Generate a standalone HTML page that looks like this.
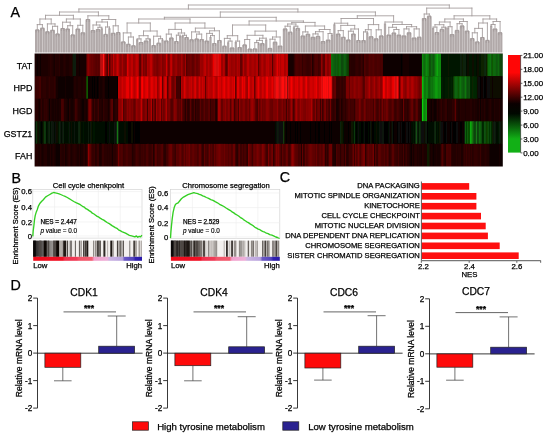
<!DOCTYPE html>
<html><head><meta charset="utf-8"><title>Figure</title>
<style>html,body{margin:0;padding:0;background:#fff;}body{width:550px;height:437px;overflow:hidden;font-family:"Liberation Sans",Arial,sans-serif;}svg text{font-family:"Liberation Sans",Arial,sans-serif;}</style>
</head><body><svg width="550" height="437" viewBox="0 0 550 437" font-family="Liberation Sans, Arial, sans-serif" style="display:block"><defs><filter id="hb" x="-2%" y="-5%" width="104%" height="110%"><feGaussianBlur stdDeviation="0.55 0.35"/></filter><clipPath id="hc"><rect x="34.6" y="53.5" width="468.2" height="113.1"/></clipPath></defs>
<g clip-path="url(#hc)"><g filter="url(#hb)">
<rect x="30.8" y="49.7" width="475.8" height="120.7" fill="#140000"/>
<rect x="34.80" y="53.70" width="1.41" height="22.64" fill="#1d0000"/>
<rect x="36.06" y="53.70" width="1.41" height="22.64" fill="#120000"/>
<rect x="37.32" y="53.70" width="1.41" height="22.64" fill="#110000"/>
<rect x="38.58" y="53.70" width="1.41" height="22.64" fill="#1b0000"/>
<rect x="39.84" y="53.70" width="1.41" height="22.64" fill="#0f0000"/>
<rect x="41.10" y="53.70" width="1.41" height="22.64" fill="#200000"/>
<rect x="42.37" y="53.70" width="1.41" height="22.64" fill="#1c0000"/>
<rect x="43.63" y="53.70" width="1.41" height="22.64" fill="#200000"/>
<rect x="44.89" y="53.70" width="1.41" height="22.64" fill="#1d0000"/>
<rect x="46.15" y="53.70" width="1.41" height="22.64" fill="#1b0000"/>
<rect x="47.41" y="53.70" width="1.41" height="22.64" fill="#250000"/>
<rect x="48.67" y="53.70" width="1.41" height="22.64" fill="#240000"/>
<rect x="49.93" y="53.70" width="1.41" height="22.64" fill="#290000"/>
<rect x="51.19" y="53.70" width="1.41" height="22.64" fill="#280000"/>
<rect x="52.45" y="53.70" width="1.41" height="22.64" fill="#260000"/>
<rect x="53.71" y="53.70" width="1.41" height="22.64" fill="#120000"/>
<rect x="54.97" y="53.70" width="1.41" height="22.64" fill="#280000"/>
<rect x="56.24" y="53.70" width="1.41" height="22.64" fill="#260000"/>
<rect x="57.50" y="53.70" width="1.41" height="22.64" fill="#270000"/>
<rect x="58.76" y="53.70" width="1.41" height="22.64" fill="#290000"/>
<rect x="60.02" y="53.70" width="1.41" height="22.64" fill="#200000"/>
<rect x="61.28" y="53.70" width="1.41" height="22.64" fill="#220000"/>
<rect x="62.54" y="53.70" width="1.41" height="22.64" fill="#240000"/>
<rect x="63.80" y="53.70" width="1.41" height="22.64" fill="#260000"/>
<rect x="65.06" y="53.70" width="1.41" height="22.64" fill="#220000"/>
<rect x="66.32" y="53.70" width="1.41" height="22.64" fill="#200000"/>
<rect x="67.58" y="53.70" width="1.41" height="22.64" fill="#1f0000"/>
<rect x="68.84" y="53.70" width="1.41" height="22.64" fill="#240000"/>
<rect x="70.11" y="53.70" width="1.41" height="22.64" fill="#250000"/>
<rect x="71.37" y="53.70" width="1.41" height="22.64" fill="#240000"/>
<rect x="72.63" y="53.70" width="1.41" height="22.64" fill="#0c1b08"/>
<rect x="73.89" y="53.70" width="2.67" height="22.64" fill="#0c1a08"/>
<rect x="76.41" y="53.70" width="1.41" height="22.64" fill="#1a0000"/>
<rect x="77.67" y="53.70" width="1.41" height="22.64" fill="#170000"/>
<rect x="78.93" y="53.70" width="1.41" height="22.64" fill="#0e0000"/>
<rect x="80.19" y="53.70" width="3.93" height="22.64" fill="#160000"/>
<rect x="83.98" y="53.70" width="1.41" height="22.64" fill="#170000"/>
<rect x="85.24" y="53.70" width="1.41" height="22.64" fill="#160000"/>
<rect x="86.50" y="53.70" width="1.41" height="22.64" fill="#830000"/>
<rect x="87.76" y="53.70" width="1.41" height="22.64" fill="#8a0000"/>
<rect x="89.02" y="53.70" width="1.41" height="22.64" fill="#7b0000"/>
<rect x="90.28" y="53.70" width="1.41" height="22.64" fill="#7e0000"/>
<rect x="91.54" y="53.70" width="1.41" height="22.64" fill="#720000"/>
<rect x="92.80" y="53.70" width="1.41" height="22.64" fill="#620000"/>
<rect x="94.06" y="53.70" width="1.41" height="22.64" fill="#630000"/>
<rect x="95.32" y="53.70" width="1.41" height="22.64" fill="#6b0000"/>
<rect x="96.58" y="53.70" width="1.41" height="22.64" fill="#5e0000"/>
<rect x="97.85" y="53.70" width="1.41" height="22.64" fill="#570000"/>
<rect x="99.11" y="53.70" width="1.41" height="22.64" fill="#620000"/>
<rect x="100.37" y="53.70" width="1.41" height="22.64" fill="#f01313"/>
<rect x="101.63" y="53.70" width="1.41" height="22.64" fill="#b20e0e"/>
<rect x="102.89" y="53.70" width="1.41" height="22.64" fill="#fd1414"/>
<rect x="104.15" y="53.70" width="1.41" height="22.64" fill="#cf0000"/>
<rect x="105.41" y="53.70" width="1.41" height="22.64" fill="#990000"/>
<rect x="106.67" y="53.70" width="1.41" height="22.64" fill="#4b0000"/>
<rect x="107.93" y="53.70" width="1.41" height="22.64" fill="#b80000"/>
<rect x="109.19" y="53.70" width="1.41" height="22.64" fill="#550000"/>
<rect x="110.45" y="53.70" width="1.41" height="22.64" fill="#ae0000"/>
<rect x="111.72" y="53.70" width="1.41" height="22.64" fill="#820000"/>
<rect x="112.98" y="53.70" width="1.41" height="22.64" fill="#c00000"/>
<rect x="114.24" y="53.70" width="1.41" height="22.64" fill="#b20000"/>
<rect x="115.50" y="53.70" width="1.41" height="22.64" fill="#b60000"/>
<rect x="116.76" y="53.70" width="1.41" height="22.64" fill="#c90000"/>
<rect x="118.02" y="53.70" width="1.41" height="22.64" fill="#ba0000"/>
<rect x="119.28" y="53.70" width="1.41" height="22.64" fill="#ac0000"/>
<rect x="120.54" y="53.70" width="1.41" height="22.64" fill="#8e0000"/>
<rect x="121.80" y="53.70" width="1.41" height="22.64" fill="#a80000"/>
<rect x="123.06" y="53.70" width="1.41" height="22.64" fill="#8f0000"/>
<rect x="124.33" y="53.70" width="1.41" height="22.64" fill="#9f0000"/>
<rect x="125.59" y="53.70" width="1.41" height="22.64" fill="#7c0000"/>
<rect x="126.85" y="53.70" width="1.41" height="22.64" fill="#de0000"/>
<rect x="128.11" y="53.70" width="1.41" height="22.64" fill="#d30000"/>
<rect x="129.37" y="53.70" width="1.41" height="22.64" fill="#c50000"/>
<rect x="130.63" y="53.70" width="2.67" height="22.64" fill="#be0000"/>
<rect x="133.15" y="53.70" width="1.41" height="22.64" fill="#aa0000"/>
<rect x="134.41" y="53.70" width="1.41" height="22.64" fill="#c50000"/>
<rect x="135.67" y="53.70" width="1.41" height="22.64" fill="#bf0000"/>
<rect x="136.93" y="53.70" width="1.41" height="22.64" fill="#bd0000"/>
<rect x="138.20" y="53.70" width="1.41" height="22.64" fill="#bc0000"/>
<rect x="139.46" y="53.70" width="1.41" height="22.64" fill="#4a0000"/>
<rect x="140.72" y="53.70" width="1.41" height="22.64" fill="#920000"/>
<rect x="141.98" y="53.70" width="1.41" height="22.64" fill="#a80000"/>
<rect x="143.24" y="53.70" width="2.67" height="22.64" fill="#860000"/>
<rect x="145.76" y="53.70" width="1.41" height="22.64" fill="#740000"/>
<rect x="147.02" y="53.70" width="1.41" height="22.64" fill="#b00000"/>
<rect x="148.28" y="53.70" width="1.41" height="22.64" fill="#c00000"/>
<rect x="149.54" y="53.70" width="1.41" height="22.64" fill="#c80000"/>
<rect x="150.80" y="53.70" width="1.41" height="22.64" fill="#c10000"/>
<rect x="152.07" y="53.70" width="1.41" height="22.64" fill="#ac0000"/>
<rect x="153.33" y="53.70" width="1.41" height="22.64" fill="#a20000"/>
<rect x="154.59" y="53.70" width="1.41" height="22.64" fill="#8a0000"/>
<rect x="155.85" y="53.70" width="1.41" height="22.64" fill="#7b0000"/>
<rect x="157.11" y="53.70" width="1.41" height="22.64" fill="#7f0000"/>
<rect x="158.37" y="53.70" width="1.41" height="22.64" fill="#a40000"/>
<rect x="159.63" y="53.70" width="1.41" height="22.64" fill="#930000"/>
<rect x="160.89" y="53.70" width="1.41" height="22.64" fill="#9d0000"/>
<rect x="162.15" y="53.70" width="1.41" height="22.64" fill="#8b0000"/>
<rect x="163.41" y="53.70" width="1.41" height="22.64" fill="#a20000"/>
<rect x="164.67" y="53.70" width="1.41" height="22.64" fill="#8b0000"/>
<rect x="165.94" y="53.70" width="1.41" height="22.64" fill="#ce0000"/>
<rect x="167.20" y="53.70" width="1.41" height="22.64" fill="#af0000"/>
<rect x="168.46" y="53.70" width="1.41" height="22.64" fill="#7b0000"/>
<rect x="169.72" y="53.70" width="1.41" height="22.64" fill="#b90000"/>
<rect x="170.98" y="53.70" width="1.41" height="22.64" fill="#c40000"/>
<rect x="172.24" y="53.70" width="1.41" height="22.64" fill="#aa0000"/>
<rect x="173.50" y="53.70" width="1.41" height="22.64" fill="#950000"/>
<rect x="174.76" y="53.70" width="1.41" height="22.64" fill="#980000"/>
<rect x="176.02" y="53.70" width="1.41" height="22.64" fill="#a10000"/>
<rect x="177.28" y="53.70" width="1.41" height="22.64" fill="#9c0000"/>
<rect x="178.54" y="53.70" width="1.41" height="22.64" fill="#8f0000"/>
<rect x="179.81" y="53.70" width="1.41" height="22.64" fill="#830000"/>
<rect x="181.07" y="53.70" width="1.41" height="22.64" fill="#ab0000"/>
<rect x="182.33" y="53.70" width="1.41" height="22.64" fill="#ac0000"/>
<rect x="183.59" y="53.70" width="1.41" height="22.64" fill="#6f0000"/>
<rect x="184.85" y="53.70" width="1.41" height="22.64" fill="#a30000"/>
<rect x="186.11" y="53.70" width="1.41" height="22.64" fill="#570000"/>
<rect x="187.37" y="53.70" width="1.41" height="22.64" fill="#7e0000"/>
<rect x="188.63" y="53.70" width="1.41" height="22.64" fill="#680000"/>
<rect x="189.89" y="53.70" width="1.41" height="22.64" fill="#700000"/>
<rect x="191.15" y="53.70" width="1.41" height="22.64" fill="#760000"/>
<rect x="192.41" y="53.70" width="1.41" height="22.64" fill="#6b0000"/>
<rect x="193.68" y="53.70" width="1.41" height="22.64" fill="#6e0000"/>
<rect x="194.94" y="53.70" width="1.41" height="22.64" fill="#7b0000"/>
<rect x="196.20" y="53.70" width="1.41" height="22.64" fill="#760000"/>
<rect x="197.46" y="53.70" width="1.41" height="22.64" fill="#7e0000"/>
<rect x="198.72" y="53.70" width="1.41" height="22.64" fill="#770000"/>
<rect x="199.98" y="53.70" width="1.41" height="22.64" fill="#9e0000"/>
<rect x="201.24" y="53.70" width="1.41" height="22.64" fill="#b20000"/>
<rect x="202.50" y="53.70" width="1.41" height="22.64" fill="#b30000"/>
<rect x="203.76" y="53.70" width="1.41" height="22.64" fill="#bb0000"/>
<rect x="205.02" y="53.70" width="1.41" height="22.64" fill="#c40000"/>
<rect x="206.28" y="53.70" width="1.41" height="22.64" fill="#b60000"/>
<rect x="207.55" y="53.70" width="1.41" height="22.64" fill="#c00000"/>
<rect x="208.81" y="53.70" width="1.41" height="22.64" fill="#a60000"/>
<rect x="210.07" y="53.70" width="1.41" height="22.64" fill="#a50000"/>
<rect x="211.33" y="53.70" width="1.41" height="22.64" fill="#ce0000"/>
<rect x="212.59" y="53.70" width="1.41" height="22.64" fill="#ee0000"/>
<rect x="213.85" y="53.70" width="1.41" height="22.64" fill="#df0e0e"/>
<rect x="215.11" y="53.70" width="1.41" height="22.64" fill="#f70f0f"/>
<rect x="216.37" y="53.70" width="1.41" height="22.64" fill="#ff1010"/>
<rect x="217.63" y="53.70" width="1.41" height="22.64" fill="#e20e0e"/>
<rect x="218.89" y="53.70" width="1.41" height="22.64" fill="#dd0000"/>
<rect x="220.15" y="53.70" width="1.41" height="22.64" fill="#f70000"/>
<rect x="221.42" y="53.70" width="1.41" height="22.64" fill="#a80000"/>
<rect x="222.68" y="53.70" width="1.41" height="22.64" fill="#b50000"/>
<rect x="223.94" y="53.70" width="1.41" height="22.64" fill="#a90000"/>
<rect x="225.20" y="53.70" width="1.41" height="22.64" fill="#740000"/>
<rect x="226.46" y="53.70" width="1.41" height="22.64" fill="#610000"/>
<rect x="227.72" y="53.70" width="1.41" height="22.64" fill="#b80000"/>
<rect x="228.98" y="53.70" width="1.41" height="22.64" fill="#a40000"/>
<rect x="230.24" y="53.70" width="1.41" height="22.64" fill="#be0000"/>
<rect x="231.50" y="53.70" width="1.41" height="22.64" fill="#a60000"/>
<rect x="232.76" y="53.70" width="1.41" height="22.64" fill="#9d0000"/>
<rect x="234.02" y="53.70" width="1.41" height="22.64" fill="#a50000"/>
<rect x="235.29" y="53.70" width="1.41" height="22.64" fill="#aa0000"/>
<rect x="236.55" y="53.70" width="1.41" height="22.64" fill="#b70000"/>
<rect x="237.81" y="53.70" width="1.41" height="22.64" fill="#a00000"/>
<rect x="239.07" y="53.70" width="1.41" height="22.64" fill="#af0000"/>
<rect x="240.33" y="53.70" width="1.41" height="22.64" fill="#680000"/>
<rect x="241.59" y="53.70" width="1.41" height="22.64" fill="#7c0000"/>
<rect x="242.85" y="53.70" width="1.41" height="22.64" fill="#b10000"/>
<rect x="244.11" y="53.70" width="1.41" height="22.64" fill="#9e0000"/>
<rect x="245.37" y="53.70" width="1.41" height="22.64" fill="#ab0000"/>
<rect x="246.63" y="53.70" width="1.41" height="22.64" fill="#ba0000"/>
<rect x="247.89" y="53.70" width="1.41" height="22.64" fill="#bd0000"/>
<rect x="249.16" y="53.70" width="1.41" height="22.64" fill="#b30000"/>
<rect x="250.42" y="53.70" width="1.41" height="22.64" fill="#bd0000"/>
<rect x="251.68" y="53.70" width="1.41" height="22.64" fill="#ad0000"/>
<rect x="252.94" y="53.70" width="1.41" height="22.64" fill="#ab0000"/>
<rect x="254.20" y="53.70" width="1.41" height="22.64" fill="#b40000"/>
<rect x="255.46" y="53.70" width="1.41" height="22.64" fill="#c50000"/>
<rect x="256.72" y="53.70" width="1.41" height="22.64" fill="#b40000"/>
<rect x="257.98" y="53.70" width="1.41" height="22.64" fill="#5b0000"/>
<rect x="259.24" y="53.70" width="1.41" height="22.64" fill="#a20000"/>
<rect x="260.50" y="53.70" width="1.41" height="22.64" fill="#b60000"/>
<rect x="261.76" y="53.70" width="1.41" height="22.64" fill="#b30000"/>
<rect x="263.03" y="53.70" width="1.41" height="22.64" fill="#a60000"/>
<rect x="264.29" y="53.70" width="1.41" height="22.64" fill="#b20000"/>
<rect x="265.55" y="53.70" width="1.41" height="22.64" fill="#c00000"/>
<rect x="266.81" y="53.70" width="1.41" height="22.64" fill="#b40000"/>
<rect x="268.07" y="53.70" width="1.41" height="22.64" fill="#c50000"/>
<rect x="269.33" y="53.70" width="1.41" height="22.64" fill="#c00000"/>
<rect x="270.59" y="53.70" width="1.41" height="22.64" fill="#b90000"/>
<rect x="271.85" y="53.70" width="1.41" height="22.64" fill="#550000"/>
<rect x="273.11" y="53.70" width="1.41" height="22.64" fill="#a40000"/>
<rect x="274.37" y="53.70" width="1.41" height="22.64" fill="#c80000"/>
<rect x="275.64" y="53.70" width="1.41" height="22.64" fill="#c10000"/>
<rect x="276.90" y="53.70" width="1.41" height="22.64" fill="#e20000"/>
<rect x="278.16" y="53.70" width="2.67" height="22.64" fill="#c90000"/>
<rect x="280.68" y="53.70" width="1.41" height="22.64" fill="#c40000"/>
<rect x="281.94" y="53.70" width="1.41" height="22.64" fill="#c80000"/>
<rect x="283.20" y="53.70" width="1.41" height="22.64" fill="#e60000"/>
<rect x="284.46" y="53.70" width="1.41" height="22.64" fill="#b90000"/>
<rect x="285.72" y="53.70" width="1.41" height="22.64" fill="#bc0000"/>
<rect x="286.98" y="53.70" width="1.41" height="22.64" fill="#b00000"/>
<rect x="288.24" y="53.70" width="1.41" height="22.64" fill="#160000"/>
<rect x="289.51" y="53.70" width="1.41" height="22.64" fill="#150000"/>
<rect x="290.77" y="53.70" width="2.67" height="22.64" fill="#140000"/>
<rect x="293.29" y="53.70" width="1.41" height="22.64" fill="#240000"/>
<rect x="294.55" y="53.70" width="1.41" height="22.64" fill="#470000"/>
<rect x="295.81" y="53.70" width="1.41" height="22.64" fill="#4b0000"/>
<rect x="297.07" y="53.70" width="1.41" height="22.64" fill="#4d0000"/>
<rect x="298.33" y="53.70" width="1.41" height="22.64" fill="#500000"/>
<rect x="299.59" y="53.70" width="1.41" height="22.64" fill="#480000"/>
<rect x="300.85" y="53.70" width="1.41" height="22.64" fill="#450000"/>
<rect x="302.11" y="53.70" width="1.41" height="22.64" fill="#360000"/>
<rect x="303.38" y="53.70" width="1.41" height="22.64" fill="#510000"/>
<rect x="304.64" y="53.70" width="1.41" height="22.64" fill="#3e0000"/>
<rect x="305.90" y="53.70" width="1.41" height="22.64" fill="#370000"/>
<rect x="307.16" y="53.70" width="1.41" height="22.64" fill="#3c0000"/>
<rect x="308.42" y="53.70" width="1.41" height="22.64" fill="#3f0000"/>
<rect x="309.68" y="53.70" width="1.41" height="22.64" fill="#3d0000"/>
<rect x="310.94" y="53.70" width="1.41" height="22.64" fill="#4d0000"/>
<rect x="312.20" y="53.70" width="1.41" height="22.64" fill="#220000"/>
<rect x="313.46" y="53.70" width="1.41" height="22.64" fill="#490000"/>
<rect x="314.72" y="53.70" width="1.41" height="22.64" fill="#500000"/>
<rect x="315.98" y="53.70" width="2.67" height="22.64" fill="#4d0000"/>
<rect x="318.51" y="53.70" width="1.41" height="22.64" fill="#430000"/>
<rect x="319.77" y="53.70" width="1.41" height="22.64" fill="#4e0000"/>
<rect x="321.03" y="53.70" width="1.41" height="22.64" fill="#970000"/>
<rect x="322.29" y="53.70" width="1.41" height="22.64" fill="#890000"/>
<rect x="323.55" y="53.70" width="1.41" height="22.64" fill="#4b0000"/>
<rect x="324.81" y="53.70" width="2.67" height="22.64" fill="#9d0000"/>
<rect x="327.33" y="53.70" width="1.41" height="22.64" fill="#960000"/>
<rect x="328.59" y="53.70" width="1.41" height="22.64" fill="#950000"/>
<rect x="329.85" y="53.70" width="1.41" height="22.64" fill="#9e0000"/>
<rect x="331.12" y="53.70" width="1.41" height="22.64" fill="#0f790f"/>
<rect x="332.38" y="53.70" width="1.41" height="22.64" fill="#108110"/>
<rect x="333.64" y="53.70" width="1.41" height="22.64" fill="#0a5d0a"/>
<rect x="334.90" y="53.70" width="1.41" height="22.64" fill="#095609"/>
<rect x="336.16" y="53.70" width="1.41" height="22.64" fill="#096f09"/>
<rect x="337.42" y="53.70" width="1.41" height="22.64" fill="#096909"/>
<rect x="338.68" y="53.70" width="1.41" height="22.64" fill="#096509"/>
<rect x="339.94" y="53.70" width="1.41" height="22.64" fill="#0a620a"/>
<rect x="341.20" y="53.70" width="1.41" height="22.64" fill="#095409"/>
<rect x="342.46" y="53.70" width="1.41" height="22.64" fill="#0a5b0a"/>
<rect x="343.72" y="53.70" width="1.41" height="22.64" fill="#0a620a"/>
<rect x="344.99" y="53.70" width="1.41" height="22.64" fill="#0a5a0a"/>
<rect x="346.25" y="53.70" width="1.41" height="22.64" fill="#095509"/>
<rect x="347.51" y="53.70" width="1.41" height="22.64" fill="#095109"/>
<rect x="348.77" y="53.70" width="1.41" height="22.64" fill="#280000"/>
<rect x="350.03" y="53.70" width="1.41" height="22.64" fill="#2c0000"/>
<rect x="351.29" y="53.70" width="1.41" height="22.64" fill="#290000"/>
<rect x="352.55" y="53.70" width="1.41" height="22.64" fill="#2b0000"/>
<rect x="353.81" y="53.70" width="1.41" height="22.64" fill="#280000"/>
<rect x="355.07" y="53.70" width="3.93" height="22.64" fill="#300000"/>
<rect x="358.86" y="53.70" width="1.41" height="22.64" fill="#2b0000"/>
<rect x="360.12" y="53.70" width="1.41" height="22.64" fill="#310000"/>
<rect x="361.38" y="53.70" width="1.41" height="22.64" fill="#490000"/>
<rect x="362.64" y="53.70" width="1.41" height="22.64" fill="#220000"/>
<rect x="363.90" y="53.70" width="1.41" height="22.64" fill="#500000"/>
<rect x="365.16" y="53.70" width="1.41" height="22.64" fill="#510000"/>
<rect x="366.42" y="53.70" width="1.41" height="22.64" fill="#470000"/>
<rect x="367.68" y="53.70" width="1.41" height="22.64" fill="#460000"/>
<rect x="368.94" y="53.70" width="1.41" height="22.64" fill="#520000"/>
<rect x="370.20" y="53.70" width="1.41" height="22.64" fill="#570000"/>
<rect x="371.46" y="53.70" width="1.41" height="22.64" fill="#590000"/>
<rect x="372.73" y="53.70" width="1.41" height="22.64" fill="#530000"/>
<rect x="373.99" y="53.70" width="1.41" height="22.64" fill="#4b0000"/>
<rect x="375.25" y="53.70" width="1.41" height="22.64" fill="#510000"/>
<rect x="376.51" y="53.70" width="1.41" height="22.64" fill="#550000"/>
<rect x="377.77" y="53.70" width="1.41" height="22.64" fill="#4b0000"/>
<rect x="379.03" y="53.70" width="1.41" height="22.64" fill="#4c0000"/>
<rect x="380.29" y="53.70" width="1.41" height="22.64" fill="#500000"/>
<rect x="381.55" y="53.70" width="1.41" height="22.64" fill="#560000"/>
<rect x="382.81" y="53.70" width="5.19" height="22.64" fill="#0e0000"/>
<rect x="387.86" y="53.70" width="1.41" height="22.64" fill="#100000"/>
<rect x="389.12" y="53.70" width="1.41" height="22.64" fill="#0e0000"/>
<rect x="390.38" y="53.70" width="1.41" height="22.64" fill="#100000"/>
<rect x="391.64" y="53.70" width="2.67" height="22.64" fill="#0d0000"/>
<rect x="394.16" y="53.70" width="2.67" height="22.64" fill="#080000"/>
<rect x="396.68" y="53.70" width="1.41" height="22.64" fill="#0a0000"/>
<rect x="397.94" y="53.70" width="2.67" height="22.64" fill="#090000"/>
<rect x="400.47" y="53.70" width="1.41" height="22.64" fill="#040000"/>
<rect x="401.73" y="53.70" width="1.41" height="22.64" fill="#0a0000"/>
<rect x="402.99" y="53.70" width="1.41" height="22.64" fill="#160000"/>
<rect x="404.25" y="53.70" width="1.41" height="22.64" fill="#180000"/>
<rect x="405.51" y="53.70" width="1.41" height="22.64" fill="#150000"/>
<rect x="406.77" y="53.70" width="1.41" height="22.64" fill="#160000"/>
<rect x="408.03" y="53.70" width="1.41" height="22.64" fill="#180000"/>
<rect x="409.29" y="53.70" width="1.41" height="22.64" fill="#040000"/>
<rect x="410.55" y="53.70" width="2.67" height="22.64" fill="#090000"/>
<rect x="413.07" y="53.70" width="1.41" height="22.64" fill="#080000"/>
<rect x="414.34" y="53.70" width="2.67" height="22.64" fill="#0a0000"/>
<rect x="416.86" y="53.70" width="2.67" height="22.64" fill="#080000"/>
<rect x="419.38" y="53.70" width="2.67" height="22.64" fill="#090000"/>
<rect x="421.90" y="53.70" width="1.41" height="22.64" fill="#0a8b0a"/>
<rect x="423.16" y="53.70" width="1.41" height="22.64" fill="#098209"/>
<rect x="424.42" y="53.70" width="1.41" height="22.64" fill="#098409"/>
<rect x="425.68" y="53.70" width="1.41" height="22.64" fill="#0a8d0a"/>
<rect x="426.95" y="53.70" width="1.41" height="22.64" fill="#097e09"/>
<rect x="428.21" y="53.70" width="1.41" height="22.64" fill="#098609"/>
<rect x="429.47" y="53.70" width="1.41" height="22.64" fill="#095609"/>
<rect x="430.73" y="53.70" width="1.41" height="22.64" fill="#0a680a"/>
<rect x="431.99" y="53.70" width="1.41" height="22.64" fill="#095f09"/>
<rect x="433.25" y="53.70" width="1.41" height="22.64" fill="#0a680a"/>
<rect x="434.51" y="53.70" width="1.41" height="22.64" fill="#098b09"/>
<rect x="435.77" y="53.70" width="1.41" height="22.64" fill="#099709"/>
<rect x="437.03" y="53.70" width="1.41" height="22.64" fill="#11ad11"/>
<rect x="438.29" y="53.70" width="1.41" height="22.64" fill="#0f9d0f"/>
<rect x="439.55" y="53.70" width="1.41" height="22.64" fill="#10a910"/>
<rect x="440.82" y="53.70" width="1.41" height="22.64" fill="#041604"/>
<rect x="442.08" y="53.70" width="2.67" height="22.64" fill="#051905"/>
<rect x="444.60" y="53.70" width="2.67" height="22.64" fill="#041704"/>
<rect x="447.12" y="53.70" width="1.41" height="22.64" fill="#041604"/>
<rect x="448.38" y="53.70" width="1.41" height="22.64" fill="#051a05"/>
<rect x="449.64" y="53.70" width="1.41" height="22.64" fill="#041704"/>
<rect x="450.90" y="53.70" width="1.41" height="22.64" fill="#051905"/>
<rect x="452.16" y="53.70" width="1.41" height="22.64" fill="#041704"/>
<rect x="453.42" y="53.70" width="1.41" height="22.64" fill="#051905"/>
<rect x="454.69" y="53.70" width="1.41" height="22.64" fill="#041704"/>
<rect x="455.95" y="53.70" width="1.41" height="22.64" fill="#041604"/>
<rect x="457.21" y="53.70" width="1.41" height="22.64" fill="#041704"/>
<rect x="458.47" y="53.70" width="1.41" height="22.64" fill="#051a05"/>
<rect x="459.73" y="53.70" width="1.41" height="22.64" fill="#082408"/>
<rect x="460.99" y="53.70" width="1.41" height="22.64" fill="#071e07"/>
<rect x="462.25" y="53.70" width="3.93" height="22.64" fill="#082408"/>
<rect x="466.03" y="53.70" width="1.41" height="22.64" fill="#051205"/>
<rect x="467.29" y="53.70" width="1.41" height="22.64" fill="#061406"/>
<rect x="468.56" y="53.70" width="3.93" height="22.64" fill="#051305"/>
<rect x="472.34" y="53.70" width="1.41" height="22.64" fill="#061506"/>
<rect x="473.60" y="53.70" width="1.41" height="22.64" fill="#051205"/>
<rect x="474.86" y="53.70" width="1.41" height="22.64" fill="#061506"/>
<rect x="476.12" y="53.70" width="1.41" height="22.64" fill="#051305"/>
<rect x="477.38" y="53.70" width="1.41" height="22.64" fill="#061506"/>
<rect x="478.64" y="53.70" width="2.67" height="22.64" fill="#061406"/>
<rect x="481.16" y="53.70" width="1.41" height="22.64" fill="#072607"/>
<rect x="482.43" y="53.70" width="1.41" height="22.64" fill="#082a08"/>
<rect x="483.69" y="53.70" width="1.41" height="22.64" fill="#082808"/>
<rect x="484.95" y="53.70" width="1.41" height="22.64" fill="#082b08"/>
<rect x="486.21" y="53.70" width="1.41" height="22.64" fill="#072407"/>
<rect x="487.47" y="53.70" width="1.41" height="22.64" fill="#0a740a"/>
<rect x="488.73" y="53.70" width="1.41" height="22.64" fill="#096e09"/>
<rect x="489.99" y="53.70" width="1.41" height="22.64" fill="#0a750a"/>
<rect x="491.25" y="53.70" width="1.41" height="22.64" fill="#096709"/>
<rect x="492.51" y="53.70" width="1.41" height="22.64" fill="#0a710a"/>
<rect x="493.77" y="53.70" width="1.41" height="22.64" fill="#096909"/>
<rect x="495.03" y="53.70" width="1.41" height="22.64" fill="#096809"/>
<rect x="496.30" y="53.70" width="1.41" height="22.64" fill="#096c09"/>
<rect x="497.56" y="53.70" width="1.41" height="22.64" fill="#0a700a"/>
<rect x="498.82" y="53.70" width="1.41" height="22.64" fill="#0a520a"/>
<rect x="500.08" y="53.70" width="1.41" height="22.64" fill="#094f09"/>
<rect x="501.34" y="53.70" width="1.41" height="22.64" fill="#0a560a"/>
<rect x="34.80" y="76.24" width="1.41" height="22.64" fill="#3a0000"/>
<rect x="36.06" y="76.24" width="1.41" height="22.64" fill="#3b0000"/>
<rect x="37.32" y="76.24" width="1.41" height="22.64" fill="#450000"/>
<rect x="38.58" y="76.24" width="2.67" height="22.64" fill="#440000"/>
<rect x="41.10" y="76.24" width="1.41" height="22.64" fill="#2d0000"/>
<rect x="42.37" y="76.24" width="1.41" height="22.64" fill="#330000"/>
<rect x="43.63" y="76.24" width="1.41" height="22.64" fill="#300000"/>
<rect x="44.89" y="76.24" width="1.41" height="22.64" fill="#2d0000"/>
<rect x="46.15" y="76.24" width="1.41" height="22.64" fill="#2c0000"/>
<rect x="47.41" y="76.24" width="1.41" height="22.64" fill="#2d0000"/>
<rect x="48.67" y="76.24" width="1.41" height="22.64" fill="#310000"/>
<rect x="49.93" y="76.24" width="1.41" height="22.64" fill="#2b0000"/>
<rect x="51.19" y="76.24" width="1.41" height="22.64" fill="#310000"/>
<rect x="52.45" y="76.24" width="1.41" height="22.64" fill="#2e0000"/>
<rect x="53.71" y="76.24" width="1.41" height="22.64" fill="#320000"/>
<rect x="54.97" y="76.24" width="1.41" height="22.64" fill="#2c0000"/>
<rect x="56.24" y="76.24" width="1.41" height="22.64" fill="#110000"/>
<rect x="57.50" y="76.24" width="1.41" height="22.64" fill="#120000"/>
<rect x="58.76" y="76.24" width="1.41" height="22.64" fill="#100000"/>
<rect x="60.02" y="76.24" width="5.19" height="22.64" fill="#110000"/>
<rect x="65.06" y="76.24" width="1.41" height="22.64" fill="#130000"/>
<rect x="66.32" y="76.24" width="1.41" height="22.64" fill="#110000"/>
<rect x="67.58" y="76.24" width="1.41" height="22.64" fill="#120000"/>
<rect x="68.84" y="76.24" width="1.41" height="22.64" fill="#100000"/>
<rect x="70.11" y="76.24" width="3.93" height="22.64" fill="#110000"/>
<rect x="73.89" y="76.24" width="1.41" height="22.64" fill="#200000"/>
<rect x="75.15" y="76.24" width="1.41" height="22.64" fill="#240000"/>
<rect x="76.41" y="76.24" width="1.41" height="22.64" fill="#210000"/>
<rect x="77.67" y="76.24" width="1.41" height="22.64" fill="#230000"/>
<rect x="78.93" y="76.24" width="1.41" height="22.64" fill="#210000"/>
<rect x="80.19" y="76.24" width="1.41" height="22.64" fill="#240000"/>
<rect x="81.45" y="76.24" width="1.41" height="22.64" fill="#210000"/>
<rect x="82.71" y="76.24" width="1.41" height="22.64" fill="#250000"/>
<rect x="83.98" y="76.24" width="1.41" height="22.64" fill="#220000"/>
<rect x="85.24" y="76.24" width="1.41" height="22.64" fill="#260000"/>
<rect x="86.50" y="76.24" width="1.41" height="22.64" fill="#097d09"/>
<rect x="87.76" y="76.24" width="3.93" height="22.64" fill="#080000"/>
<rect x="91.54" y="76.24" width="1.41" height="22.64" fill="#070000"/>
<rect x="92.80" y="76.24" width="1.41" height="22.64" fill="#080000"/>
<rect x="94.06" y="76.24" width="1.41" height="22.64" fill="#070000"/>
<rect x="95.32" y="76.24" width="1.41" height="22.64" fill="#080000"/>
<rect x="96.58" y="76.24" width="1.41" height="22.64" fill="#070000"/>
<rect x="97.85" y="76.24" width="1.41" height="22.64" fill="#080000"/>
<rect x="99.11" y="76.24" width="1.41" height="22.64" fill="#1d0000"/>
<rect x="100.37" y="76.24" width="1.41" height="22.64" fill="#170000"/>
<rect x="101.63" y="76.24" width="1.41" height="22.64" fill="#1d0000"/>
<rect x="102.89" y="76.24" width="1.41" height="22.64" fill="#200000"/>
<rect x="104.15" y="76.24" width="1.41" height="22.64" fill="#1e0000"/>
<rect x="105.41" y="76.24" width="2.67" height="22.64" fill="#0a0500"/>
<rect x="107.93" y="76.24" width="1.41" height="22.64" fill="#060300"/>
<rect x="109.19" y="76.24" width="1.41" height="22.64" fill="#090400"/>
<rect x="110.45" y="76.24" width="1.41" height="22.64" fill="#0a0500"/>
<rect x="111.72" y="76.24" width="5.19" height="22.64" fill="#090400"/>
<rect x="116.76" y="76.24" width="1.41" height="22.64" fill="#060300"/>
<rect x="118.02" y="76.24" width="1.41" height="22.64" fill="#c70000"/>
<rect x="119.28" y="76.24" width="1.41" height="22.64" fill="#e20000"/>
<rect x="120.54" y="76.24" width="1.41" height="22.64" fill="#c60000"/>
<rect x="121.80" y="76.24" width="1.41" height="22.64" fill="#d30000"/>
<rect x="123.06" y="76.24" width="1.41" height="22.64" fill="#c90000"/>
<rect x="124.33" y="76.24" width="1.41" height="22.64" fill="#eb0000"/>
<rect x="125.59" y="76.24" width="1.41" height="22.64" fill="#e40000"/>
<rect x="126.85" y="76.24" width="1.41" height="22.64" fill="#ea0000"/>
<rect x="128.11" y="76.24" width="1.41" height="22.64" fill="#fb0000"/>
<rect x="129.37" y="76.24" width="1.41" height="22.64" fill="#da0000"/>
<rect x="130.63" y="76.24" width="1.41" height="22.64" fill="#f90000"/>
<rect x="131.89" y="76.24" width="1.41" height="22.64" fill="#e10000"/>
<rect x="133.15" y="76.24" width="1.41" height="22.64" fill="#d90000"/>
<rect x="134.41" y="76.24" width="1.41" height="22.64" fill="#de0000"/>
<rect x="135.67" y="76.24" width="1.41" height="22.64" fill="#d90000"/>
<rect x="136.93" y="76.24" width="1.41" height="22.64" fill="#ff0000"/>
<rect x="138.20" y="76.24" width="1.41" height="22.64" fill="#f40000"/>
<rect x="139.46" y="76.24" width="1.41" height="22.64" fill="#7c0000"/>
<rect x="140.72" y="76.24" width="1.41" height="22.64" fill="#ef0000"/>
<rect x="141.98" y="76.24" width="1.41" height="22.64" fill="#ff0000"/>
<rect x="143.24" y="76.24" width="1.41" height="22.64" fill="#ef0000"/>
<rect x="144.50" y="76.24" width="1.41" height="22.64" fill="#ed0000"/>
<rect x="145.76" y="76.24" width="1.41" height="22.64" fill="#e50000"/>
<rect x="147.02" y="76.24" width="1.41" height="22.64" fill="#ef0000"/>
<rect x="148.28" y="76.24" width="1.41" height="22.64" fill="#e30000"/>
<rect x="149.54" y="76.24" width="1.41" height="22.64" fill="#d00000"/>
<rect x="150.80" y="76.24" width="1.41" height="22.64" fill="#e50000"/>
<rect x="152.07" y="76.24" width="1.41" height="22.64" fill="#ec0000"/>
<rect x="153.33" y="76.24" width="1.41" height="22.64" fill="#f30000"/>
<rect x="154.59" y="76.24" width="1.41" height="22.64" fill="#d60000"/>
<rect x="155.85" y="76.24" width="1.41" height="22.64" fill="#d90000"/>
<rect x="157.11" y="76.24" width="1.41" height="22.64" fill="#9f0000"/>
<rect x="158.37" y="76.24" width="1.41" height="22.64" fill="#d20000"/>
<rect x="159.63" y="76.24" width="1.41" height="22.64" fill="#ef0000"/>
<rect x="160.89" y="76.24" width="1.41" height="22.64" fill="#e20000"/>
<rect x="162.15" y="76.24" width="1.41" height="22.64" fill="#630000"/>
<rect x="163.41" y="76.24" width="1.41" height="22.64" fill="#e00000"/>
<rect x="164.67" y="76.24" width="1.41" height="22.64" fill="#dc0000"/>
<rect x="165.94" y="76.24" width="1.41" height="22.64" fill="#cd0000"/>
<rect x="167.20" y="76.24" width="1.41" height="22.64" fill="#580000"/>
<rect x="168.46" y="76.24" width="1.41" height="22.64" fill="#ba0000"/>
<rect x="169.72" y="76.24" width="1.41" height="22.64" fill="#bb0000"/>
<rect x="170.98" y="76.24" width="1.41" height="22.64" fill="#810000"/>
<rect x="172.24" y="76.24" width="1.41" height="22.64" fill="#790000"/>
<rect x="173.50" y="76.24" width="1.41" height="22.64" fill="#7f0000"/>
<rect x="174.76" y="76.24" width="1.41" height="22.64" fill="#8a0000"/>
<rect x="176.02" y="76.24" width="1.41" height="22.64" fill="#430000"/>
<rect x="177.28" y="76.24" width="1.41" height="22.64" fill="#490000"/>
<rect x="178.54" y="76.24" width="1.41" height="22.64" fill="#4b0000"/>
<rect x="179.81" y="76.24" width="1.41" height="22.64" fill="#2c0000"/>
<rect x="181.07" y="76.24" width="1.41" height="22.64" fill="#c20000"/>
<rect x="182.33" y="76.24" width="1.41" height="22.64" fill="#c50000"/>
<rect x="183.59" y="76.24" width="1.41" height="22.64" fill="#e00000"/>
<rect x="184.85" y="76.24" width="1.41" height="22.64" fill="#c60000"/>
<rect x="186.11" y="76.24" width="1.41" height="22.64" fill="#be0000"/>
<rect x="187.37" y="76.24" width="1.41" height="22.64" fill="#cc0000"/>
<rect x="188.63" y="76.24" width="1.41" height="22.64" fill="#bf0000"/>
<rect x="189.89" y="76.24" width="1.41" height="22.64" fill="#bd0000"/>
<rect x="191.15" y="76.24" width="1.41" height="22.64" fill="#e00000"/>
<rect x="192.41" y="76.24" width="1.41" height="22.64" fill="#c40000"/>
<rect x="193.68" y="76.24" width="1.41" height="22.64" fill="#d00000"/>
<rect x="194.94" y="76.24" width="1.41" height="22.64" fill="#db0000"/>
<rect x="196.20" y="76.24" width="1.41" height="22.64" fill="#c80000"/>
<rect x="197.46" y="76.24" width="1.41" height="22.64" fill="#bf0000"/>
<rect x="198.72" y="76.24" width="1.41" height="22.64" fill="#da0000"/>
<rect x="199.98" y="76.24" width="1.41" height="22.64" fill="#bd0000"/>
<rect x="201.24" y="76.24" width="2.67" height="22.64" fill="#cc0000"/>
<rect x="203.76" y="76.24" width="1.41" height="22.64" fill="#ba0000"/>
<rect x="205.02" y="76.24" width="1.41" height="22.64" fill="#660000"/>
<rect x="206.28" y="76.24" width="1.41" height="22.64" fill="#cc0000"/>
<rect x="207.55" y="76.24" width="1.41" height="22.64" fill="#d00000"/>
<rect x="208.81" y="76.24" width="1.41" height="22.64" fill="#bb0000"/>
<rect x="210.07" y="76.24" width="1.41" height="22.64" fill="#c10000"/>
<rect x="211.33" y="76.24" width="1.41" height="22.64" fill="#d80000"/>
<rect x="212.59" y="76.24" width="1.41" height="22.64" fill="#dd0000"/>
<rect x="213.85" y="76.24" width="1.41" height="22.64" fill="#cc0000"/>
<rect x="215.11" y="76.24" width="1.41" height="22.64" fill="#c50000"/>
<rect x="216.37" y="76.24" width="1.41" height="22.64" fill="#cd0000"/>
<rect x="217.63" y="76.24" width="1.41" height="22.64" fill="#e90000"/>
<rect x="218.89" y="76.24" width="2.67" height="22.64" fill="#d50000"/>
<rect x="221.42" y="76.24" width="1.41" height="22.64" fill="#ec0000"/>
<rect x="222.68" y="76.24" width="1.41" height="22.64" fill="#e30000"/>
<rect x="223.94" y="76.24" width="1.41" height="22.64" fill="#ee0000"/>
<rect x="225.20" y="76.24" width="1.41" height="22.64" fill="#e90000"/>
<rect x="226.46" y="76.24" width="1.41" height="22.64" fill="#ea0000"/>
<rect x="227.72" y="76.24" width="1.41" height="22.64" fill="#e40000"/>
<rect x="228.98" y="76.24" width="1.41" height="22.64" fill="#d40000"/>
<rect x="230.24" y="76.24" width="1.41" height="22.64" fill="#e00000"/>
<rect x="231.50" y="76.24" width="1.41" height="22.64" fill="#ec0000"/>
<rect x="232.76" y="76.24" width="1.41" height="22.64" fill="#c90000"/>
<rect x="234.02" y="76.24" width="1.41" height="22.64" fill="#ec0000"/>
<rect x="235.29" y="76.24" width="1.41" height="22.64" fill="#5f0000"/>
<rect x="236.55" y="76.24" width="2.67" height="22.64" fill="#e30000"/>
<rect x="239.07" y="76.24" width="1.41" height="22.64" fill="#ca0000"/>
<rect x="240.33" y="76.24" width="1.41" height="22.64" fill="#d60000"/>
<rect x="241.59" y="76.24" width="1.41" height="22.64" fill="#f30000"/>
<rect x="242.85" y="76.24" width="1.41" height="22.64" fill="#d40000"/>
<rect x="244.11" y="76.24" width="1.41" height="22.64" fill="#f70000"/>
<rect x="245.37" y="76.24" width="1.41" height="22.64" fill="#d50000"/>
<rect x="246.63" y="76.24" width="1.41" height="22.64" fill="#960000"/>
<rect x="247.89" y="76.24" width="1.41" height="22.64" fill="#f20000"/>
<rect x="249.16" y="76.24" width="1.41" height="22.64" fill="#f30000"/>
<rect x="250.42" y="76.24" width="1.41" height="22.64" fill="#cf0000"/>
<rect x="251.68" y="76.24" width="1.41" height="22.64" fill="#c80000"/>
<rect x="252.94" y="76.24" width="1.41" height="22.64" fill="#cc0000"/>
<rect x="254.20" y="76.24" width="1.41" height="22.64" fill="#700000"/>
<rect x="255.46" y="76.24" width="1.41" height="22.64" fill="#cf0000"/>
<rect x="256.72" y="76.24" width="1.41" height="22.64" fill="#d20000"/>
<rect x="257.98" y="76.24" width="1.41" height="22.64" fill="#ea0000"/>
<rect x="259.24" y="76.24" width="1.41" height="22.64" fill="#e50000"/>
<rect x="260.50" y="76.24" width="1.41" height="22.64" fill="#c50000"/>
<rect x="261.76" y="76.24" width="1.41" height="22.64" fill="#d50000"/>
<rect x="263.03" y="76.24" width="1.41" height="22.64" fill="#d20000"/>
<rect x="264.29" y="76.24" width="1.41" height="22.64" fill="#d90000"/>
<rect x="265.55" y="76.24" width="1.41" height="22.64" fill="#f70000"/>
<rect x="266.81" y="76.24" width="1.41" height="22.64" fill="#f50000"/>
<rect x="268.07" y="76.24" width="1.41" height="22.64" fill="#d30000"/>
<rect x="269.33" y="76.24" width="1.41" height="22.64" fill="#f20000"/>
<rect x="270.59" y="76.24" width="1.41" height="22.64" fill="#d30000"/>
<rect x="271.85" y="76.24" width="1.41" height="22.64" fill="#e70000"/>
<rect x="273.11" y="76.24" width="1.41" height="22.64" fill="#da0000"/>
<rect x="274.37" y="76.24" width="1.41" height="22.64" fill="#f70f0f"/>
<rect x="275.64" y="76.24" width="1.41" height="22.64" fill="#f40f0f"/>
<rect x="276.90" y="76.24" width="1.41" height="22.64" fill="#f50f0f"/>
<rect x="278.16" y="76.24" width="1.41" height="22.64" fill="#ff1010"/>
<rect x="279.42" y="76.24" width="1.41" height="22.64" fill="#ed0e0e"/>
<rect x="280.68" y="76.24" width="1.41" height="22.64" fill="#eb0e0e"/>
<rect x="281.94" y="76.24" width="2.67" height="22.64" fill="#ff1010"/>
<rect x="284.46" y="76.24" width="1.41" height="22.64" fill="#fa0f0f"/>
<rect x="285.72" y="76.24" width="1.41" height="22.64" fill="#ff1111"/>
<rect x="286.98" y="76.24" width="1.41" height="22.64" fill="#8b0808"/>
<rect x="288.24" y="76.24" width="1.41" height="22.64" fill="#f40f0f"/>
<rect x="289.51" y="76.24" width="1.41" height="22.64" fill="#e80000"/>
<rect x="290.77" y="76.24" width="1.41" height="22.64" fill="#f80000"/>
<rect x="292.03" y="76.24" width="1.41" height="22.64" fill="#e60000"/>
<rect x="293.29" y="76.24" width="1.41" height="22.64" fill="#ea0000"/>
<rect x="294.55" y="76.24" width="1.41" height="22.64" fill="#e50000"/>
<rect x="295.81" y="76.24" width="1.41" height="22.64" fill="#d90000"/>
<rect x="297.07" y="76.24" width="1.41" height="22.64" fill="#ed0000"/>
<rect x="298.33" y="76.24" width="1.41" height="22.64" fill="#e90000"/>
<rect x="299.59" y="76.24" width="1.41" height="22.64" fill="#dd0000"/>
<rect x="300.85" y="76.24" width="1.41" height="22.64" fill="#e30000"/>
<rect x="302.11" y="76.24" width="1.41" height="22.64" fill="#de0000"/>
<rect x="303.38" y="76.24" width="1.41" height="22.64" fill="#d50000"/>
<rect x="304.64" y="76.24" width="1.41" height="22.64" fill="#d70000"/>
<rect x="305.90" y="76.24" width="1.41" height="22.64" fill="#ed0000"/>
<rect x="307.16" y="76.24" width="1.41" height="22.64" fill="#d20000"/>
<rect x="308.42" y="76.24" width="1.41" height="22.64" fill="#d90000"/>
<rect x="309.68" y="76.24" width="1.41" height="22.64" fill="#d20000"/>
<rect x="310.94" y="76.24" width="1.41" height="22.64" fill="#d30000"/>
<rect x="312.20" y="76.24" width="1.41" height="22.64" fill="#e90000"/>
<rect x="313.46" y="76.24" width="1.41" height="22.64" fill="#f20000"/>
<rect x="314.72" y="76.24" width="1.41" height="22.64" fill="#db0000"/>
<rect x="315.98" y="76.24" width="1.41" height="22.64" fill="#eb0000"/>
<rect x="317.25" y="76.24" width="1.41" height="22.64" fill="#dd0000"/>
<rect x="318.51" y="76.24" width="1.41" height="22.64" fill="#e50000"/>
<rect x="319.77" y="76.24" width="1.41" height="22.64" fill="#d40000"/>
<rect x="321.03" y="76.24" width="1.41" height="22.64" fill="#e90e0e"/>
<rect x="322.29" y="76.24" width="2.67" height="22.64" fill="#ff1010"/>
<rect x="324.81" y="76.24" width="1.41" height="22.64" fill="#fd0f0f"/>
<rect x="326.07" y="76.24" width="2.67" height="22.64" fill="#ff1010"/>
<rect x="328.59" y="76.24" width="1.41" height="22.64" fill="#fb0f0f"/>
<rect x="329.85" y="76.24" width="1.41" height="22.64" fill="#ff1010"/>
<rect x="331.12" y="76.24" width="1.41" height="22.64" fill="#f20f0f"/>
<rect x="332.38" y="76.24" width="1.41" height="22.64" fill="#660000"/>
<rect x="333.64" y="76.24" width="2.67" height="22.64" fill="#630000"/>
<rect x="336.16" y="76.24" width="1.41" height="22.64" fill="#370000"/>
<rect x="337.42" y="76.24" width="1.41" height="22.64" fill="#390000"/>
<rect x="338.68" y="76.24" width="1.41" height="22.64" fill="#370000"/>
<rect x="339.94" y="76.24" width="1.41" height="22.64" fill="#3a0000"/>
<rect x="341.20" y="76.24" width="1.41" height="22.64" fill="#350000"/>
<rect x="342.46" y="76.24" width="2.67" height="22.64" fill="#370000"/>
<rect x="344.99" y="76.24" width="1.41" height="22.64" fill="#3c0000"/>
<rect x="346.25" y="76.24" width="1.41" height="22.64" fill="#940000"/>
<rect x="347.51" y="76.24" width="1.41" height="22.64" fill="#8d0000"/>
<rect x="348.77" y="76.24" width="1.41" height="22.64" fill="#5f0000"/>
<rect x="350.03" y="76.24" width="1.41" height="22.64" fill="#870000"/>
<rect x="351.29" y="76.24" width="1.41" height="22.64" fill="#9b0000"/>
<rect x="352.55" y="76.24" width="1.41" height="22.64" fill="#850000"/>
<rect x="353.81" y="76.24" width="1.41" height="22.64" fill="#910000"/>
<rect x="355.07" y="76.24" width="1.41" height="22.64" fill="#900000"/>
<rect x="356.33" y="76.24" width="1.41" height="22.64" fill="#980000"/>
<rect x="357.59" y="76.24" width="1.41" height="22.64" fill="#8d0000"/>
<rect x="358.86" y="76.24" width="1.41" height="22.64" fill="#880000"/>
<rect x="360.12" y="76.24" width="1.41" height="22.64" fill="#8d0000"/>
<rect x="361.38" y="76.24" width="1.41" height="22.64" fill="#950000"/>
<rect x="362.64" y="76.24" width="1.41" height="22.64" fill="#520000"/>
<rect x="363.90" y="76.24" width="1.41" height="22.64" fill="#5a0000"/>
<rect x="365.16" y="76.24" width="1.41" height="22.64" fill="#9d0000"/>
<rect x="366.42" y="76.24" width="1.41" height="22.64" fill="#9b0000"/>
<rect x="367.68" y="76.24" width="1.41" height="22.64" fill="#980000"/>
<rect x="368.94" y="76.24" width="1.41" height="22.64" fill="#ac0000"/>
<rect x="370.20" y="76.24" width="1.41" height="22.64" fill="#970000"/>
<rect x="371.46" y="76.24" width="1.41" height="22.64" fill="#9c0000"/>
<rect x="372.73" y="76.24" width="1.41" height="22.64" fill="#950000"/>
<rect x="373.99" y="76.24" width="1.41" height="22.64" fill="#a80000"/>
<rect x="375.25" y="76.24" width="1.41" height="22.64" fill="#9f0000"/>
<rect x="376.51" y="76.24" width="1.41" height="22.64" fill="#980000"/>
<rect x="377.77" y="76.24" width="1.41" height="22.64" fill="#9b0000"/>
<rect x="379.03" y="76.24" width="1.41" height="22.64" fill="#a90000"/>
<rect x="380.29" y="76.24" width="1.41" height="22.64" fill="#9f0000"/>
<rect x="381.55" y="76.24" width="1.41" height="22.64" fill="#a10000"/>
<rect x="382.81" y="76.24" width="1.41" height="22.64" fill="#f50000"/>
<rect x="384.07" y="76.24" width="1.41" height="22.64" fill="#f60000"/>
<rect x="385.33" y="76.24" width="1.41" height="22.64" fill="#e20000"/>
<rect x="386.60" y="76.24" width="1.41" height="22.64" fill="#e40000"/>
<rect x="387.86" y="76.24" width="1.41" height="22.64" fill="#d30000"/>
<rect x="389.12" y="76.24" width="1.41" height="22.64" fill="#de0000"/>
<rect x="390.38" y="76.24" width="1.41" height="22.64" fill="#df0000"/>
<rect x="391.64" y="76.24" width="1.41" height="22.64" fill="#e50000"/>
<rect x="392.90" y="76.24" width="1.41" height="22.64" fill="#ee0000"/>
<rect x="394.16" y="76.24" width="1.41" height="22.64" fill="#ff1111"/>
<rect x="395.42" y="76.24" width="1.41" height="22.64" fill="#ea0e0e"/>
<rect x="396.68" y="76.24" width="1.41" height="22.64" fill="#ff1111"/>
<rect x="397.94" y="76.24" width="1.41" height="22.64" fill="#bb0000"/>
<rect x="399.20" y="76.24" width="1.41" height="22.64" fill="#5c0000"/>
<rect x="400.47" y="76.24" width="1.41" height="22.64" fill="#d80000"/>
<rect x="401.73" y="76.24" width="1.41" height="22.64" fill="#bf0000"/>
<rect x="402.99" y="76.24" width="1.41" height="22.64" fill="#950000"/>
<rect x="404.25" y="76.24" width="1.41" height="22.64" fill="#a70000"/>
<rect x="405.51" y="76.24" width="1.41" height="22.64" fill="#950000"/>
<rect x="406.77" y="76.24" width="1.41" height="22.64" fill="#b00000"/>
<rect x="408.03" y="76.24" width="1.41" height="22.64" fill="#b30000"/>
<rect x="409.29" y="76.24" width="1.41" height="22.64" fill="#b00000"/>
<rect x="410.55" y="76.24" width="1.41" height="22.64" fill="#b30000"/>
<rect x="411.81" y="76.24" width="1.41" height="22.64" fill="#b20000"/>
<rect x="413.07" y="76.24" width="1.41" height="22.64" fill="#ad0000"/>
<rect x="414.34" y="76.24" width="1.41" height="22.64" fill="#af0000"/>
<rect x="415.60" y="76.24" width="1.41" height="22.64" fill="#990000"/>
<rect x="416.86" y="76.24" width="1.41" height="22.64" fill="#890000"/>
<rect x="418.12" y="76.24" width="1.41" height="22.64" fill="#860000"/>
<rect x="419.38" y="76.24" width="1.41" height="22.64" fill="#840000"/>
<rect x="420.64" y="76.24" width="1.41" height="22.64" fill="#860000"/>
<rect x="421.90" y="76.24" width="1.41" height="22.64" fill="#11bb11"/>
<rect x="423.16" y="76.24" width="1.41" height="22.64" fill="#0fae0f"/>
<rect x="424.42" y="76.24" width="1.41" height="22.64" fill="#0a870a"/>
<rect x="425.68" y="76.24" width="1.41" height="22.64" fill="#0a8a0a"/>
<rect x="426.95" y="76.24" width="1.41" height="22.64" fill="#0a830a"/>
<rect x="428.21" y="76.24" width="1.41" height="22.64" fill="#0a730a"/>
<rect x="429.47" y="76.24" width="1.41" height="22.64" fill="#0a790a"/>
<rect x="430.73" y="76.24" width="1.41" height="22.64" fill="#0a780a"/>
<rect x="431.99" y="76.24" width="1.41" height="22.64" fill="#0a720a"/>
<rect x="433.25" y="76.24" width="1.41" height="22.64" fill="#0f9c0f"/>
<rect x="434.51" y="76.24" width="1.41" height="22.64" fill="#10a710"/>
<rect x="435.77" y="76.24" width="1.41" height="22.64" fill="#0f9d0f"/>
<rect x="437.03" y="76.24" width="1.41" height="22.64" fill="#0f9a0f"/>
<rect x="438.29" y="76.24" width="1.41" height="22.64" fill="#10a010"/>
<rect x="439.55" y="76.24" width="1.41" height="22.64" fill="#11ad11"/>
<rect x="440.82" y="76.24" width="1.41" height="22.64" fill="#041f04"/>
<rect x="442.08" y="76.24" width="1.41" height="22.64" fill="#052005"/>
<rect x="443.34" y="76.24" width="1.41" height="22.64" fill="#041d04"/>
<rect x="444.60" y="76.24" width="1.41" height="22.64" fill="#052005"/>
<rect x="445.86" y="76.24" width="1.41" height="22.64" fill="#041d04"/>
<rect x="447.12" y="76.24" width="1.41" height="22.64" fill="#052005"/>
<rect x="448.38" y="76.24" width="1.41" height="22.64" fill="#052205"/>
<rect x="449.64" y="76.24" width="1.41" height="22.64" fill="#052005"/>
<rect x="450.90" y="76.24" width="1.41" height="22.64" fill="#052105"/>
<rect x="452.16" y="76.24" width="1.41" height="22.64" fill="#041f04"/>
<rect x="453.42" y="76.24" width="1.41" height="22.64" fill="#095a09"/>
<rect x="454.69" y="76.24" width="1.41" height="22.64" fill="#0a670a"/>
<rect x="455.95" y="76.24" width="1.41" height="22.64" fill="#0a650a"/>
<rect x="457.21" y="76.24" width="1.41" height="22.64" fill="#096b09"/>
<rect x="458.47" y="76.24" width="1.41" height="22.64" fill="#096c09"/>
<rect x="459.73" y="76.24" width="1.41" height="22.64" fill="#0a780a"/>
<rect x="460.99" y="76.24" width="1.41" height="22.64" fill="#096609"/>
<rect x="462.25" y="76.24" width="1.41" height="22.64" fill="#0a710a"/>
<rect x="463.51" y="76.24" width="1.41" height="22.64" fill="#096609"/>
<rect x="464.77" y="76.24" width="1.41" height="22.64" fill="#0a780a"/>
<rect x="466.03" y="76.24" width="1.41" height="22.64" fill="#095e09"/>
<rect x="467.29" y="76.24" width="1.41" height="22.64" fill="#095b09"/>
<rect x="468.56" y="76.24" width="1.41" height="22.64" fill="#0a630a"/>
<rect x="469.82" y="76.24" width="1.41" height="22.64" fill="#052505"/>
<rect x="471.08" y="76.24" width="1.41" height="22.64" fill="#052405"/>
<rect x="472.34" y="76.24" width="2.67" height="22.64" fill="#062906"/>
<rect x="474.86" y="76.24" width="1.41" height="22.64" fill="#052505"/>
<rect x="476.12" y="76.24" width="1.41" height="22.64" fill="#052705"/>
<rect x="477.38" y="76.24" width="2.67" height="22.64" fill="#080808"/>
<rect x="479.90" y="76.24" width="1.41" height="22.64" fill="#040404"/>
<rect x="481.16" y="76.24" width="1.41" height="22.64" fill="#080808"/>
<rect x="482.43" y="76.24" width="2.67" height="22.64" fill="#070707"/>
<rect x="484.95" y="76.24" width="1.41" height="22.64" fill="#040404"/>
<rect x="486.21" y="76.24" width="3.93" height="22.64" fill="#080808"/>
<rect x="489.99" y="76.24" width="1.41" height="22.64" fill="#0a0a05"/>
<rect x="491.25" y="76.24" width="1.41" height="22.64" fill="#090904"/>
<rect x="492.51" y="76.24" width="2.67" height="22.64" fill="#0a0a05"/>
<rect x="495.03" y="76.24" width="1.41" height="22.64" fill="#090904"/>
<rect x="496.30" y="76.24" width="5.19" height="22.64" fill="#0a0a05"/>
<rect x="501.34" y="76.24" width="1.41" height="22.64" fill="#090904"/>
<rect x="34.80" y="98.78" width="1.41" height="22.64" fill="#2c0000"/>
<rect x="36.06" y="98.78" width="1.41" height="22.64" fill="#290000"/>
<rect x="37.32" y="98.78" width="1.41" height="22.64" fill="#2c0000"/>
<rect x="38.58" y="98.78" width="1.41" height="22.64" fill="#120000"/>
<rect x="39.84" y="98.78" width="1.41" height="22.64" fill="#250000"/>
<rect x="41.10" y="98.78" width="1.41" height="22.64" fill="#340000"/>
<rect x="42.37" y="98.78" width="1.41" height="22.64" fill="#250000"/>
<rect x="43.63" y="98.78" width="1.41" height="22.64" fill="#340000"/>
<rect x="44.89" y="98.78" width="1.41" height="22.64" fill="#2f0000"/>
<rect x="46.15" y="98.78" width="1.41" height="22.64" fill="#340000"/>
<rect x="47.41" y="98.78" width="1.41" height="22.64" fill="#310000"/>
<rect x="48.67" y="98.78" width="1.41" height="22.64" fill="#100000"/>
<rect x="49.93" y="98.78" width="1.41" height="22.64" fill="#200000"/>
<rect x="51.19" y="98.78" width="1.41" height="22.64" fill="#1f0000"/>
<rect x="52.45" y="98.78" width="1.41" height="22.64" fill="#190000"/>
<rect x="53.71" y="98.78" width="1.41" height="22.64" fill="#1e0000"/>
<rect x="54.97" y="98.78" width="1.41" height="22.64" fill="#190000"/>
<rect x="56.24" y="98.78" width="1.41" height="22.64" fill="#1f0000"/>
<rect x="57.50" y="98.78" width="1.41" height="22.64" fill="#130000"/>
<rect x="58.76" y="98.78" width="1.41" height="22.64" fill="#1f0000"/>
<rect x="60.02" y="98.78" width="1.41" height="22.64" fill="#1d0000"/>
<rect x="61.28" y="98.78" width="1.41" height="22.64" fill="#580000"/>
<rect x="62.54" y="98.78" width="1.41" height="22.64" fill="#4c0000"/>
<rect x="63.80" y="98.78" width="1.41" height="22.64" fill="#210000"/>
<rect x="65.06" y="98.78" width="1.41" height="22.64" fill="#240000"/>
<rect x="66.32" y="98.78" width="1.41" height="22.64" fill="#220000"/>
<rect x="67.58" y="98.78" width="1.41" height="22.64" fill="#0f0000"/>
<rect x="68.84" y="98.78" width="1.41" height="22.64" fill="#280000"/>
<rect x="70.11" y="98.78" width="1.41" height="22.64" fill="#1c0000"/>
<rect x="71.37" y="98.78" width="1.41" height="22.64" fill="#170000"/>
<rect x="72.63" y="98.78" width="1.41" height="22.64" fill="#1f0000"/>
<rect x="73.89" y="98.78" width="1.41" height="22.64" fill="#260000"/>
<rect x="75.15" y="98.78" width="1.41" height="22.64" fill="#490000"/>
<rect x="76.41" y="98.78" width="1.41" height="22.64" fill="#410000"/>
<rect x="77.67" y="98.78" width="1.41" height="22.64" fill="#210000"/>
<rect x="78.93" y="98.78" width="1.41" height="22.64" fill="#230000"/>
<rect x="80.19" y="98.78" width="1.41" height="22.64" fill="#220000"/>
<rect x="81.45" y="98.78" width="1.41" height="22.64" fill="#0d0000"/>
<rect x="82.71" y="98.78" width="1.41" height="22.64" fill="#0c0000"/>
<rect x="83.98" y="98.78" width="1.41" height="22.64" fill="#1f0000"/>
<rect x="85.24" y="98.78" width="1.41" height="22.64" fill="#1d0000"/>
<rect x="86.50" y="98.78" width="1.41" height="22.64" fill="#160000"/>
<rect x="87.76" y="98.78" width="1.41" height="22.64" fill="#630000"/>
<rect x="89.02" y="98.78" width="1.41" height="22.64" fill="#7f0000"/>
<rect x="90.28" y="98.78" width="1.41" height="22.64" fill="#940000"/>
<rect x="91.54" y="98.78" width="1.41" height="22.64" fill="#3a0000"/>
<rect x="92.80" y="98.78" width="1.41" height="22.64" fill="#270000"/>
<rect x="94.06" y="98.78" width="1.41" height="22.64" fill="#410000"/>
<rect x="95.32" y="98.78" width="1.41" height="22.64" fill="#2c0000"/>
<rect x="96.58" y="98.78" width="1.41" height="22.64" fill="#330000"/>
<rect x="97.85" y="98.78" width="1.41" height="22.64" fill="#3f0000"/>
<rect x="99.11" y="98.78" width="1.41" height="22.64" fill="#240000"/>
<rect x="100.37" y="98.78" width="1.41" height="22.64" fill="#300000"/>
<rect x="101.63" y="98.78" width="1.41" height="22.64" fill="#1a0000"/>
<rect x="102.89" y="98.78" width="1.41" height="22.64" fill="#310000"/>
<rect x="104.15" y="98.78" width="1.41" height="22.64" fill="#2f0000"/>
<rect x="105.41" y="98.78" width="1.41" height="22.64" fill="#2e0000"/>
<rect x="106.67" y="98.78" width="1.41" height="22.64" fill="#250000"/>
<rect x="107.93" y="98.78" width="1.41" height="22.64" fill="#180000"/>
<rect x="109.19" y="98.78" width="1.41" height="22.64" fill="#260000"/>
<rect x="110.45" y="98.78" width="1.41" height="22.64" fill="#620000"/>
<rect x="111.72" y="98.78" width="1.41" height="22.64" fill="#5c0000"/>
<rect x="112.98" y="98.78" width="1.41" height="22.64" fill="#1d0000"/>
<rect x="114.24" y="98.78" width="1.41" height="22.64" fill="#290000"/>
<rect x="115.50" y="98.78" width="1.41" height="22.64" fill="#350000"/>
<rect x="116.76" y="98.78" width="1.41" height="22.64" fill="#270000"/>
<rect x="118.02" y="98.78" width="1.41" height="22.64" fill="#800000"/>
<rect x="119.28" y="98.78" width="1.41" height="22.64" fill="#ae0000"/>
<rect x="120.54" y="98.78" width="1.41" height="22.64" fill="#960000"/>
<rect x="121.80" y="98.78" width="1.41" height="22.64" fill="#ad0000"/>
<rect x="123.06" y="98.78" width="1.41" height="22.64" fill="#530000"/>
<rect x="124.33" y="98.78" width="1.41" height="22.64" fill="#7e0000"/>
<rect x="125.59" y="98.78" width="1.41" height="22.64" fill="#6f0000"/>
<rect x="126.85" y="98.78" width="1.41" height="22.64" fill="#8b0000"/>
<rect x="128.11" y="98.78" width="1.41" height="22.64" fill="#840000"/>
<rect x="129.37" y="98.78" width="1.41" height="22.64" fill="#ae0000"/>
<rect x="130.63" y="98.78" width="1.41" height="22.64" fill="#7a0000"/>
<rect x="131.89" y="98.78" width="1.41" height="22.64" fill="#820000"/>
<rect x="133.15" y="98.78" width="1.41" height="22.64" fill="#770000"/>
<rect x="134.41" y="98.78" width="1.41" height="22.64" fill="#730000"/>
<rect x="135.67" y="98.78" width="1.41" height="22.64" fill="#960000"/>
<rect x="136.93" y="98.78" width="1.41" height="22.64" fill="#8b0000"/>
<rect x="138.20" y="98.78" width="1.41" height="22.64" fill="#960000"/>
<rect x="139.46" y="98.78" width="1.41" height="22.64" fill="#9d0000"/>
<rect x="140.72" y="98.78" width="1.41" height="22.64" fill="#c70000"/>
<rect x="141.98" y="98.78" width="1.41" height="22.64" fill="#8b0000"/>
<rect x="143.24" y="98.78" width="1.41" height="22.64" fill="#800000"/>
<rect x="144.50" y="98.78" width="1.41" height="22.64" fill="#980000"/>
<rect x="145.76" y="98.78" width="1.41" height="22.64" fill="#860000"/>
<rect x="147.02" y="98.78" width="1.41" height="22.64" fill="#400000"/>
<rect x="148.28" y="98.78" width="1.41" height="22.64" fill="#ae0000"/>
<rect x="149.54" y="98.78" width="1.41" height="22.64" fill="#860000"/>
<rect x="150.80" y="98.78" width="1.41" height="22.64" fill="#b20000"/>
<rect x="152.07" y="98.78" width="1.41" height="22.64" fill="#4f0000"/>
<rect x="153.33" y="98.78" width="1.41" height="22.64" fill="#aa0000"/>
<rect x="154.59" y="98.78" width="1.41" height="22.64" fill="#400000"/>
<rect x="155.85" y="98.78" width="1.41" height="22.64" fill="#a00000"/>
<rect x="157.11" y="98.78" width="1.41" height="22.64" fill="#8b0000"/>
<rect x="158.37" y="98.78" width="1.41" height="22.64" fill="#a00000"/>
<rect x="159.63" y="98.78" width="1.41" height="22.64" fill="#ac0000"/>
<rect x="160.89" y="98.78" width="1.41" height="22.64" fill="#5a0000"/>
<rect x="162.15" y="98.78" width="1.41" height="22.64" fill="#930000"/>
<rect x="163.41" y="98.78" width="1.41" height="22.64" fill="#7e0000"/>
<rect x="164.67" y="98.78" width="1.41" height="22.64" fill="#8f0000"/>
<rect x="165.94" y="98.78" width="1.41" height="22.64" fill="#af0000"/>
<rect x="167.20" y="98.78" width="1.41" height="22.64" fill="#7b0000"/>
<rect x="168.46" y="98.78" width="1.41" height="22.64" fill="#980000"/>
<rect x="169.72" y="98.78" width="1.41" height="22.64" fill="#610000"/>
<rect x="170.98" y="98.78" width="1.41" height="22.64" fill="#510000"/>
<rect x="172.24" y="98.78" width="1.41" height="22.64" fill="#600000"/>
<rect x="173.50" y="98.78" width="1.41" height="22.64" fill="#960000"/>
<rect x="174.76" y="98.78" width="1.41" height="22.64" fill="#820000"/>
<rect x="176.02" y="98.78" width="1.41" height="22.64" fill="#7a0000"/>
<rect x="177.28" y="98.78" width="1.41" height="22.64" fill="#650000"/>
<rect x="178.54" y="98.78" width="1.41" height="22.64" fill="#670000"/>
<rect x="179.81" y="98.78" width="1.41" height="22.64" fill="#590000"/>
<rect x="181.07" y="98.78" width="1.41" height="22.64" fill="#800000"/>
<rect x="182.33" y="98.78" width="1.41" height="22.64" fill="#5a0000"/>
<rect x="183.59" y="98.78" width="1.41" height="22.64" fill="#430000"/>
<rect x="184.85" y="98.78" width="1.41" height="22.64" fill="#260000"/>
<rect x="186.11" y="98.78" width="1.41" height="22.64" fill="#500000"/>
<rect x="187.37" y="98.78" width="1.41" height="22.64" fill="#2f0000"/>
<rect x="188.63" y="98.78" width="1.41" height="22.64" fill="#310000"/>
<rect x="189.89" y="98.78" width="1.41" height="22.64" fill="#5c0000"/>
<rect x="191.15" y="98.78" width="1.41" height="22.64" fill="#440000"/>
<rect x="192.41" y="98.78" width="1.41" height="22.64" fill="#2f0000"/>
<rect x="193.68" y="98.78" width="1.41" height="22.64" fill="#4c0000"/>
<rect x="194.94" y="98.78" width="1.41" height="22.64" fill="#280000"/>
<rect x="196.20" y="98.78" width="1.41" height="22.64" fill="#410000"/>
<rect x="197.46" y="98.78" width="1.41" height="22.64" fill="#360000"/>
<rect x="198.72" y="98.78" width="1.41" height="22.64" fill="#3a0000"/>
<rect x="199.98" y="98.78" width="1.41" height="22.64" fill="#5a0000"/>
<rect x="201.24" y="98.78" width="1.41" height="22.64" fill="#4a0000"/>
<rect x="202.50" y="98.78" width="1.41" height="22.64" fill="#4d0000"/>
<rect x="203.76" y="98.78" width="1.41" height="22.64" fill="#5a0000"/>
<rect x="205.02" y="98.78" width="2.67" height="22.64" fill="#470000"/>
<rect x="207.55" y="98.78" width="1.41" height="22.64" fill="#5b0000"/>
<rect x="208.81" y="98.78" width="1.41" height="22.64" fill="#590000"/>
<rect x="210.07" y="98.78" width="1.41" height="22.64" fill="#340000"/>
<rect x="211.33" y="98.78" width="1.41" height="22.64" fill="#5a0000"/>
<rect x="212.59" y="98.78" width="1.41" height="22.64" fill="#450000"/>
<rect x="213.85" y="98.78" width="1.41" height="22.64" fill="#500000"/>
<rect x="215.11" y="98.78" width="1.41" height="22.64" fill="#2d0000"/>
<rect x="216.37" y="98.78" width="1.41" height="22.64" fill="#250000"/>
<rect x="217.63" y="98.78" width="1.41" height="22.64" fill="#a70000"/>
<rect x="218.89" y="98.78" width="1.41" height="22.64" fill="#a50000"/>
<rect x="220.15" y="98.78" width="1.41" height="22.64" fill="#9e0000"/>
<rect x="221.42" y="98.78" width="1.41" height="22.64" fill="#680000"/>
<rect x="222.68" y="98.78" width="1.41" height="22.64" fill="#7f0000"/>
<rect x="223.94" y="98.78" width="1.41" height="22.64" fill="#800000"/>
<rect x="225.20" y="98.78" width="1.41" height="22.64" fill="#a40000"/>
<rect x="226.46" y="98.78" width="1.41" height="22.64" fill="#7e0000"/>
<rect x="227.72" y="98.78" width="1.41" height="22.64" fill="#890000"/>
<rect x="228.98" y="98.78" width="1.41" height="22.64" fill="#800000"/>
<rect x="230.24" y="98.78" width="1.41" height="22.64" fill="#5d0000"/>
<rect x="231.50" y="98.78" width="1.41" height="22.64" fill="#a60000"/>
<rect x="232.76" y="98.78" width="1.41" height="22.64" fill="#7f0000"/>
<rect x="234.02" y="98.78" width="1.41" height="22.64" fill="#450000"/>
<rect x="235.29" y="98.78" width="1.41" height="22.64" fill="#720000"/>
<rect x="236.55" y="98.78" width="1.41" height="22.64" fill="#810000"/>
<rect x="237.81" y="98.78" width="1.41" height="22.64" fill="#4a0000"/>
<rect x="239.07" y="98.78" width="1.41" height="22.64" fill="#980000"/>
<rect x="240.33" y="98.78" width="1.41" height="22.64" fill="#8a0000"/>
<rect x="241.59" y="98.78" width="1.41" height="22.64" fill="#760000"/>
<rect x="242.85" y="98.78" width="1.41" height="22.64" fill="#840000"/>
<rect x="244.11" y="98.78" width="1.41" height="22.64" fill="#8c0000"/>
<rect x="245.37" y="98.78" width="1.41" height="22.64" fill="#7c0000"/>
<rect x="246.63" y="98.78" width="1.41" height="22.64" fill="#770000"/>
<rect x="247.89" y="98.78" width="1.41" height="22.64" fill="#800000"/>
<rect x="249.16" y="98.78" width="1.41" height="22.64" fill="#6c0000"/>
<rect x="250.42" y="98.78" width="1.41" height="22.64" fill="#af0000"/>
<rect x="251.68" y="98.78" width="1.41" height="22.64" fill="#9d0000"/>
<rect x="252.94" y="98.78" width="1.41" height="22.64" fill="#8c0000"/>
<rect x="254.20" y="98.78" width="1.41" height="22.64" fill="#8d0000"/>
<rect x="255.46" y="98.78" width="1.41" height="22.64" fill="#5e0000"/>
<rect x="256.72" y="98.78" width="1.41" height="22.64" fill="#460000"/>
<rect x="257.98" y="98.78" width="1.41" height="22.64" fill="#7c0000"/>
<rect x="259.24" y="98.78" width="1.41" height="22.64" fill="#6b0000"/>
<rect x="260.50" y="98.78" width="1.41" height="22.64" fill="#970000"/>
<rect x="261.76" y="98.78" width="1.41" height="22.64" fill="#6e0000"/>
<rect x="263.03" y="98.78" width="1.41" height="22.64" fill="#780000"/>
<rect x="264.29" y="98.78" width="1.41" height="22.64" fill="#850000"/>
<rect x="265.55" y="98.78" width="1.41" height="22.64" fill="#900000"/>
<rect x="266.81" y="98.78" width="1.41" height="22.64" fill="#8c0000"/>
<rect x="268.07" y="98.78" width="1.41" height="22.64" fill="#8d0000"/>
<rect x="269.33" y="98.78" width="1.41" height="22.64" fill="#8e0000"/>
<rect x="270.59" y="98.78" width="1.41" height="22.64" fill="#6a0000"/>
<rect x="271.85" y="98.78" width="1.41" height="22.64" fill="#660000"/>
<rect x="273.11" y="98.78" width="1.41" height="22.64" fill="#840000"/>
<rect x="274.37" y="98.78" width="1.41" height="22.64" fill="#970000"/>
<rect x="275.64" y="98.78" width="1.41" height="22.64" fill="#7b0000"/>
<rect x="276.90" y="98.78" width="1.41" height="22.64" fill="#930000"/>
<rect x="278.16" y="98.78" width="1.41" height="22.64" fill="#790000"/>
<rect x="279.42" y="98.78" width="1.41" height="22.64" fill="#7d0000"/>
<rect x="280.68" y="98.78" width="1.41" height="22.64" fill="#750000"/>
<rect x="281.94" y="98.78" width="1.41" height="22.64" fill="#820000"/>
<rect x="283.20" y="98.78" width="1.41" height="22.64" fill="#760000"/>
<rect x="284.46" y="98.78" width="1.41" height="22.64" fill="#910000"/>
<rect x="285.72" y="98.78" width="1.41" height="22.64" fill="#430000"/>
<rect x="286.98" y="98.78" width="1.41" height="22.64" fill="#780000"/>
<rect x="288.24" y="98.78" width="1.41" height="22.64" fill="#690000"/>
<rect x="289.51" y="98.78" width="1.41" height="22.64" fill="#820000"/>
<rect x="290.77" y="98.78" width="1.41" height="22.64" fill="#9f0000"/>
<rect x="292.03" y="98.78" width="1.41" height="22.64" fill="#7c0000"/>
<rect x="293.29" y="98.78" width="1.41" height="22.64" fill="#4c0000"/>
<rect x="294.55" y="98.78" width="1.41" height="22.64" fill="#900000"/>
<rect x="295.81" y="98.78" width="1.41" height="22.64" fill="#a40000"/>
<rect x="297.07" y="98.78" width="1.41" height="22.64" fill="#8e0000"/>
<rect x="298.33" y="98.78" width="1.41" height="22.64" fill="#8d0000"/>
<rect x="299.59" y="98.78" width="1.41" height="22.64" fill="#9e0000"/>
<rect x="300.85" y="98.78" width="2.67" height="22.64" fill="#8a0000"/>
<rect x="303.38" y="98.78" width="1.41" height="22.64" fill="#9d0000"/>
<rect x="304.64" y="98.78" width="1.41" height="22.64" fill="#7b0000"/>
<rect x="305.90" y="98.78" width="1.41" height="22.64" fill="#8d0000"/>
<rect x="307.16" y="98.78" width="1.41" height="22.64" fill="#970000"/>
<rect x="308.42" y="98.78" width="1.41" height="22.64" fill="#ae0000"/>
<rect x="309.68" y="98.78" width="1.41" height="22.64" fill="#8f0000"/>
<rect x="310.94" y="98.78" width="1.41" height="22.64" fill="#b00000"/>
<rect x="312.20" y="98.78" width="1.41" height="22.64" fill="#940000"/>
<rect x="313.46" y="98.78" width="1.41" height="22.64" fill="#640000"/>
<rect x="314.72" y="98.78" width="1.41" height="22.64" fill="#890000"/>
<rect x="315.98" y="98.78" width="1.41" height="22.64" fill="#530000"/>
<rect x="317.25" y="98.78" width="1.41" height="22.64" fill="#7b0000"/>
<rect x="318.51" y="98.78" width="1.41" height="22.64" fill="#890000"/>
<rect x="319.77" y="98.78" width="1.41" height="22.64" fill="#3b0000"/>
<rect x="321.03" y="98.78" width="1.41" height="22.64" fill="#730000"/>
<rect x="322.29" y="98.78" width="1.41" height="22.64" fill="#400000"/>
<rect x="323.55" y="98.78" width="1.41" height="22.64" fill="#770000"/>
<rect x="324.81" y="98.78" width="1.41" height="22.64" fill="#7a0000"/>
<rect x="326.07" y="98.78" width="1.41" height="22.64" fill="#530000"/>
<rect x="327.33" y="98.78" width="1.41" height="22.64" fill="#720000"/>
<rect x="328.59" y="98.78" width="1.41" height="22.64" fill="#3b0000"/>
<rect x="329.85" y="98.78" width="1.41" height="22.64" fill="#740000"/>
<rect x="331.12" y="98.78" width="1.41" height="22.64" fill="#410000"/>
<rect x="332.38" y="98.78" width="1.41" height="22.64" fill="#340000"/>
<rect x="333.64" y="98.78" width="1.41" height="22.64" fill="#360000"/>
<rect x="334.90" y="98.78" width="1.41" height="22.64" fill="#3d0000"/>
<rect x="336.16" y="98.78" width="1.41" height="22.64" fill="#180000"/>
<rect x="337.42" y="98.78" width="1.41" height="22.64" fill="#1b0000"/>
<rect x="338.68" y="98.78" width="1.41" height="22.64" fill="#2c0000"/>
<rect x="339.94" y="98.78" width="1.41" height="22.64" fill="#390000"/>
<rect x="341.20" y="98.78" width="1.41" height="22.64" fill="#1a0000"/>
<rect x="342.46" y="98.78" width="1.41" height="22.64" fill="#380000"/>
<rect x="343.72" y="98.78" width="1.41" height="22.64" fill="#370000"/>
<rect x="344.99" y="98.78" width="1.41" height="22.64" fill="#2c0000"/>
<rect x="346.25" y="98.78" width="1.41" height="22.64" fill="#400000"/>
<rect x="347.51" y="98.78" width="1.41" height="22.64" fill="#4f0000"/>
<rect x="348.77" y="98.78" width="1.41" height="22.64" fill="#4b0000"/>
<rect x="350.03" y="98.78" width="1.41" height="22.64" fill="#3f0000"/>
<rect x="351.29" y="98.78" width="1.41" height="22.64" fill="#4f0000"/>
<rect x="352.55" y="98.78" width="1.41" height="22.64" fill="#4a0000"/>
<rect x="353.81" y="98.78" width="1.41" height="22.64" fill="#320000"/>
<rect x="355.07" y="98.78" width="1.41" height="22.64" fill="#570000"/>
<rect x="356.33" y="98.78" width="1.41" height="22.64" fill="#760000"/>
<rect x="357.59" y="98.78" width="1.41" height="22.64" fill="#5e0000"/>
<rect x="358.86" y="98.78" width="1.41" height="22.64" fill="#790000"/>
<rect x="360.12" y="98.78" width="1.41" height="22.64" fill="#780000"/>
<rect x="361.38" y="98.78" width="1.41" height="22.64" fill="#610000"/>
<rect x="362.64" y="98.78" width="1.41" height="22.64" fill="#5a0000"/>
<rect x="363.90" y="98.78" width="1.41" height="22.64" fill="#750000"/>
<rect x="365.16" y="98.78" width="1.41" height="22.64" fill="#720000"/>
<rect x="366.42" y="98.78" width="2.67" height="22.64" fill="#590000"/>
<rect x="368.94" y="98.78" width="1.41" height="22.64" fill="#5d0000"/>
<rect x="370.20" y="98.78" width="1.41" height="22.64" fill="#610000"/>
<rect x="371.46" y="98.78" width="1.41" height="22.64" fill="#6d0000"/>
<rect x="372.73" y="98.78" width="1.41" height="22.64" fill="#420000"/>
<rect x="373.99" y="98.78" width="1.41" height="22.64" fill="#6c0000"/>
<rect x="375.25" y="98.78" width="1.41" height="22.64" fill="#640000"/>
<rect x="376.51" y="98.78" width="1.41" height="22.64" fill="#420000"/>
<rect x="377.77" y="98.78" width="1.41" height="22.64" fill="#470000"/>
<rect x="379.03" y="98.78" width="1.41" height="22.64" fill="#600000"/>
<rect x="380.29" y="98.78" width="1.41" height="22.64" fill="#4c0000"/>
<rect x="381.55" y="98.78" width="1.41" height="22.64" fill="#820000"/>
<rect x="382.81" y="98.78" width="1.41" height="22.64" fill="#520000"/>
<rect x="384.07" y="98.78" width="1.41" height="22.64" fill="#680000"/>
<rect x="385.33" y="98.78" width="2.67" height="22.64" fill="#710000"/>
<rect x="387.86" y="98.78" width="1.41" height="22.64" fill="#550000"/>
<rect x="389.12" y="98.78" width="1.41" height="22.64" fill="#510000"/>
<rect x="390.38" y="98.78" width="1.41" height="22.64" fill="#560000"/>
<rect x="391.64" y="98.78" width="1.41" height="22.64" fill="#630000"/>
<rect x="392.90" y="98.78" width="1.41" height="22.64" fill="#560000"/>
<rect x="394.16" y="98.78" width="1.41" height="22.64" fill="#430000"/>
<rect x="395.42" y="98.78" width="1.41" height="22.64" fill="#410000"/>
<rect x="396.68" y="98.78" width="1.41" height="22.64" fill="#4e0000"/>
<rect x="397.94" y="98.78" width="1.41" height="22.64" fill="#460000"/>
<rect x="399.20" y="98.78" width="1.41" height="22.64" fill="#440000"/>
<rect x="400.47" y="98.78" width="1.41" height="22.64" fill="#3b0000"/>
<rect x="401.73" y="98.78" width="1.41" height="22.64" fill="#250000"/>
<rect x="402.99" y="98.78" width="1.41" height="22.64" fill="#6a0000"/>
<rect x="404.25" y="98.78" width="1.41" height="22.64" fill="#350000"/>
<rect x="405.51" y="98.78" width="1.41" height="22.64" fill="#3c0000"/>
<rect x="406.77" y="98.78" width="1.41" height="22.64" fill="#2c0000"/>
<rect x="408.03" y="98.78" width="1.41" height="22.64" fill="#350000"/>
<rect x="409.29" y="98.78" width="1.41" height="22.64" fill="#510000"/>
<rect x="410.55" y="98.78" width="1.41" height="22.64" fill="#680000"/>
<rect x="411.81" y="98.78" width="1.41" height="22.64" fill="#670000"/>
<rect x="413.07" y="98.78" width="1.41" height="22.64" fill="#4c0000"/>
<rect x="414.34" y="98.78" width="1.41" height="22.64" fill="#480000"/>
<rect x="415.60" y="98.78" width="1.41" height="22.64" fill="#5f0000"/>
<rect x="416.86" y="98.78" width="1.41" height="22.64" fill="#560000"/>
<rect x="418.12" y="98.78" width="1.41" height="22.64" fill="#370000"/>
<rect x="419.38" y="98.78" width="1.41" height="22.64" fill="#3a0000"/>
<rect x="420.64" y="98.78" width="1.41" height="22.64" fill="#1a0000"/>
<rect x="421.90" y="98.78" width="1.41" height="22.64" fill="#11d011"/>
<rect x="423.16" y="98.78" width="1.41" height="22.64" fill="#0ea80e"/>
<rect x="424.42" y="98.78" width="1.41" height="22.64" fill="#0d9c0d"/>
<rect x="425.68" y="98.78" width="1.41" height="22.64" fill="#0da70d"/>
<rect x="426.95" y="98.78" width="1.41" height="22.64" fill="#1d0000"/>
<rect x="428.21" y="98.78" width="1.41" height="22.64" fill="#1b0000"/>
<rect x="429.47" y="98.78" width="1.41" height="22.64" fill="#180000"/>
<rect x="430.73" y="98.78" width="1.41" height="22.64" fill="#100000"/>
<rect x="431.99" y="98.78" width="1.41" height="22.64" fill="#1c0000"/>
<rect x="433.25" y="98.78" width="1.41" height="22.64" fill="#140000"/>
<rect x="434.51" y="98.78" width="1.41" height="22.64" fill="#0d0000"/>
<rect x="435.77" y="98.78" width="1.41" height="22.64" fill="#150000"/>
<rect x="437.03" y="98.78" width="1.41" height="22.64" fill="#270000"/>
<rect x="438.29" y="98.78" width="1.41" height="22.64" fill="#200000"/>
<rect x="439.55" y="98.78" width="1.41" height="22.64" fill="#2a0000"/>
<rect x="440.82" y="98.78" width="1.41" height="22.64" fill="#320000"/>
<rect x="442.08" y="98.78" width="1.41" height="22.64" fill="#250000"/>
<rect x="443.34" y="98.78" width="1.41" height="22.64" fill="#2b0000"/>
<rect x="444.60" y="98.78" width="1.41" height="22.64" fill="#300000"/>
<rect x="445.86" y="98.78" width="1.41" height="22.64" fill="#320000"/>
<rect x="447.12" y="98.78" width="1.41" height="22.64" fill="#1c0000"/>
<rect x="448.38" y="98.78" width="1.41" height="22.64" fill="#2b0000"/>
<rect x="449.64" y="98.78" width="1.41" height="22.64" fill="#230000"/>
<rect x="450.90" y="98.78" width="1.41" height="22.64" fill="#240000"/>
<rect x="452.16" y="98.78" width="1.41" height="22.64" fill="#320000"/>
<rect x="453.42" y="98.78" width="1.41" height="22.64" fill="#2d0000"/>
<rect x="454.69" y="98.78" width="1.41" height="22.64" fill="#5e0000"/>
<rect x="455.95" y="98.78" width="1.41" height="22.64" fill="#2c0000"/>
<rect x="457.21" y="98.78" width="1.41" height="22.64" fill="#250000"/>
<rect x="458.47" y="98.78" width="1.41" height="22.64" fill="#170000"/>
<rect x="459.73" y="98.78" width="1.41" height="22.64" fill="#290000"/>
<rect x="460.99" y="98.78" width="1.41" height="22.64" fill="#220000"/>
<rect x="462.25" y="98.78" width="1.41" height="22.64" fill="#250000"/>
<rect x="463.51" y="98.78" width="1.41" height="22.64" fill="#240000"/>
<rect x="464.77" y="98.78" width="1.41" height="22.64" fill="#1b0000"/>
<rect x="466.03" y="98.78" width="1.41" height="22.64" fill="#230000"/>
<rect x="467.29" y="98.78" width="1.41" height="22.64" fill="#270000"/>
<rect x="468.56" y="98.78" width="1.41" height="22.64" fill="#210000"/>
<rect x="469.82" y="98.78" width="1.41" height="22.64" fill="#270000"/>
<rect x="471.08" y="98.78" width="1.41" height="22.64" fill="#2a0000"/>
<rect x="472.34" y="98.78" width="1.41" height="22.64" fill="#200000"/>
<rect x="473.60" y="98.78" width="1.41" height="22.64" fill="#240000"/>
<rect x="474.86" y="98.78" width="1.41" height="22.64" fill="#1f0000"/>
<rect x="476.12" y="98.78" width="1.41" height="22.64" fill="#210000"/>
<rect x="477.38" y="98.78" width="1.41" height="22.64" fill="#140000"/>
<rect x="478.64" y="98.78" width="1.41" height="22.64" fill="#250000"/>
<rect x="479.90" y="98.78" width="1.41" height="22.64" fill="#0f0000"/>
<rect x="481.16" y="98.78" width="1.41" height="22.64" fill="#260000"/>
<rect x="482.43" y="98.78" width="1.41" height="22.64" fill="#1a0000"/>
<rect x="483.69" y="98.78" width="1.41" height="22.64" fill="#260000"/>
<rect x="484.95" y="98.78" width="1.41" height="22.64" fill="#1a0000"/>
<rect x="486.21" y="98.78" width="1.41" height="22.64" fill="#130000"/>
<rect x="487.47" y="98.78" width="1.41" height="22.64" fill="#190000"/>
<rect x="488.73" y="98.78" width="1.41" height="22.64" fill="#210000"/>
<rect x="489.99" y="98.78" width="1.41" height="22.64" fill="#250000"/>
<rect x="491.25" y="98.78" width="1.41" height="22.64" fill="#1c0000"/>
<rect x="492.51" y="98.78" width="1.41" height="22.64" fill="#120000"/>
<rect x="493.77" y="98.78" width="1.41" height="22.64" fill="#240000"/>
<rect x="495.03" y="98.78" width="1.41" height="22.64" fill="#1b0000"/>
<rect x="496.30" y="98.78" width="1.41" height="22.64" fill="#240000"/>
<rect x="497.56" y="98.78" width="1.41" height="22.64" fill="#1b0000"/>
<rect x="498.82" y="98.78" width="1.41" height="22.64" fill="#240000"/>
<rect x="500.08" y="98.78" width="1.41" height="22.64" fill="#140000"/>
<rect x="501.34" y="98.78" width="1.41" height="22.64" fill="#1d0000"/>
<rect x="34.80" y="121.32" width="1.41" height="22.64" fill="#051005"/>
<rect x="36.06" y="121.32" width="1.41" height="22.64" fill="#123412"/>
<rect x="37.32" y="121.32" width="1.41" height="22.64" fill="#061106"/>
<rect x="38.58" y="121.32" width="1.41" height="22.64" fill="#081908"/>
<rect x="39.84" y="121.32" width="1.41" height="22.64" fill="#040c04"/>
<rect x="41.10" y="121.32" width="1.41" height="22.64" fill="#020702"/>
<rect x="42.37" y="121.32" width="1.41" height="22.64" fill="#061106"/>
<rect x="43.63" y="121.32" width="1.41" height="22.64" fill="#0d3b0d"/>
<rect x="44.89" y="121.32" width="1.41" height="22.64" fill="#0c360c"/>
<rect x="46.15" y="121.32" width="1.41" height="22.64" fill="#030e03"/>
<rect x="47.41" y="121.32" width="1.41" height="22.64" fill="#061e06"/>
<rect x="48.67" y="121.32" width="1.41" height="22.64" fill="#122a12"/>
<rect x="49.93" y="121.32" width="1.41" height="22.64" fill="#050c05"/>
<rect x="51.19" y="121.32" width="1.41" height="22.64" fill="#102510"/>
<rect x="52.45" y="121.32" width="1.41" height="22.64" fill="#0c1b0c"/>
<rect x="53.71" y="121.32" width="1.41" height="22.64" fill="#071107"/>
<rect x="54.97" y="121.32" width="1.41" height="22.64" fill="#071007"/>
<rect x="56.24" y="121.32" width="1.41" height="22.64" fill="#060e06"/>
<rect x="57.50" y="121.32" width="1.41" height="22.64" fill="#051205"/>
<rect x="58.76" y="121.32" width="1.41" height="22.64" fill="#0c280c"/>
<rect x="60.02" y="121.32" width="1.41" height="22.64" fill="#081a08"/>
<rect x="61.28" y="121.32" width="1.41" height="22.64" fill="#030a03"/>
<rect x="62.54" y="121.32" width="1.41" height="22.64" fill="#0d2b0d"/>
<rect x="63.80" y="121.32" width="1.41" height="22.64" fill="#030903"/>
<rect x="65.06" y="121.32" width="1.41" height="22.64" fill="#051105"/>
<rect x="66.32" y="121.32" width="1.41" height="22.64" fill="#030b03"/>
<rect x="67.58" y="121.32" width="1.41" height="22.64" fill="#071607"/>
<rect x="68.84" y="121.32" width="1.41" height="22.64" fill="#081908"/>
<rect x="70.11" y="121.32" width="1.41" height="22.64" fill="#030c03"/>
<rect x="71.37" y="121.32" width="1.41" height="22.64" fill="#071607"/>
<rect x="72.63" y="121.32" width="1.41" height="22.64" fill="#040c04"/>
<rect x="73.89" y="121.32" width="1.41" height="22.64" fill="#081908"/>
<rect x="75.15" y="121.32" width="2.67" height="22.64" fill="#030a03"/>
<rect x="77.67" y="121.32" width="1.41" height="22.64" fill="#0b240b"/>
<rect x="78.93" y="121.32" width="1.41" height="22.64" fill="#0c280c"/>
<rect x="80.19" y="121.32" width="1.41" height="22.64" fill="#071807"/>
<rect x="81.45" y="121.32" width="1.41" height="22.64" fill="#051005"/>
<rect x="82.71" y="121.32" width="1.41" height="22.64" fill="#071807"/>
<rect x="83.98" y="121.32" width="2.67" height="22.64" fill="#030b03"/>
<rect x="86.50" y="121.32" width="1.41" height="22.64" fill="#040d04"/>
<rect x="87.76" y="121.32" width="1.41" height="22.64" fill="#081b08"/>
<rect x="89.02" y="121.32" width="1.41" height="22.64" fill="#040c04"/>
<rect x="90.28" y="121.32" width="1.41" height="22.64" fill="#0c200c"/>
<rect x="91.54" y="121.32" width="1.41" height="22.64" fill="#061006"/>
<rect x="92.80" y="121.32" width="2.67" height="22.64" fill="#061206"/>
<rect x="95.32" y="121.32" width="1.41" height="22.64" fill="#030903"/>
<rect x="96.58" y="121.32" width="2.67" height="22.64" fill="#061106"/>
<rect x="99.11" y="121.32" width="1.41" height="22.64" fill="#030803"/>
<rect x="100.37" y="121.32" width="1.41" height="22.64" fill="#030a03"/>
<rect x="101.63" y="121.32" width="1.41" height="22.64" fill="#050d05"/>
<rect x="102.89" y="121.32" width="1.41" height="22.64" fill="#050f05"/>
<rect x="104.15" y="121.32" width="1.41" height="22.64" fill="#040b04"/>
<rect x="105.41" y="121.32" width="1.41" height="22.64" fill="#030703"/>
<rect x="106.67" y="121.32" width="1.41" height="22.64" fill="#040904"/>
<rect x="107.93" y="121.32" width="1.41" height="22.64" fill="#060e06"/>
<rect x="109.19" y="121.32" width="1.41" height="22.64" fill="#091609"/>
<rect x="110.45" y="121.32" width="1.41" height="22.64" fill="#030903"/>
<rect x="111.72" y="121.32" width="1.41" height="22.64" fill="#050c05"/>
<rect x="112.98" y="121.32" width="1.41" height="22.64" fill="#030703"/>
<rect x="114.24" y="121.32" width="1.41" height="22.64" fill="#0d1f0d"/>
<rect x="115.50" y="121.32" width="1.41" height="22.64" fill="#060e06"/>
<rect x="116.76" y="121.32" width="1.41" height="22.64" fill="#197419"/>
<rect x="118.02" y="121.32" width="1.41" height="22.64" fill="#092d09"/>
<rect x="119.28" y="121.32" width="1.41" height="22.64" fill="#040804"/>
<rect x="120.54" y="121.32" width="1.41" height="22.64" fill="#050b05"/>
<rect x="121.80" y="121.32" width="1.41" height="22.64" fill="#030703"/>
<rect x="123.06" y="121.32" width="1.41" height="22.64" fill="#050b05"/>
<rect x="124.33" y="121.32" width="1.41" height="22.64" fill="#060c06"/>
<rect x="125.59" y="121.32" width="1.41" height="22.64" fill="#081008"/>
<rect x="126.85" y="121.32" width="1.41" height="22.64" fill="#060c06"/>
<rect x="128.11" y="121.32" width="1.41" height="22.64" fill="#020502"/>
<rect x="129.37" y="121.32" width="1.41" height="22.64" fill="#040804"/>
<rect x="130.63" y="121.32" width="2.67" height="22.64" fill="#070704"/>
<rect x="133.15" y="121.32" width="1.41" height="22.64" fill="#050503"/>
<rect x="134.41" y="121.32" width="2.67" height="22.64" fill="#060603"/>
<rect x="136.93" y="121.32" width="3.93" height="22.64" fill="#050503"/>
<rect x="140.72" y="121.32" width="2.67" height="22.64" fill="#0b0301"/>
<rect x="143.24" y="121.32" width="1.41" height="22.64" fill="#080200"/>
<rect x="144.50" y="121.32" width="2.67" height="22.64" fill="#070200"/>
<rect x="147.02" y="121.32" width="1.41" height="22.64" fill="#0b0301"/>
<rect x="148.28" y="121.32" width="1.41" height="22.64" fill="#090200"/>
<rect x="149.54" y="121.32" width="2.67" height="22.64" fill="#0b0301"/>
<rect x="152.07" y="121.32" width="1.41" height="22.64" fill="#070200"/>
<rect x="153.33" y="121.32" width="1.41" height="22.64" fill="#0b0301"/>
<rect x="154.59" y="121.32" width="1.41" height="22.64" fill="#0b0000"/>
<rect x="155.85" y="121.32" width="1.41" height="22.64" fill="#0e0000"/>
<rect x="157.11" y="121.32" width="2.67" height="22.64" fill="#0a0000"/>
<rect x="159.63" y="121.32" width="1.41" height="22.64" fill="#0d0000"/>
<rect x="160.89" y="121.32" width="1.41" height="22.64" fill="#090000"/>
<rect x="162.15" y="121.32" width="1.41" height="22.64" fill="#0a0000"/>
<rect x="163.41" y="121.32" width="1.41" height="22.64" fill="#0e0000"/>
<rect x="164.67" y="121.32" width="1.41" height="22.64" fill="#0b0000"/>
<rect x="165.94" y="121.32" width="1.41" height="22.64" fill="#0d0000"/>
<rect x="167.20" y="121.32" width="1.41" height="22.64" fill="#090000"/>
<rect x="168.46" y="121.32" width="2.67" height="22.64" fill="#0c0000"/>
<rect x="170.98" y="121.32" width="1.41" height="22.64" fill="#0b0000"/>
<rect x="172.24" y="121.32" width="5.19" height="22.64" fill="#0c0000"/>
<rect x="177.28" y="121.32" width="1.41" height="22.64" fill="#0a0000"/>
<rect x="178.54" y="121.32" width="1.41" height="22.64" fill="#090000"/>
<rect x="179.81" y="121.32" width="1.41" height="22.64" fill="#0e0000"/>
<rect x="181.07" y="121.32" width="1.41" height="22.64" fill="#0c0000"/>
<rect x="182.33" y="121.32" width="1.41" height="22.64" fill="#0e0000"/>
<rect x="183.59" y="121.32" width="2.67" height="22.64" fill="#0c0000"/>
<rect x="186.11" y="121.32" width="1.41" height="22.64" fill="#0d0000"/>
<rect x="187.37" y="121.32" width="1.41" height="22.64" fill="#0c0000"/>
<rect x="188.63" y="121.32" width="2.67" height="22.64" fill="#0e0000"/>
<rect x="191.15" y="121.32" width="1.41" height="22.64" fill="#0c0000"/>
<rect x="192.41" y="121.32" width="1.41" height="22.64" fill="#0d0000"/>
<rect x="193.68" y="121.32" width="2.67" height="22.64" fill="#0e0000"/>
<rect x="196.20" y="121.32" width="1.41" height="22.64" fill="#0b0000"/>
<rect x="197.46" y="121.32" width="1.41" height="22.64" fill="#0d0000"/>
<rect x="198.72" y="121.32" width="1.41" height="22.64" fill="#0c0000"/>
<rect x="199.98" y="121.32" width="2.67" height="22.64" fill="#0d0000"/>
<rect x="202.50" y="121.32" width="1.41" height="22.64" fill="#0a0000"/>
<rect x="203.76" y="121.32" width="1.41" height="22.64" fill="#0e0000"/>
<rect x="205.02" y="121.32" width="1.41" height="22.64" fill="#0c0000"/>
<rect x="206.28" y="121.32" width="1.41" height="22.64" fill="#090000"/>
<rect x="207.55" y="121.32" width="1.41" height="22.64" fill="#0d0000"/>
<rect x="208.81" y="121.32" width="2.67" height="22.64" fill="#0b0000"/>
<rect x="211.33" y="121.32" width="2.67" height="22.64" fill="#0e0000"/>
<rect x="213.85" y="121.32" width="1.41" height="22.64" fill="#0b0000"/>
<rect x="215.11" y="121.32" width="1.41" height="22.64" fill="#0d0000"/>
<rect x="216.37" y="121.32" width="2.67" height="22.64" fill="#090000"/>
<rect x="218.89" y="121.32" width="1.41" height="22.64" fill="#0e0000"/>
<rect x="220.15" y="121.32" width="1.41" height="22.64" fill="#0a0000"/>
<rect x="221.42" y="121.32" width="1.41" height="22.64" fill="#0e0000"/>
<rect x="222.68" y="121.32" width="1.41" height="22.64" fill="#090000"/>
<rect x="223.94" y="121.32" width="1.41" height="22.64" fill="#0e0000"/>
<rect x="225.20" y="121.32" width="1.41" height="22.64" fill="#090000"/>
<rect x="226.46" y="121.32" width="1.41" height="22.64" fill="#0b0000"/>
<rect x="227.72" y="121.32" width="1.41" height="22.64" fill="#090000"/>
<rect x="228.98" y="121.32" width="1.41" height="22.64" fill="#0d0000"/>
<rect x="230.24" y="121.32" width="2.67" height="22.64" fill="#090000"/>
<rect x="232.76" y="121.32" width="1.41" height="22.64" fill="#0c0000"/>
<rect x="234.02" y="121.32" width="1.41" height="22.64" fill="#0d0000"/>
<rect x="235.29" y="121.32" width="1.41" height="22.64" fill="#0b0000"/>
<rect x="236.55" y="121.32" width="1.41" height="22.64" fill="#0c0000"/>
<rect x="237.81" y="121.32" width="1.41" height="22.64" fill="#0b0000"/>
<rect x="239.07" y="121.32" width="1.41" height="22.64" fill="#0e0000"/>
<rect x="240.33" y="121.32" width="1.41" height="22.64" fill="#0a0000"/>
<rect x="241.59" y="121.32" width="1.41" height="22.64" fill="#090000"/>
<rect x="242.85" y="121.32" width="1.41" height="22.64" fill="#0c0000"/>
<rect x="244.11" y="121.32" width="1.41" height="22.64" fill="#0d0000"/>
<rect x="245.37" y="121.32" width="2.67" height="22.64" fill="#090000"/>
<rect x="247.89" y="121.32" width="1.41" height="22.64" fill="#0e0000"/>
<rect x="249.16" y="121.32" width="1.41" height="22.64" fill="#0c0000"/>
<rect x="250.42" y="121.32" width="1.41" height="22.64" fill="#0a0000"/>
<rect x="251.68" y="121.32" width="1.41" height="22.64" fill="#0c0000"/>
<rect x="252.94" y="121.32" width="2.67" height="22.64" fill="#0e0000"/>
<rect x="255.46" y="121.32" width="1.41" height="22.64" fill="#090000"/>
<rect x="256.72" y="121.32" width="1.41" height="22.64" fill="#0e0000"/>
<rect x="257.98" y="121.32" width="1.41" height="22.64" fill="#0a0000"/>
<rect x="259.24" y="121.32" width="1.41" height="22.64" fill="#0d0000"/>
<rect x="260.50" y="121.32" width="2.67" height="22.64" fill="#0a0000"/>
<rect x="263.03" y="121.32" width="1.41" height="22.64" fill="#0d0000"/>
<rect x="264.29" y="121.32" width="1.41" height="22.64" fill="#0a0000"/>
<rect x="265.55" y="121.32" width="1.41" height="22.64" fill="#090000"/>
<rect x="266.81" y="121.32" width="1.41" height="22.64" fill="#0a0000"/>
<rect x="268.07" y="121.32" width="1.41" height="22.64" fill="#0b0000"/>
<rect x="269.33" y="121.32" width="1.41" height="22.64" fill="#0d0000"/>
<rect x="270.59" y="121.32" width="2.67" height="22.64" fill="#0b0000"/>
<rect x="273.11" y="121.32" width="1.41" height="22.64" fill="#0d0000"/>
<rect x="274.37" y="121.32" width="1.41" height="22.64" fill="#040704"/>
<rect x="275.64" y="121.32" width="1.41" height="22.64" fill="#070c07"/>
<rect x="276.90" y="121.32" width="1.41" height="22.64" fill="#101a10"/>
<rect x="278.16" y="121.32" width="1.41" height="22.64" fill="#0f1a0f"/>
<rect x="279.42" y="121.32" width="1.41" height="22.64" fill="#0c140c"/>
<rect x="280.68" y="121.32" width="1.41" height="22.64" fill="#080d08"/>
<rect x="281.94" y="121.32" width="1.41" height="22.64" fill="#091009"/>
<rect x="283.20" y="121.32" width="1.41" height="22.64" fill="#154511"/>
<rect x="284.46" y="121.32" width="1.41" height="22.64" fill="#090400"/>
<rect x="285.72" y="121.32" width="1.41" height="22.64" fill="#070300"/>
<rect x="286.98" y="121.32" width="1.41" height="22.64" fill="#090400"/>
<rect x="288.24" y="121.32" width="1.41" height="22.64" fill="#080400"/>
<rect x="289.51" y="121.32" width="1.41" height="22.64" fill="#060300"/>
<rect x="290.77" y="121.32" width="1.41" height="22.64" fill="#080400"/>
<rect x="292.03" y="121.32" width="2.67" height="22.64" fill="#090400"/>
<rect x="294.55" y="121.32" width="1.41" height="22.64" fill="#070300"/>
<rect x="295.81" y="121.32" width="1.41" height="22.64" fill="#080400"/>
<rect x="297.07" y="121.32" width="1.41" height="22.64" fill="#060300"/>
<rect x="298.33" y="121.32" width="1.41" height="22.64" fill="#070300"/>
<rect x="299.59" y="121.32" width="1.41" height="22.64" fill="#060300"/>
<rect x="300.85" y="121.32" width="2.67" height="22.64" fill="#080400"/>
<rect x="303.38" y="121.32" width="1.41" height="22.64" fill="#090400"/>
<rect x="304.64" y="121.32" width="1.41" height="22.64" fill="#080400"/>
<rect x="305.90" y="121.32" width="1.41" height="22.64" fill="#070300"/>
<rect x="307.16" y="121.32" width="1.41" height="22.64" fill="#090400"/>
<rect x="308.42" y="121.32" width="2.67" height="22.64" fill="#070300"/>
<rect x="310.94" y="121.32" width="1.41" height="22.64" fill="#080400"/>
<rect x="312.20" y="121.32" width="3.93" height="22.64" fill="#070300"/>
<rect x="315.98" y="121.32" width="1.41" height="22.64" fill="#080400"/>
<rect x="317.25" y="121.32" width="2.67" height="22.64" fill="#060300"/>
<rect x="319.77" y="121.32" width="1.41" height="22.64" fill="#070300"/>
<rect x="321.03" y="121.32" width="1.41" height="22.64" fill="#080400"/>
<rect x="322.29" y="121.32" width="1.41" height="22.64" fill="#090400"/>
<rect x="323.55" y="121.32" width="1.41" height="22.64" fill="#080400"/>
<rect x="324.81" y="121.32" width="2.67" height="22.64" fill="#070300"/>
<rect x="327.33" y="121.32" width="1.41" height="22.64" fill="#090400"/>
<rect x="328.59" y="121.32" width="1.41" height="22.64" fill="#070300"/>
<rect x="329.85" y="121.32" width="1.41" height="22.64" fill="#080400"/>
<rect x="331.12" y="121.32" width="1.41" height="22.64" fill="#060300"/>
<rect x="332.38" y="121.32" width="2.67" height="22.64" fill="#090400"/>
<rect x="334.90" y="121.32" width="1.41" height="22.64" fill="#080400"/>
<rect x="336.16" y="121.32" width="1.41" height="22.64" fill="#060300"/>
<rect x="337.42" y="121.32" width="1.41" height="22.64" fill="#090400"/>
<rect x="338.68" y="121.32" width="1.41" height="22.64" fill="#080400"/>
<rect x="339.94" y="121.32" width="1.41" height="22.64" fill="#0b2409"/>
<rect x="341.20" y="121.32" width="1.41" height="22.64" fill="#0b2308"/>
<rect x="342.46" y="121.32" width="1.41" height="22.64" fill="#051204"/>
<rect x="343.72" y="121.32" width="1.41" height="22.64" fill="#090400"/>
<rect x="344.99" y="121.32" width="1.41" height="22.64" fill="#080400"/>
<rect x="346.25" y="121.32" width="1.41" height="22.64" fill="#090400"/>
<rect x="347.51" y="121.32" width="1.41" height="22.64" fill="#060300"/>
<rect x="348.77" y="121.32" width="1.41" height="22.64" fill="#070300"/>
<rect x="350.03" y="121.32" width="1.41" height="22.64" fill="#090400"/>
<rect x="351.29" y="121.32" width="1.41" height="22.64" fill="#091f07"/>
<rect x="352.55" y="121.32" width="1.41" height="22.64" fill="#051004"/>
<rect x="353.81" y="121.32" width="1.41" height="22.64" fill="#11380e"/>
<rect x="355.07" y="121.32" width="1.41" height="22.64" fill="#050905"/>
<rect x="356.33" y="121.32" width="1.41" height="22.64" fill="#020302"/>
<rect x="357.59" y="121.32" width="1.41" height="22.64" fill="#090f09"/>
<rect x="358.86" y="121.32" width="1.41" height="22.64" fill="#050805"/>
<rect x="360.12" y="121.32" width="1.41" height="22.64" fill="#060a06"/>
<rect x="361.38" y="121.32" width="1.41" height="22.64" fill="#020402"/>
<rect x="362.64" y="121.32" width="1.41" height="22.64" fill="#070c07"/>
<rect x="363.90" y="121.32" width="1.41" height="22.64" fill="#080e08"/>
<rect x="365.16" y="121.32" width="1.41" height="22.64" fill="#050805"/>
<rect x="366.42" y="121.32" width="1.41" height="22.64" fill="#020402"/>
<rect x="367.68" y="121.32" width="1.41" height="22.64" fill="#050905"/>
<rect x="368.94" y="121.32" width="1.41" height="22.64" fill="#020402"/>
<rect x="370.20" y="121.32" width="1.41" height="22.64" fill="#101b10"/>
<rect x="371.46" y="121.32" width="1.41" height="22.64" fill="#050905"/>
<rect x="372.73" y="121.32" width="1.41" height="22.64" fill="#030503"/>
<rect x="373.99" y="121.32" width="1.41" height="22.64" fill="#060a06"/>
<rect x="375.25" y="121.32" width="1.41" height="22.64" fill="#050805"/>
<rect x="376.51" y="121.32" width="1.41" height="22.64" fill="#091009"/>
<rect x="377.77" y="121.32" width="1.41" height="22.64" fill="#040704"/>
<rect x="379.03" y="121.32" width="1.41" height="22.64" fill="#0d160d"/>
<rect x="380.29" y="121.32" width="1.41" height="22.64" fill="#091009"/>
<rect x="381.55" y="121.32" width="1.41" height="22.64" fill="#0f190f"/>
<rect x="382.81" y="121.32" width="1.41" height="22.64" fill="#0e180e"/>
<rect x="384.07" y="121.32" width="1.41" height="22.64" fill="#040704"/>
<rect x="385.33" y="121.32" width="1.41" height="22.64" fill="#020402"/>
<rect x="386.60" y="121.32" width="1.41" height="22.64" fill="#020302"/>
<rect x="387.86" y="121.32" width="1.41" height="22.64" fill="#050805"/>
<rect x="389.12" y="121.32" width="1.41" height="22.64" fill="#0a110a"/>
<rect x="390.38" y="121.32" width="1.41" height="22.64" fill="#040604"/>
<rect x="391.64" y="121.32" width="1.41" height="22.64" fill="#0f190f"/>
<rect x="392.90" y="121.32" width="1.41" height="22.64" fill="#030603"/>
<rect x="394.16" y="121.32" width="1.41" height="22.64" fill="#060606"/>
<rect x="395.42" y="121.32" width="1.41" height="22.64" fill="#090909"/>
<rect x="396.68" y="121.32" width="1.41" height="22.64" fill="#060606"/>
<rect x="397.94" y="121.32" width="2.67" height="22.64" fill="#080808"/>
<rect x="400.47" y="121.32" width="2.67" height="22.64" fill="#070707"/>
<rect x="402.99" y="121.32" width="2.67" height="22.64" fill="#060606"/>
<rect x="405.51" y="121.32" width="1.41" height="22.64" fill="#090909"/>
<rect x="406.77" y="121.32" width="1.41" height="22.64" fill="#080808"/>
<rect x="408.03" y="121.32" width="2.67" height="22.64" fill="#070707"/>
<rect x="410.55" y="121.32" width="1.41" height="22.64" fill="#060606"/>
<rect x="411.81" y="121.32" width="1.41" height="22.64" fill="#041004"/>
<rect x="413.07" y="121.32" width="1.41" height="22.64" fill="#061906"/>
<rect x="414.34" y="121.32" width="1.41" height="22.64" fill="#041004"/>
<rect x="415.60" y="121.32" width="1.41" height="22.64" fill="#165916"/>
<rect x="416.86" y="121.32" width="1.41" height="22.64" fill="#071d07"/>
<rect x="418.12" y="121.32" width="1.41" height="22.64" fill="#061a06"/>
<rect x="419.38" y="121.32" width="1.41" height="22.64" fill="#114711"/>
<rect x="420.64" y="121.32" width="3.93" height="22.64" fill="#081008"/>
<rect x="424.42" y="121.32" width="1.41" height="22.64" fill="#081108"/>
<rect x="425.68" y="121.32" width="1.41" height="22.64" fill="#102110"/>
<rect x="426.95" y="121.32" width="1.41" height="22.64" fill="#030603"/>
<rect x="428.21" y="121.32" width="1.41" height="22.64" fill="#060d06"/>
<rect x="429.47" y="121.32" width="1.41" height="22.64" fill="#050b05"/>
<rect x="430.73" y="121.32" width="1.41" height="22.64" fill="#040904"/>
<rect x="431.99" y="121.32" width="1.41" height="22.64" fill="#060d06"/>
<rect x="433.25" y="121.32" width="1.41" height="22.64" fill="#030b03"/>
<rect x="434.51" y="121.32" width="1.41" height="22.64" fill="#123b12"/>
<rect x="435.77" y="121.32" width="1.41" height="22.64" fill="#040f04"/>
<rect x="437.03" y="121.32" width="1.41" height="22.64" fill="#061306"/>
<rect x="438.29" y="121.32" width="1.41" height="22.64" fill="#040d04"/>
<rect x="439.55" y="121.32" width="1.41" height="22.64" fill="#091f09"/>
<rect x="440.82" y="121.32" width="2.67" height="22.64" fill="#090909"/>
<rect x="443.34" y="121.32" width="2.67" height="22.64" fill="#060606"/>
<rect x="445.86" y="121.32" width="1.41" height="22.64" fill="#090909"/>
<rect x="447.12" y="121.32" width="1.41" height="22.64" fill="#070707"/>
<rect x="448.38" y="121.32" width="1.41" height="22.64" fill="#090909"/>
<rect x="449.64" y="121.32" width="1.41" height="22.64" fill="#060606"/>
<rect x="450.90" y="121.32" width="1.41" height="22.64" fill="#090909"/>
<rect x="452.16" y="121.32" width="3.93" height="22.64" fill="#060606"/>
<rect x="455.95" y="121.32" width="2.67" height="22.64" fill="#090909"/>
<rect x="458.47" y="121.32" width="1.41" height="22.64" fill="#080808"/>
<rect x="459.73" y="121.32" width="2.67" height="22.64" fill="#060606"/>
<rect x="462.25" y="121.32" width="1.41" height="22.64" fill="#070707"/>
<rect x="463.51" y="121.32" width="1.41" height="22.64" fill="#080808"/>
<rect x="464.77" y="121.32" width="1.41" height="22.64" fill="#096209"/>
<rect x="466.03" y="121.32" width="1.41" height="22.64" fill="#064406"/>
<rect x="467.29" y="121.32" width="1.41" height="22.64" fill="#0b780b"/>
<rect x="468.56" y="121.32" width="1.41" height="22.64" fill="#064006"/>
<rect x="469.82" y="121.32" width="1.41" height="22.64" fill="#10aa10"/>
<rect x="471.08" y="121.32" width="1.41" height="22.64" fill="#0e9e0e"/>
<rect x="472.34" y="121.32" width="1.41" height="22.64" fill="#178717"/>
<rect x="473.60" y="121.32" width="1.41" height="22.64" fill="#0b420b"/>
<rect x="474.86" y="121.32" width="1.41" height="22.64" fill="#0c460c"/>
<rect x="476.12" y="121.32" width="1.41" height="22.64" fill="#168416"/>
<rect x="477.38" y="121.32" width="1.41" height="22.64" fill="#0a3e0a"/>
<rect x="478.64" y="121.32" width="1.41" height="22.64" fill="#0c6b0c"/>
<rect x="479.90" y="121.32" width="1.41" height="22.64" fill="#0a5e0a"/>
<rect x="481.16" y="121.32" width="1.41" height="22.64" fill="#095409"/>
<rect x="482.43" y="121.32" width="1.41" height="22.64" fill="#032103"/>
<rect x="483.69" y="121.32" width="1.41" height="22.64" fill="#095409"/>
<rect x="484.95" y="121.32" width="1.41" height="22.64" fill="#084b08"/>
<rect x="486.21" y="121.32" width="1.41" height="22.64" fill="#074307"/>
<rect x="487.47" y="121.32" width="1.41" height="22.64" fill="#0b600b"/>
<rect x="488.73" y="121.32" width="1.41" height="22.64" fill="#063506"/>
<rect x="489.99" y="121.32" width="1.41" height="22.64" fill="#084708"/>
<rect x="491.25" y="121.32" width="1.41" height="22.64" fill="#053205"/>
<rect x="492.51" y="121.32" width="1.41" height="22.64" fill="#081508"/>
<rect x="493.77" y="121.32" width="1.41" height="22.64" fill="#0d210d"/>
<rect x="495.03" y="121.32" width="1.41" height="22.64" fill="#091709"/>
<rect x="496.30" y="121.32" width="1.41" height="22.64" fill="#040b04"/>
<rect x="497.56" y="121.32" width="1.41" height="22.64" fill="#071107"/>
<rect x="498.82" y="121.32" width="1.41" height="22.64" fill="#0c1f0c"/>
<rect x="500.08" y="121.32" width="1.41" height="22.64" fill="#091609"/>
<rect x="501.34" y="121.32" width="1.41" height="22.64" fill="#081508"/>
<rect x="34.80" y="143.86" width="1.41" height="22.64" fill="#220000"/>
<rect x="36.06" y="143.86" width="1.41" height="22.64" fill="#230000"/>
<rect x="37.32" y="143.86" width="1.41" height="22.64" fill="#290000"/>
<rect x="38.58" y="143.86" width="1.41" height="22.64" fill="#1b0000"/>
<rect x="39.84" y="143.86" width="1.41" height="22.64" fill="#260000"/>
<rect x="41.10" y="143.86" width="1.41" height="22.64" fill="#1e0000"/>
<rect x="42.37" y="143.86" width="1.41" height="22.64" fill="#180000"/>
<rect x="43.63" y="143.86" width="1.41" height="22.64" fill="#230000"/>
<rect x="44.89" y="143.86" width="1.41" height="22.64" fill="#210000"/>
<rect x="46.15" y="143.86" width="1.41" height="22.64" fill="#250000"/>
<rect x="47.41" y="143.86" width="1.41" height="22.64" fill="#170000"/>
<rect x="48.67" y="143.86" width="1.41" height="22.64" fill="#150000"/>
<rect x="49.93" y="143.86" width="1.41" height="22.64" fill="#200000"/>
<rect x="51.19" y="143.86" width="1.41" height="22.64" fill="#1b0000"/>
<rect x="52.45" y="143.86" width="1.41" height="22.64" fill="#260000"/>
<rect x="53.71" y="143.86" width="1.41" height="22.64" fill="#1c0000"/>
<rect x="54.97" y="143.86" width="1.41" height="22.64" fill="#190000"/>
<rect x="56.24" y="143.86" width="1.41" height="22.64" fill="#090000"/>
<rect x="57.50" y="143.86" width="1.41" height="22.64" fill="#0d0000"/>
<rect x="58.76" y="143.86" width="1.41" height="22.64" fill="#0f0000"/>
<rect x="60.02" y="143.86" width="1.41" height="22.64" fill="#2c0000"/>
<rect x="61.28" y="143.86" width="1.41" height="22.64" fill="#2b0000"/>
<rect x="62.54" y="143.86" width="1.41" height="22.64" fill="#1f0000"/>
<rect x="63.80" y="143.86" width="1.41" height="22.64" fill="#2c0000"/>
<rect x="65.06" y="143.86" width="1.41" height="22.64" fill="#170000"/>
<rect x="66.32" y="143.86" width="1.41" height="22.64" fill="#260000"/>
<rect x="67.58" y="143.86" width="1.41" height="22.64" fill="#2c0000"/>
<rect x="68.84" y="143.86" width="1.41" height="22.64" fill="#2d0000"/>
<rect x="70.11" y="143.86" width="1.41" height="22.64" fill="#240000"/>
<rect x="71.37" y="143.86" width="1.41" height="22.64" fill="#220000"/>
<rect x="72.63" y="143.86" width="1.41" height="22.64" fill="#260000"/>
<rect x="73.89" y="143.86" width="1.41" height="22.64" fill="#2c0000"/>
<rect x="75.15" y="143.86" width="1.41" height="22.64" fill="#290000"/>
<rect x="76.41" y="143.86" width="1.41" height="22.64" fill="#230000"/>
<rect x="77.67" y="143.86" width="1.41" height="22.64" fill="#1b0000"/>
<rect x="78.93" y="143.86" width="1.41" height="22.64" fill="#280000"/>
<rect x="80.19" y="143.86" width="1.41" height="22.64" fill="#1a0000"/>
<rect x="81.45" y="143.86" width="1.41" height="22.64" fill="#1f0000"/>
<rect x="82.71" y="143.86" width="1.41" height="22.64" fill="#260000"/>
<rect x="83.98" y="143.86" width="1.41" height="22.64" fill="#2b0000"/>
<rect x="85.24" y="143.86" width="1.41" height="22.64" fill="#1f0000"/>
<rect x="86.50" y="143.86" width="1.41" height="22.64" fill="#290000"/>
<rect x="87.76" y="143.86" width="1.41" height="22.64" fill="#8f0000"/>
<rect x="89.02" y="143.86" width="1.41" height="22.64" fill="#6c0000"/>
<rect x="90.28" y="143.86" width="1.41" height="22.64" fill="#670000"/>
<rect x="91.54" y="143.86" width="1.41" height="22.64" fill="#380000"/>
<rect x="92.80" y="143.86" width="1.41" height="22.64" fill="#360000"/>
<rect x="94.06" y="143.86" width="1.41" height="22.64" fill="#3e0000"/>
<rect x="95.32" y="143.86" width="1.41" height="22.64" fill="#260000"/>
<rect x="96.58" y="143.86" width="1.41" height="22.64" fill="#3b0000"/>
<rect x="97.85" y="143.86" width="1.41" height="22.64" fill="#390000"/>
<rect x="99.11" y="143.86" width="1.41" height="22.64" fill="#1a0000"/>
<rect x="100.37" y="143.86" width="1.41" height="22.64" fill="#1d0000"/>
<rect x="101.63" y="143.86" width="2.67" height="22.64" fill="#340000"/>
<rect x="104.15" y="143.86" width="1.41" height="22.64" fill="#2e0000"/>
<rect x="105.41" y="143.86" width="1.41" height="22.64" fill="#350000"/>
<rect x="106.67" y="143.86" width="1.41" height="22.64" fill="#270000"/>
<rect x="107.93" y="143.86" width="1.41" height="22.64" fill="#2c0000"/>
<rect x="109.19" y="143.86" width="1.41" height="22.64" fill="#2a0000"/>
<rect x="110.45" y="143.86" width="1.41" height="22.64" fill="#310000"/>
<rect x="111.72" y="143.86" width="1.41" height="22.64" fill="#170000"/>
<rect x="112.98" y="143.86" width="2.67" height="22.64" fill="#290000"/>
<rect x="115.50" y="143.86" width="1.41" height="22.64" fill="#330000"/>
<rect x="116.76" y="143.86" width="1.41" height="22.64" fill="#3c0000"/>
<rect x="118.02" y="143.86" width="1.41" height="22.64" fill="#740000"/>
<rect x="119.28" y="143.86" width="1.41" height="22.64" fill="#570000"/>
<rect x="120.54" y="143.86" width="1.41" height="22.64" fill="#530000"/>
<rect x="121.80" y="143.86" width="1.41" height="22.64" fill="#4b0000"/>
<rect x="123.06" y="143.86" width="1.41" height="22.64" fill="#3a0000"/>
<rect x="124.33" y="143.86" width="1.41" height="22.64" fill="#490000"/>
<rect x="125.59" y="143.86" width="1.41" height="22.64" fill="#4a0000"/>
<rect x="126.85" y="143.86" width="1.41" height="22.64" fill="#460000"/>
<rect x="128.11" y="143.86" width="1.41" height="22.64" fill="#400000"/>
<rect x="129.37" y="143.86" width="1.41" height="22.64" fill="#4a0000"/>
<rect x="130.63" y="143.86" width="1.41" height="22.64" fill="#3c0000"/>
<rect x="131.89" y="143.86" width="1.41" height="22.64" fill="#210000"/>
<rect x="133.15" y="143.86" width="1.41" height="22.64" fill="#2f0000"/>
<rect x="134.41" y="143.86" width="1.41" height="22.64" fill="#380000"/>
<rect x="135.67" y="143.86" width="1.41" height="22.64" fill="#460000"/>
<rect x="136.93" y="143.86" width="1.41" height="22.64" fill="#400000"/>
<rect x="138.20" y="143.86" width="1.41" height="22.64" fill="#420000"/>
<rect x="139.46" y="143.86" width="1.41" height="22.64" fill="#340000"/>
<rect x="140.72" y="143.86" width="1.41" height="22.64" fill="#3f0000"/>
<rect x="141.98" y="143.86" width="1.41" height="22.64" fill="#3a0000"/>
<rect x="143.24" y="143.86" width="1.41" height="22.64" fill="#4b0000"/>
<rect x="144.50" y="143.86" width="1.41" height="22.64" fill="#390000"/>
<rect x="145.76" y="143.86" width="1.41" height="22.64" fill="#480000"/>
<rect x="147.02" y="143.86" width="1.41" height="22.64" fill="#4c0000"/>
<rect x="148.28" y="143.86" width="1.41" height="22.64" fill="#450000"/>
<rect x="149.54" y="143.86" width="1.41" height="22.64" fill="#370000"/>
<rect x="150.80" y="143.86" width="1.41" height="22.64" fill="#3a0000"/>
<rect x="152.07" y="143.86" width="1.41" height="22.64" fill="#4b0000"/>
<rect x="153.33" y="143.86" width="1.41" height="22.64" fill="#1e0000"/>
<rect x="154.59" y="143.86" width="1.41" height="22.64" fill="#5a0000"/>
<rect x="155.85" y="143.86" width="1.41" height="22.64" fill="#510000"/>
<rect x="157.11" y="143.86" width="1.41" height="22.64" fill="#3f0000"/>
<rect x="158.37" y="143.86" width="1.41" height="22.64" fill="#4d0000"/>
<rect x="159.63" y="143.86" width="1.41" height="22.64" fill="#450000"/>
<rect x="160.89" y="143.86" width="1.41" height="22.64" fill="#4f0000"/>
<rect x="162.15" y="143.86" width="1.41" height="22.64" fill="#5b0000"/>
<rect x="163.41" y="143.86" width="1.41" height="22.64" fill="#330000"/>
<rect x="164.67" y="143.86" width="1.41" height="22.64" fill="#2b0000"/>
<rect x="165.94" y="143.86" width="1.41" height="22.64" fill="#3f0000"/>
<rect x="167.20" y="143.86" width="1.41" height="22.64" fill="#4d0000"/>
<rect x="168.46" y="143.86" width="1.41" height="22.64" fill="#6b0000"/>
<rect x="169.72" y="143.86" width="1.41" height="22.64" fill="#6a0000"/>
<rect x="170.98" y="143.86" width="1.41" height="22.64" fill="#690000"/>
<rect x="172.24" y="143.86" width="1.41" height="22.64" fill="#580000"/>
<rect x="173.50" y="143.86" width="1.41" height="22.64" fill="#4d0000"/>
<rect x="174.76" y="143.86" width="1.41" height="22.64" fill="#370000"/>
<rect x="176.02" y="143.86" width="1.41" height="22.64" fill="#5c0000"/>
<rect x="177.28" y="143.86" width="1.41" height="22.64" fill="#650000"/>
<rect x="178.54" y="143.86" width="1.41" height="22.64" fill="#670000"/>
<rect x="179.81" y="143.86" width="1.41" height="22.64" fill="#6b0000"/>
<rect x="181.07" y="143.86" width="1.41" height="22.64" fill="#5e0000"/>
<rect x="182.33" y="143.86" width="1.41" height="22.64" fill="#560000"/>
<rect x="183.59" y="143.86" width="1.41" height="22.64" fill="#6e0000"/>
<rect x="184.85" y="143.86" width="1.41" height="22.64" fill="#530000"/>
<rect x="186.11" y="143.86" width="1.41" height="22.64" fill="#710000"/>
<rect x="187.37" y="143.86" width="1.41" height="22.64" fill="#750000"/>
<rect x="188.63" y="143.86" width="1.41" height="22.64" fill="#760000"/>
<rect x="189.89" y="143.86" width="1.41" height="22.64" fill="#550000"/>
<rect x="191.15" y="143.86" width="1.41" height="22.64" fill="#5e0000"/>
<rect x="192.41" y="143.86" width="1.41" height="22.64" fill="#790000"/>
<rect x="193.68" y="143.86" width="1.41" height="22.64" fill="#5a0000"/>
<rect x="194.94" y="143.86" width="1.41" height="22.64" fill="#550000"/>
<rect x="196.20" y="143.86" width="1.41" height="22.64" fill="#5f0000"/>
<rect x="197.46" y="143.86" width="1.41" height="22.64" fill="#4e0000"/>
<rect x="198.72" y="143.86" width="1.41" height="22.64" fill="#640000"/>
<rect x="199.98" y="143.86" width="1.41" height="22.64" fill="#630000"/>
<rect x="201.24" y="143.86" width="1.41" height="22.64" fill="#4d0000"/>
<rect x="202.50" y="143.86" width="1.41" height="22.64" fill="#2a0000"/>
<rect x="203.76" y="143.86" width="1.41" height="22.64" fill="#610000"/>
<rect x="205.02" y="143.86" width="2.67" height="22.64" fill="#480000"/>
<rect x="207.55" y="143.86" width="1.41" height="22.64" fill="#4e0000"/>
<rect x="208.81" y="143.86" width="1.41" height="22.64" fill="#680000"/>
<rect x="210.07" y="143.86" width="1.41" height="22.64" fill="#530000"/>
<rect x="211.33" y="143.86" width="1.41" height="22.64" fill="#6b0000"/>
<rect x="212.59" y="143.86" width="1.41" height="22.64" fill="#400000"/>
<rect x="213.85" y="143.86" width="1.41" height="22.64" fill="#660000"/>
<rect x="215.11" y="143.86" width="1.41" height="22.64" fill="#5b0000"/>
<rect x="216.37" y="143.86" width="1.41" height="22.64" fill="#800000"/>
<rect x="217.63" y="143.86" width="1.41" height="22.64" fill="#6f0000"/>
<rect x="218.89" y="143.86" width="1.41" height="22.64" fill="#740000"/>
<rect x="220.15" y="143.86" width="1.41" height="22.64" fill="#780000"/>
<rect x="221.42" y="143.86" width="1.41" height="22.64" fill="#760000"/>
<rect x="222.68" y="143.86" width="1.41" height="22.64" fill="#5e0000"/>
<rect x="223.94" y="143.86" width="1.41" height="22.64" fill="#6d0000"/>
<rect x="225.20" y="143.86" width="1.41" height="22.64" fill="#680000"/>
<rect x="226.46" y="143.86" width="1.41" height="22.64" fill="#6e0000"/>
<rect x="227.72" y="143.86" width="1.41" height="22.64" fill="#510000"/>
<rect x="228.98" y="143.86" width="1.41" height="22.64" fill="#5b0000"/>
<rect x="230.24" y="143.86" width="1.41" height="22.64" fill="#6b0000"/>
<rect x="231.50" y="143.86" width="1.41" height="22.64" fill="#4c0000"/>
<rect x="232.76" y="143.86" width="2.67" height="22.64" fill="#690000"/>
<rect x="235.29" y="143.86" width="1.41" height="22.64" fill="#440000"/>
<rect x="236.55" y="143.86" width="1.41" height="22.64" fill="#270000"/>
<rect x="237.81" y="143.86" width="1.41" height="22.64" fill="#490000"/>
<rect x="239.07" y="143.86" width="1.41" height="22.64" fill="#5a0000"/>
<rect x="240.33" y="143.86" width="1.41" height="22.64" fill="#3e0000"/>
<rect x="241.59" y="143.86" width="1.41" height="22.64" fill="#4f0000"/>
<rect x="242.85" y="143.86" width="1.41" height="22.64" fill="#3e0000"/>
<rect x="244.11" y="143.86" width="1.41" height="22.64" fill="#4c0000"/>
<rect x="245.37" y="143.86" width="1.41" height="22.64" fill="#540000"/>
<rect x="246.63" y="143.86" width="1.41" height="22.64" fill="#270000"/>
<rect x="247.89" y="143.86" width="1.41" height="22.64" fill="#780000"/>
<rect x="249.16" y="143.86" width="1.41" height="22.64" fill="#730000"/>
<rect x="250.42" y="143.86" width="1.41" height="22.64" fill="#6d0000"/>
<rect x="251.68" y="143.86" width="1.41" height="22.64" fill="#3d0000"/>
<rect x="252.94" y="143.86" width="1.41" height="22.64" fill="#600000"/>
<rect x="254.20" y="143.86" width="1.41" height="22.64" fill="#780000"/>
<rect x="255.46" y="143.86" width="1.41" height="22.64" fill="#740000"/>
<rect x="256.72" y="143.86" width="1.41" height="22.64" fill="#7a0000"/>
<rect x="257.98" y="143.86" width="1.41" height="22.64" fill="#710000"/>
<rect x="259.24" y="143.86" width="1.41" height="22.64" fill="#750000"/>
<rect x="260.50" y="143.86" width="1.41" height="22.64" fill="#640000"/>
<rect x="261.76" y="143.86" width="1.41" height="22.64" fill="#820000"/>
<rect x="263.03" y="143.86" width="1.41" height="22.64" fill="#7c0000"/>
<rect x="264.29" y="143.86" width="1.41" height="22.64" fill="#7b0000"/>
<rect x="265.55" y="143.86" width="1.41" height="22.64" fill="#480000"/>
<rect x="266.81" y="143.86" width="1.41" height="22.64" fill="#400000"/>
<rect x="268.07" y="143.86" width="1.41" height="22.64" fill="#840000"/>
<rect x="269.33" y="143.86" width="1.41" height="22.64" fill="#600000"/>
<rect x="270.59" y="143.86" width="1.41" height="22.64" fill="#6a0000"/>
<rect x="271.85" y="143.86" width="1.41" height="22.64" fill="#720000"/>
<rect x="273.11" y="143.86" width="1.41" height="22.64" fill="#320000"/>
<rect x="274.37" y="143.86" width="1.41" height="22.64" fill="#5e0000"/>
<rect x="275.64" y="143.86" width="1.41" height="22.64" fill="#7f0000"/>
<rect x="276.90" y="143.86" width="1.41" height="22.64" fill="#6d0000"/>
<rect x="278.16" y="143.86" width="1.41" height="22.64" fill="#860000"/>
<rect x="279.42" y="143.86" width="1.41" height="22.64" fill="#650000"/>
<rect x="280.68" y="143.86" width="1.41" height="22.64" fill="#390000"/>
<rect x="281.94" y="143.86" width="1.41" height="22.64" fill="#5e0000"/>
<rect x="283.20" y="143.86" width="1.41" height="22.64" fill="#590000"/>
<rect x="284.46" y="143.86" width="1.41" height="22.64" fill="#520000"/>
<rect x="285.72" y="143.86" width="1.41" height="22.64" fill="#690000"/>
<rect x="286.98" y="143.86" width="1.41" height="22.64" fill="#620000"/>
<rect x="288.24" y="143.86" width="1.41" height="22.64" fill="#4a0000"/>
<rect x="289.51" y="143.86" width="1.41" height="22.64" fill="#490000"/>
<rect x="290.77" y="143.86" width="1.41" height="22.64" fill="#7a0000"/>
<rect x="292.03" y="143.86" width="1.41" height="22.64" fill="#930000"/>
<rect x="293.29" y="143.86" width="1.41" height="22.64" fill="#9a0000"/>
<rect x="294.55" y="143.86" width="1.41" height="22.64" fill="#600000"/>
<rect x="295.81" y="143.86" width="1.41" height="22.64" fill="#590000"/>
<rect x="297.07" y="143.86" width="1.41" height="22.64" fill="#5a0000"/>
<rect x="298.33" y="143.86" width="1.41" height="22.64" fill="#4c0000"/>
<rect x="299.59" y="143.86" width="1.41" height="22.64" fill="#550000"/>
<rect x="300.85" y="143.86" width="1.41" height="22.64" fill="#240000"/>
<rect x="302.11" y="143.86" width="1.41" height="22.64" fill="#6d0000"/>
<rect x="303.38" y="143.86" width="1.41" height="22.64" fill="#2b0000"/>
<rect x="304.64" y="143.86" width="1.41" height="22.64" fill="#5e0000"/>
<rect x="305.90" y="143.86" width="1.41" height="22.64" fill="#4e0000"/>
<rect x="307.16" y="143.86" width="1.41" height="22.64" fill="#5b0000"/>
<rect x="308.42" y="143.86" width="1.41" height="22.64" fill="#780000"/>
<rect x="309.68" y="143.86" width="1.41" height="22.64" fill="#710000"/>
<rect x="310.94" y="143.86" width="1.41" height="22.64" fill="#6c0000"/>
<rect x="312.20" y="143.86" width="1.41" height="22.64" fill="#700000"/>
<rect x="313.46" y="143.86" width="1.41" height="22.64" fill="#6f0000"/>
<rect x="314.72" y="143.86" width="1.41" height="22.64" fill="#560000"/>
<rect x="315.98" y="143.86" width="1.41" height="22.64" fill="#6a0000"/>
<rect x="317.25" y="143.86" width="1.41" height="22.64" fill="#580000"/>
<rect x="318.51" y="143.86" width="1.41" height="22.64" fill="#5d0000"/>
<rect x="319.77" y="143.86" width="1.41" height="22.64" fill="#5f0000"/>
<rect x="321.03" y="143.86" width="1.41" height="22.64" fill="#550000"/>
<rect x="322.29" y="143.86" width="2.67" height="22.64" fill="#6c0000"/>
<rect x="324.81" y="143.86" width="1.41" height="22.64" fill="#290000"/>
<rect x="326.07" y="143.86" width="1.41" height="22.64" fill="#410000"/>
<rect x="327.33" y="143.86" width="1.41" height="22.64" fill="#310000"/>
<rect x="328.59" y="143.86" width="1.41" height="22.64" fill="#680000"/>
<rect x="329.85" y="143.86" width="1.41" height="22.64" fill="#6c0000"/>
<rect x="331.12" y="143.86" width="1.41" height="22.64" fill="#750000"/>
<rect x="332.38" y="143.86" width="1.41" height="22.64" fill="#250000"/>
<rect x="333.64" y="143.86" width="1.41" height="22.64" fill="#220000"/>
<rect x="334.90" y="143.86" width="1.41" height="22.64" fill="#1e0000"/>
<rect x="336.16" y="143.86" width="1.41" height="22.64" fill="#580000"/>
<rect x="337.42" y="143.86" width="1.41" height="22.64" fill="#4b0000"/>
<rect x="338.68" y="143.86" width="1.41" height="22.64" fill="#430000"/>
<rect x="339.94" y="143.86" width="1.41" height="22.64" fill="#2b0000"/>
<rect x="341.20" y="143.86" width="1.41" height="22.64" fill="#480000"/>
<rect x="342.46" y="143.86" width="1.41" height="22.64" fill="#500000"/>
<rect x="343.72" y="143.86" width="1.41" height="22.64" fill="#2b0000"/>
<rect x="344.99" y="143.86" width="1.41" height="22.64" fill="#510000"/>
<rect x="346.25" y="143.86" width="1.41" height="22.64" fill="#290000"/>
<rect x="347.51" y="143.86" width="1.41" height="22.64" fill="#2d0000"/>
<rect x="348.77" y="143.86" width="1.41" height="22.64" fill="#400000"/>
<rect x="350.03" y="143.86" width="1.41" height="22.64" fill="#3f0000"/>
<rect x="351.29" y="143.86" width="1.41" height="22.64" fill="#450000"/>
<rect x="352.55" y="143.86" width="1.41" height="22.64" fill="#780000"/>
<rect x="353.81" y="143.86" width="1.41" height="22.64" fill="#3a0000"/>
<rect x="355.07" y="143.86" width="1.41" height="22.64" fill="#700000"/>
<rect x="356.33" y="143.86" width="1.41" height="22.64" fill="#580000"/>
<rect x="357.59" y="143.86" width="1.41" height="22.64" fill="#750000"/>
<rect x="358.86" y="143.86" width="1.41" height="22.64" fill="#580000"/>
<rect x="360.12" y="143.86" width="1.41" height="22.64" fill="#4d0000"/>
<rect x="361.38" y="143.86" width="1.41" height="22.64" fill="#760000"/>
<rect x="362.64" y="143.86" width="1.41" height="22.64" fill="#740000"/>
<rect x="363.90" y="143.86" width="1.41" height="22.64" fill="#760000"/>
<rect x="365.16" y="143.86" width="1.41" height="22.64" fill="#2e0000"/>
<rect x="366.42" y="143.86" width="1.41" height="22.64" fill="#610000"/>
<rect x="367.68" y="143.86" width="1.41" height="22.64" fill="#650000"/>
<rect x="368.94" y="143.86" width="1.41" height="22.64" fill="#560000"/>
<rect x="370.20" y="143.86" width="1.41" height="22.64" fill="#660000"/>
<rect x="371.46" y="143.86" width="1.41" height="22.64" fill="#650000"/>
<rect x="372.73" y="143.86" width="1.41" height="22.64" fill="#770000"/>
<rect x="373.99" y="143.86" width="1.41" height="22.64" fill="#2c0000"/>
<rect x="375.25" y="143.86" width="1.41" height="22.64" fill="#640000"/>
<rect x="376.51" y="143.86" width="1.41" height="22.64" fill="#320000"/>
<rect x="377.77" y="143.86" width="1.41" height="22.64" fill="#590000"/>
<rect x="379.03" y="143.86" width="1.41" height="22.64" fill="#5d0000"/>
<rect x="380.29" y="143.86" width="1.41" height="22.64" fill="#680000"/>
<rect x="381.55" y="143.86" width="2.67" height="22.64" fill="#490000"/>
<rect x="384.07" y="143.86" width="1.41" height="22.64" fill="#590000"/>
<rect x="385.33" y="143.86" width="1.41" height="22.64" fill="#4b0000"/>
<rect x="386.60" y="143.86" width="1.41" height="22.64" fill="#580000"/>
<rect x="387.86" y="143.86" width="1.41" height="22.64" fill="#450000"/>
<rect x="389.12" y="143.86" width="1.41" height="22.64" fill="#320000"/>
<rect x="390.38" y="143.86" width="1.41" height="22.64" fill="#420000"/>
<rect x="391.64" y="143.86" width="1.41" height="22.64" fill="#580000"/>
<rect x="392.90" y="143.86" width="1.41" height="22.64" fill="#590000"/>
<rect x="394.16" y="143.86" width="1.41" height="22.64" fill="#470000"/>
<rect x="395.42" y="143.86" width="1.41" height="22.64" fill="#430000"/>
<rect x="396.68" y="143.86" width="1.41" height="22.64" fill="#340000"/>
<rect x="397.94" y="143.86" width="1.41" height="22.64" fill="#460000"/>
<rect x="399.20" y="143.86" width="1.41" height="22.64" fill="#360000"/>
<rect x="400.47" y="143.86" width="1.41" height="22.64" fill="#3d0000"/>
<rect x="401.73" y="143.86" width="1.41" height="22.64" fill="#2a0000"/>
<rect x="402.99" y="143.86" width="1.41" height="22.64" fill="#440000"/>
<rect x="404.25" y="143.86" width="1.41" height="22.64" fill="#280000"/>
<rect x="405.51" y="143.86" width="1.41" height="22.64" fill="#450000"/>
<rect x="406.77" y="143.86" width="1.41" height="22.64" fill="#2b0000"/>
<rect x="408.03" y="143.86" width="1.41" height="22.64" fill="#2d0000"/>
<rect x="409.29" y="143.86" width="1.41" height="22.64" fill="#230000"/>
<rect x="410.55" y="143.86" width="1.41" height="22.64" fill="#0f0000"/>
<rect x="411.81" y="143.86" width="1.41" height="22.64" fill="#210000"/>
<rect x="413.07" y="143.86" width="1.41" height="22.64" fill="#150000"/>
<rect x="414.34" y="143.86" width="1.41" height="22.64" fill="#2b0000"/>
<rect x="415.60" y="143.86" width="1.41" height="22.64" fill="#290000"/>
<rect x="416.86" y="143.86" width="1.41" height="22.64" fill="#1a0000"/>
<rect x="418.12" y="143.86" width="1.41" height="22.64" fill="#230000"/>
<rect x="419.38" y="143.86" width="1.41" height="22.64" fill="#220000"/>
<rect x="420.64" y="143.86" width="1.41" height="22.64" fill="#150000"/>
<rect x="421.90" y="143.86" width="1.41" height="22.64" fill="#250000"/>
<rect x="423.16" y="143.86" width="1.41" height="22.64" fill="#270000"/>
<rect x="424.42" y="143.86" width="1.41" height="22.64" fill="#220000"/>
<rect x="425.68" y="143.86" width="1.41" height="22.64" fill="#210000"/>
<rect x="426.95" y="143.86" width="2.67" height="22.64" fill="#0a1c04"/>
<rect x="429.47" y="143.86" width="1.41" height="22.64" fill="#170000"/>
<rect x="430.73" y="143.86" width="1.41" height="22.64" fill="#1d0000"/>
<rect x="431.99" y="143.86" width="1.41" height="22.64" fill="#150000"/>
<rect x="433.25" y="143.86" width="1.41" height="22.64" fill="#100000"/>
<rect x="434.51" y="143.86" width="1.41" height="22.64" fill="#150000"/>
<rect x="435.77" y="143.86" width="1.41" height="22.64" fill="#1c0000"/>
<rect x="437.03" y="143.86" width="1.41" height="22.64" fill="#1a0000"/>
<rect x="438.29" y="143.86" width="1.41" height="22.64" fill="#160000"/>
<rect x="439.55" y="143.86" width="1.41" height="22.64" fill="#1e0000"/>
<rect x="440.82" y="143.86" width="1.41" height="22.64" fill="#400000"/>
<rect x="442.08" y="143.86" width="1.41" height="22.64" fill="#560000"/>
<rect x="443.34" y="143.86" width="1.41" height="22.64" fill="#3c0000"/>
<rect x="444.60" y="143.86" width="1.41" height="22.64" fill="#1f0000"/>
<rect x="445.86" y="143.86" width="1.41" height="22.64" fill="#490000"/>
<rect x="447.12" y="143.86" width="1.41" height="22.64" fill="#510000"/>
<rect x="448.38" y="143.86" width="1.41" height="22.64" fill="#4f0000"/>
<rect x="449.64" y="143.86" width="1.41" height="22.64" fill="#4c0000"/>
<rect x="450.90" y="143.86" width="1.41" height="22.64" fill="#290000"/>
<rect x="452.16" y="143.86" width="1.41" height="22.64" fill="#260000"/>
<rect x="453.42" y="143.86" width="1.41" height="22.64" fill="#250000"/>
<rect x="454.69" y="143.86" width="1.41" height="22.64" fill="#220000"/>
<rect x="455.95" y="143.86" width="1.41" height="22.64" fill="#2b0000"/>
<rect x="457.21" y="143.86" width="1.41" height="22.64" fill="#280000"/>
<rect x="458.47" y="143.86" width="1.41" height="22.64" fill="#2d0000"/>
<rect x="459.73" y="143.86" width="1.41" height="22.64" fill="#2b0000"/>
<rect x="460.99" y="143.86" width="1.41" height="22.64" fill="#1f0000"/>
<rect x="462.25" y="143.86" width="1.41" height="22.64" fill="#210000"/>
<rect x="463.51" y="143.86" width="1.41" height="22.64" fill="#3b0000"/>
<rect x="464.77" y="143.86" width="1.41" height="22.64" fill="#2f0000"/>
<rect x="466.03" y="143.86" width="1.41" height="22.64" fill="#3c0000"/>
<rect x="467.29" y="143.86" width="1.41" height="22.64" fill="#320000"/>
<rect x="468.56" y="143.86" width="1.41" height="22.64" fill="#3c0000"/>
<rect x="469.82" y="143.86" width="1.41" height="22.64" fill="#2a0000"/>
<rect x="471.08" y="143.86" width="1.41" height="22.64" fill="#340000"/>
<rect x="472.34" y="143.86" width="1.41" height="22.64" fill="#2b0000"/>
<rect x="473.60" y="143.86" width="3.93" height="22.64" fill="#300000"/>
<rect x="477.38" y="143.86" width="1.41" height="22.64" fill="#360000"/>
<rect x="478.64" y="143.86" width="1.41" height="22.64" fill="#2b0000"/>
<rect x="479.90" y="143.86" width="1.41" height="22.64" fill="#3b0000"/>
<rect x="481.16" y="143.86" width="1.41" height="22.64" fill="#280000"/>
<rect x="482.43" y="143.86" width="1.41" height="22.64" fill="#250000"/>
<rect x="483.69" y="143.86" width="1.41" height="22.64" fill="#270000"/>
<rect x="484.95" y="143.86" width="1.41" height="22.64" fill="#2a0000"/>
<rect x="486.21" y="143.86" width="1.41" height="22.64" fill="#2b0000"/>
<rect x="487.47" y="143.86" width="1.41" height="22.64" fill="#290000"/>
<rect x="488.73" y="143.86" width="1.41" height="22.64" fill="#170000"/>
<rect x="489.99" y="143.86" width="1.41" height="22.64" fill="#100000"/>
<rect x="491.25" y="143.86" width="1.41" height="22.64" fill="#0f0000"/>
<rect x="492.51" y="143.86" width="1.41" height="22.64" fill="#120000"/>
<rect x="493.77" y="143.86" width="1.41" height="22.64" fill="#100000"/>
<rect x="495.03" y="143.86" width="1.41" height="22.64" fill="#080000"/>
<rect x="496.30" y="143.86" width="1.41" height="22.64" fill="#110000"/>
<rect x="497.56" y="143.86" width="1.41" height="22.64" fill="#0e0000"/>
<rect x="498.82" y="143.86" width="1.41" height="22.64" fill="#120000"/>
<rect x="500.08" y="143.86" width="1.41" height="22.64" fill="#0c0000"/>
<rect x="501.34" y="143.86" width="1.41" height="22.64" fill="#0a0000"/>
</g></g>
<path d="M36.1 29.9V52.4M38.6 29.9V52.4M41.1 28.2V52.4M43.7 28.2V52.4M46.2 31.8V52.4M48.7 31.8V52.4M51.2 30.3V52.4M53.8 30.3V52.4M56.3 34.0V52.4M58.8 34.0V52.4M61.4 28.5V52.4M63.9 28.5V52.4M66.4 29.1V52.4M68.9 29.1V52.4M71.5 34.9V52.4M74.0 34.9V52.4M76.5 29.1V52.4M79.1 29.1V52.4M81.6 32.8V52.4M84.1 32.8V52.4M86.6 19.5V52.4M89.2 19.5V52.4M91.7 30.5V52.4M94.2 30.5V52.4M96.8 29.5V52.4M99.3 29.5V52.4M101.8 28.2V52.4M104.3 34.4V52.4M106.9 34.4V52.4M109.4 28.2V52.4M111.9 33.3V52.4M114.5 33.3V52.4M117.0 32.5V52.4M119.5 32.5V52.4M122.0 41.9V52.4M124.6 41.9V52.4M127.1 44.3V52.4M129.6 44.3V52.4M132.2 45.8V52.4M134.7 45.8V52.4M137.2 39.2V52.4M139.7 42.5V52.4M142.3 42.5V52.4M144.8 41.0V52.4M147.3 41.0V52.4M149.9 38.9V52.4M152.4 45.6V52.4M154.9 45.6V52.4M157.4 43.2V52.4M160.0 43.2V52.4M162.5 39.5V52.4M165.0 41.0V52.4M167.6 41.0V52.4M170.1 38.0V52.4M172.6 38.0V52.4M175.1 41.5V52.4M177.7 41.5V52.4M180.2 35.9V52.4M182.7 35.5V52.4M185.3 37.5V52.4M187.8 37.5V52.4M190.3 39.8V52.4M192.8 39.8V52.4M195.4 39.0V52.4M197.9 39.0V52.4M200.4 39.6V52.4M203.0 39.6V52.4M205.5 41.1V52.4M208.0 41.1V52.4M210.5 36.9V52.4M213.1 43.5V52.4M215.6 43.5V52.4M218.1 40.5V52.4M220.7 40.5V52.4M223.2 46.2V52.4M225.7 46.2V52.4M228.2 42.2V52.4M230.8 47.9V52.4M233.3 47.9V52.4M235.8 41.9V52.4M238.4 47.6V52.4M240.9 47.6V52.4M243.4 44.9V52.4M245.9 44.9V52.4M248.5 49.1V52.4M251.0 49.1V52.4M253.5 48.9V52.4M256.1 48.9V52.4M258.6 43.2V52.4M261.1 43.6V52.4M263.6 43.6V52.4M266.2 39.4V52.4M268.7 48.4V52.4M271.2 48.4V52.4M273.8 42.2V52.4M276.3 42.2V52.4M278.8 46.1V52.4M281.3 46.1V52.4M283.9 28.9V52.4M286.4 28.9V52.4M288.9 32.2V52.4M291.5 32.2V52.4M294.0 27.2V52.4M296.5 28.4V52.4M299.0 28.4V52.4M301.6 36.0V52.4M304.1 36.0V52.4M306.6 34.3V52.4M309.2 34.3V52.4M311.7 37.3V52.4M314.2 37.3V52.4M316.7 36.4V52.4M319.3 36.4V52.4M321.8 41.5V52.4M324.3 41.5V52.4M326.9 40.1V52.4M329.4 40.1V52.4M331.9 34.6V52.4M334.4 24.3V52.4M337.0 34.1V52.4M339.5 34.1V52.4M342.0 37.3V52.4M344.6 37.3V52.4M347.1 40.0V52.4M349.6 40.0V52.4M352.1 34.1V52.4M354.7 34.1V52.4M357.2 40.5V52.4M359.7 40.5V52.4M362.3 40.6V52.4M364.8 40.6V52.4M367.3 32.6V52.4M369.8 36.7V52.4M372.4 36.7V52.4M374.9 38.8V52.4M377.4 38.8V52.4M380.0 35.9V52.4M382.5 35.9V52.4M385.0 23.4V52.4M387.5 35.1V52.4M390.1 35.1V52.4M392.6 33.0V52.4M395.1 33.0V52.4M397.7 35.1V52.4M400.2 35.1V52.4M402.7 35.9V52.4M405.2 35.9V52.4M407.8 32.8V52.4M410.3 32.8V52.4M412.8 38.0V52.4M415.4 38.0V52.4M417.9 37.2V52.4M420.4 37.2V52.4M422.9 18.6V52.4M425.5 18.6V52.4M428.0 16.2V52.4M430.5 16.2V52.4M433.1 28.1V52.4M435.6 32.5V52.4M438.1 32.5V52.4M440.6 29.4V52.4M443.2 29.4V52.4M445.7 27.4V52.4M448.2 27.5V52.4M450.8 34.6V52.4M453.3 34.6V52.4M455.8 30.4V52.4M458.3 30.4V52.4M460.9 25.9V52.4M463.4 25.9V52.4M465.9 31.1V52.4M468.5 31.1V52.4M471.0 38.6V52.4M473.5 38.6V52.4M476.0 41.9V52.4M478.6 41.9V52.4M481.1 37.5V52.4M483.6 37.5V52.4M486.2 40.4V52.4M488.7 40.4V52.4M491.2 25.4V52.4M493.7 29.0V52.4M496.3 29.0V52.4M498.8 32.7V52.4M501.3 32.7V52.4" stroke="#b1a9a9" stroke-width="2.25" fill="none"/>
<path d="M36.1 29.9L36.1 31.9M38.6 29.9L38.6 31.9M36.1 29.9L38.6 29.9M37.3 24.6L37.3 29.9M41.1 28.2L41.1 30.2M43.7 28.2L43.7 30.2M41.1 28.2L43.7 28.2M42.4 24.6L42.4 28.2M37.3 24.6L42.4 24.6M39.9 19.0L39.9 24.6M46.2 31.8L46.2 33.8M48.7 31.8L48.7 33.8M46.2 31.8L48.7 31.8M47.4 23.9L47.4 31.8M51.2 30.3L51.2 32.3M53.8 30.3L53.8 32.3M51.2 30.3L53.8 30.3M52.5 26.3L52.5 30.3M56.3 34.0L56.3 36.0M58.8 34.0L58.8 36.0M56.3 34.0L58.8 34.0M57.6 26.3L57.6 34.0M52.5 26.3L57.6 26.3M55.0 23.9L55.0 26.3M47.4 23.9L55.0 23.9M51.2 19.0L51.2 23.9M39.9 19.0L51.2 19.0M61.4 28.5L61.4 30.5M63.9 28.5L63.9 30.5M61.4 28.5L63.9 28.5M62.6 22.2L62.6 28.5M66.4 29.1L66.4 31.1M68.9 29.1L68.9 31.1M66.4 29.1L68.9 29.1M67.7 25.7L67.7 29.1M71.5 34.9L71.5 36.9M74.0 34.9L74.0 36.9M71.5 34.9L74.0 34.9M72.7 25.7L72.7 34.9M67.7 25.7L72.7 25.7M70.2 22.2L70.2 25.7M62.6 22.2L70.2 22.2M66.4 19.0L66.4 22.2M76.5 29.1L76.5 31.1M79.1 29.1L79.1 31.1M76.5 29.1L79.1 29.1M77.8 25.3L77.8 29.1M81.6 32.8L81.6 34.8M84.1 32.8L84.1 34.8M81.6 32.8L84.1 32.8M82.8 25.3L82.8 32.8M77.8 25.3L82.8 25.3M80.3 19.0L80.3 25.3M66.4 19.0L80.3 19.0M45.5 15.3L45.5 19.0M73.4 15.3L73.4 19.0M45.5 15.3L73.4 15.3M86.6 19.5L86.6 21.5M89.2 19.5L89.2 21.5M86.6 19.5L89.2 19.5M91.7 30.5L91.7 32.5M94.2 30.5L94.2 32.5M91.7 30.5L94.2 30.5M93.0 25.0L93.0 30.5M96.8 29.5L96.8 31.5M99.3 29.5L99.3 31.5M96.8 29.5L99.3 29.5M98.0 27.3L98.0 29.5M101.8 27.3L101.8 29.3M98.0 27.3L101.8 27.3M99.9 25.0L99.9 27.3M93.0 25.0L99.9 25.0M96.4 22.0L96.4 25.0M104.3 34.4L104.3 36.4M106.9 34.4L106.9 36.4M104.3 34.4L106.9 34.4M105.6 27.0L105.6 34.4M109.4 27.0L109.4 29.0M105.6 27.0L109.4 27.0M107.5 22.0L107.5 27.0M96.4 22.0L107.5 22.0M102.0 19.5L102.0 22.0M111.9 33.3L111.9 35.3M114.5 33.3L114.5 35.3M111.9 33.3L114.5 33.3M113.2 25.8L113.2 33.3M117.0 32.5L117.0 34.5M119.5 32.5L119.5 34.5M117.0 32.5L119.5 32.5M118.2 25.8L118.2 32.5M113.2 25.8L118.2 25.8M115.7 19.5L115.7 25.8M102.0 19.5L115.7 19.5M87.9 15.8L87.9 19.5M108.8 15.8L108.8 19.5M87.9 15.8L108.8 15.8M59.5 12.0L59.5 15.3M98.4 12.0L98.4 15.8M59.5 12.0L98.4 12.0M122.0 41.9L122.0 43.9M124.6 41.9L124.6 43.9M122.0 41.9L124.6 41.9M123.3 32.9L123.3 41.9M127.1 44.3L127.1 46.3M129.6 44.3L129.6 46.3M127.1 44.3L129.6 44.3M128.4 37.0L128.4 44.3M132.2 45.8L132.2 47.8M134.7 45.8L134.7 47.8M132.2 45.8L134.7 45.8M133.4 37.0L133.4 45.8M128.4 37.0L133.4 37.0M130.9 32.9L130.9 37.0M123.3 32.9L130.9 32.9M127.1 23.0L127.1 32.9M137.2 38.9L137.2 40.9M139.7 42.5L139.7 44.5M142.3 42.5L142.3 44.5M139.7 42.5L142.3 42.5M141.0 38.9L141.0 42.5M137.2 38.9L141.0 38.9M139.1 35.7L139.1 38.9M144.8 41.0L144.8 43.0M147.3 41.0L147.3 43.0M144.8 41.0L147.3 41.0M146.1 38.8L146.1 41.0M149.9 38.8L149.9 40.8M146.1 38.8L149.9 38.8M148.0 35.7L148.0 38.8M139.1 35.7L148.0 35.7M143.5 31.0L143.5 35.7M152.4 45.6L152.4 47.6M154.9 45.6L154.9 47.6M152.4 45.6L154.9 45.6M153.6 36.2L153.6 45.6M157.4 43.2L157.4 45.2M160.0 43.2L160.0 45.2M157.4 43.2L160.0 43.2M158.7 38.7L158.7 43.2M162.5 38.7L162.5 40.7M158.7 38.7L162.5 38.7M160.6 36.2L160.6 38.7M153.6 36.2L160.6 36.2M157.1 31.0L157.1 36.2M143.5 31.0L157.1 31.0M150.3 23.0L150.3 31.0M127.1 23.0L150.3 23.0M165.0 41.0L165.0 43.0M167.6 41.0L167.6 43.0M165.0 41.0L167.6 41.0M166.3 34.1L166.3 41.0M170.1 38.0L170.1 40.0M172.6 38.0L172.6 40.0M170.1 38.0L172.6 38.0M171.3 34.1L171.3 38.0M166.3 34.1L171.3 34.1M168.8 29.4L168.8 34.1M175.1 41.5L175.1 43.5M177.7 41.5L177.7 43.5M175.1 41.5L177.7 41.5M176.4 35.2L176.4 41.5M180.2 35.2L180.2 37.2M176.4 35.2L180.2 35.2M178.3 33.0L178.3 35.2M182.7 35.3L182.7 37.3M185.3 37.5L185.3 39.5M187.8 37.5L187.8 39.5M185.3 37.5L187.8 37.5M186.5 35.3L186.5 37.5M182.7 35.3L186.5 35.3M184.6 33.0L184.6 35.3M178.3 33.0L184.6 33.0M181.5 29.4L181.5 33.0M168.8 29.4L181.5 29.4M175.1 23.0L175.1 29.4M190.3 39.8L190.3 41.8M192.8 39.8L192.8 41.8M190.3 39.8L192.8 39.8M191.6 31.9L191.6 39.8M195.4 39.0L195.4 41.0M197.9 39.0L197.9 41.0M195.4 39.0L197.9 39.0M196.6 34.1L196.6 39.0M200.4 39.6L200.4 41.6M203.0 39.6L203.0 41.6M200.4 39.6L203.0 39.6M201.7 34.1L201.7 39.6M196.6 34.1L201.7 34.1M199.2 31.9L199.2 34.1M191.6 31.9L199.2 31.9M195.4 28.1L195.4 31.9M205.5 41.1L205.5 43.1M208.0 41.1L208.0 43.1M205.5 41.1L208.0 41.1M206.7 33.4L206.7 41.1M210.5 35.6L210.5 37.6M213.1 43.5L213.1 45.5M215.6 43.5L215.6 45.5M213.1 43.5L215.6 43.5M214.3 35.6L214.3 43.5M210.5 35.6L214.3 35.6M212.4 33.4L212.4 35.6M206.7 33.4L212.4 33.4M209.6 30.8L209.6 33.4M218.1 40.5L218.1 42.5M220.7 40.5L220.7 42.5M218.1 40.5L220.7 40.5M219.4 30.8L219.4 40.5M209.6 30.8L219.4 30.8M214.5 28.1L214.5 30.8M195.4 28.1L214.5 28.1M204.9 23.0L204.9 28.1M175.1 23.0L204.9 23.0M138.7 19.0L138.7 23.0M190.0 19.0L190.0 23.0M138.7 19.0L190.0 19.0M223.2 46.2L223.2 48.2M225.7 46.2L225.7 48.2M223.2 46.2L225.7 46.2M224.4 38.4L224.4 46.2M228.2 41.1L228.2 43.1M230.8 47.9L230.8 49.9M233.3 47.9L233.3 49.9M230.8 47.9L233.3 47.9M232.0 41.1L232.0 47.9M228.2 41.1L232.0 41.1M230.1 38.4L230.1 41.1M224.4 38.4L230.1 38.4M227.3 35.7L227.3 38.4M235.8 41.1L235.8 43.1M238.4 47.6L238.4 49.6M240.9 47.6L240.9 49.6M238.4 47.6L240.9 47.6M239.6 41.1L239.6 47.6M235.8 41.1L239.6 41.1M237.7 35.7L237.7 41.1M227.3 35.7L237.7 35.7M232.5 25.0L232.5 35.7M243.4 44.9L243.4 46.9M245.9 44.9L245.9 46.9M243.4 44.9L245.9 44.9M244.7 39.5L244.7 44.9M248.5 49.1L248.5 51.1M251.0 49.1L251.0 51.1M248.5 49.1L251.0 49.1M249.7 39.5L249.7 49.1M244.7 39.5L249.7 39.5M247.2 35.3L247.2 39.5M253.5 48.9L253.5 50.9M256.1 48.9L256.1 50.9M253.5 48.9L256.1 48.9M254.8 42.6L254.8 48.9M258.6 42.6L258.6 44.6M254.8 42.6L258.6 42.6M256.7 40.4L256.7 42.6M261.1 43.6L261.1 45.6M263.6 43.6L263.6 45.6M261.1 43.6L263.6 43.6M262.4 40.4L262.4 43.6M256.7 40.4L262.4 40.4M259.5 38.2L259.5 40.4M266.2 38.2L266.2 40.2M259.5 38.2L266.2 38.2M262.9 35.3L262.9 38.2M247.2 35.3L262.9 35.3M255.0 31.1L255.0 35.3M268.7 48.4L268.7 50.4M271.2 48.4L271.2 50.4M268.7 48.4L271.2 48.4M270.0 39.2L270.0 48.4M273.8 42.2L273.8 44.2M276.3 42.2L276.3 44.2M273.8 42.2L276.3 42.2M275.0 39.2L275.0 42.2M270.0 39.2L275.0 39.2M272.5 37.0L272.5 39.2M278.8 46.1L278.8 48.1M281.3 46.1L281.3 48.1M278.8 46.1L281.3 46.1M280.1 37.0L280.1 46.1M272.5 37.0L280.1 37.0M276.3 31.1L276.3 37.0M255.0 31.1L276.3 31.1M265.7 25.0L265.7 31.1M232.5 25.0L265.7 25.0M283.9 28.9L283.9 30.9M286.4 28.9L286.4 30.9M283.9 28.9L286.4 28.9M285.1 26.2L285.1 28.9M288.9 32.2L288.9 34.2M291.5 32.2L291.5 34.2M288.9 32.2L291.5 32.2M290.2 26.2L290.2 32.2M285.1 26.2L290.2 26.2M287.7 24.0L287.7 26.2M294.0 26.2L294.0 28.2M296.5 28.4L296.5 30.4M299.0 28.4L299.0 30.4M296.5 28.4L299.0 28.4M297.8 26.2L297.8 28.4M294.0 26.2L297.8 26.2M295.9 24.0L295.9 26.2M287.7 24.0L295.9 24.0M301.6 36.0L301.6 38.0M304.1 36.0L304.1 38.0M301.6 36.0L304.1 36.0M302.8 31.9L302.8 36.0M306.6 34.3L306.6 36.3M309.2 34.3L309.2 36.3M306.6 34.3L309.2 34.3M307.9 31.9L307.9 34.3M302.8 31.9L307.9 31.9M305.4 26.0L305.4 31.9M311.7 37.3L311.7 39.3M314.2 37.3L314.2 39.3M311.7 37.3L314.2 37.3M313.0 33.9L313.0 37.3M316.7 36.4L316.7 38.4M319.3 36.4L319.3 38.4M316.7 36.4L319.3 36.4M318.0 33.9L318.0 36.4M313.0 33.9L318.0 33.9M315.5 31.7L315.5 33.9M321.8 41.5L321.8 43.5M324.3 41.5L324.3 43.5M321.8 41.5L324.3 41.5M323.1 31.7L323.1 41.5M315.5 31.7L323.1 31.7M319.3 29.5L319.3 31.7M326.9 40.1L326.9 42.1M329.4 40.1L329.4 42.1M326.9 40.1L329.4 40.1M328.1 33.5L328.1 40.1M331.9 33.5L331.9 35.5M328.1 33.5L331.9 33.5M330.0 29.5L330.0 33.5M319.3 29.5L330.0 29.5M324.6 26.0L324.6 29.5M305.4 26.0L324.6 26.0M291.8 22.4L291.8 24.0M315.0 22.4L315.0 26.0M291.8 22.4L315.0 22.4M249.1 21.0L249.1 25.0M303.4 21.0L303.4 22.4M249.1 21.0L303.4 21.0M164.4 17.3L164.4 19.0M276.2 17.3L276.2 21.0M164.4 17.3L276.2 17.3M334.4 23.2L334.4 25.2M337.0 34.1L337.0 36.1M339.5 34.1L339.5 36.1M337.0 34.1L339.5 34.1M338.2 30.6L338.2 34.1M342.0 37.3L342.0 39.3M344.6 37.3L344.6 39.3M342.0 37.3L344.6 37.3M343.3 30.6L343.3 37.3M338.2 30.6L343.3 30.6M340.8 25.4L340.8 30.6M347.1 40.0L347.1 42.0M349.6 40.0L349.6 42.0M347.1 40.0L349.6 40.0M348.4 31.2L348.4 40.0M352.1 34.1L352.1 36.1M354.7 34.1L354.7 36.1M352.1 34.1L354.7 34.1M353.4 31.2L353.4 34.1M348.4 31.2L353.4 31.2M350.9 29.0L350.9 31.2M357.2 40.5L357.2 42.5M359.7 40.5L359.7 42.5M357.2 40.5L359.7 40.5M358.5 29.0L358.5 40.5M350.9 29.0L358.5 29.0M354.7 25.4L354.7 29.0M340.8 25.4L354.7 25.4M347.7 23.2L347.7 25.4M334.4 23.2L347.7 23.2M341.1 18.5L341.1 23.2M362.3 40.6L362.3 42.6M364.8 40.6L364.8 42.6M362.3 40.6L364.8 40.6M363.5 31.9L363.5 40.6M367.3 31.9L367.3 33.9M363.5 31.9L367.3 31.9M365.4 29.7L365.4 31.9M369.8 36.7L369.8 38.7M372.4 36.7L372.4 38.7M369.8 36.7L372.4 36.7M371.1 29.7L371.1 36.7M365.4 29.7L371.1 29.7M368.3 24.6L368.3 29.7M374.9 38.8L374.9 40.8M377.4 38.8L377.4 40.8M374.9 38.8L377.4 38.8M376.2 29.8L376.2 38.8M380.0 35.9L380.0 37.9M382.5 35.9L382.5 37.9M380.0 35.9L382.5 35.9M381.2 29.8L381.2 35.9M376.2 29.8L381.2 29.8M378.7 24.6L378.7 29.8M368.3 24.6L378.7 24.6M373.5 18.5L373.5 24.6M341.1 18.5L373.5 18.5M385.0 22.0L385.0 24.0M387.5 35.1L387.5 37.1M390.1 35.1L390.1 37.1M387.5 35.1L390.1 35.1M388.8 27.3L388.8 35.1M392.6 33.0L392.6 35.0M395.1 33.0L395.1 35.0M392.6 33.0L395.1 33.0M393.9 29.5L393.9 33.0M397.7 35.1L397.7 37.1M400.2 35.1L400.2 37.1M397.7 35.1L400.2 35.1M398.9 29.5L398.9 35.1M393.9 29.5L398.9 29.5M396.4 27.3L396.4 29.5M388.8 27.3L396.4 27.3M392.6 24.5L392.6 27.3M402.7 35.9L402.7 37.9M405.2 35.9L405.2 37.9M402.7 35.9L405.2 35.9M404.0 28.9L404.0 35.9M407.8 32.8L407.8 34.8M410.3 32.8L410.3 34.8M407.8 32.8L410.3 32.8M409.0 28.9L409.0 32.8M404.0 28.9L409.0 28.9M406.5 26.7L406.5 28.9M412.8 38.0L412.8 40.0M415.4 38.0L415.4 40.0M412.8 38.0L415.4 38.0M414.1 28.9L414.1 38.0M417.9 37.2L417.9 39.2M420.4 37.2L420.4 39.2M417.9 37.2L420.4 37.2M419.2 28.9L419.2 37.2M414.1 28.9L419.2 28.9M416.6 26.7L416.6 28.9M406.5 26.7L416.6 26.7M411.6 24.5L411.6 26.7M392.6 24.5L411.6 24.5M402.1 22.0L402.1 24.5M385.0 22.0L402.1 22.0M357.3 15.8L357.3 18.5M393.6 15.8L393.6 22.0M357.3 15.8L393.6 15.8M220.3 12.0L220.3 17.3M375.4 12.0L375.4 15.8M220.3 12.0L375.4 12.0M78.9 9.0L78.9 12.0M297.9 9.0L297.9 12.0M78.9 9.0L297.9 9.0M422.9 18.6L422.9 20.6M425.5 18.6L425.5 20.6M422.9 18.6L425.5 18.6M424.2 14.0L424.2 18.6M428.0 16.2L428.0 18.2M430.5 16.2L430.5 18.2M428.0 16.2L430.5 16.2M429.3 14.0L429.3 16.2M424.2 14.0L429.3 14.0M433.1 27.1L433.1 29.1M435.6 32.5L435.6 34.5M438.1 32.5L438.1 34.5M435.6 32.5L438.1 32.5M436.9 27.1L436.9 32.5M433.1 27.1L436.9 27.1M435.0 24.7L435.0 27.1M440.6 29.4L440.6 31.4M443.2 29.4L443.2 31.4M440.6 29.4L443.2 29.4M441.9 27.2L441.9 29.4M445.7 27.2L445.7 29.2M441.9 27.2L445.7 27.2M443.8 24.7L443.8 27.2M435.0 24.7L443.8 24.7M439.4 22.0L439.4 24.7M448.2 26.7L448.2 28.7M450.8 34.6L450.8 36.6M453.3 34.6L453.3 36.6M450.8 34.6L453.3 34.6M452.0 26.7L452.0 34.6M448.2 26.7L452.0 26.7M450.1 22.0L450.1 26.7M439.4 22.0L450.1 22.0M455.8 30.4L455.8 32.4M458.3 30.4L458.3 32.4M455.8 30.4L458.3 30.4M457.1 23.7L457.1 30.4M460.9 25.9L460.9 27.9M463.4 25.9L463.4 27.9M460.9 25.9L463.4 25.9M462.1 23.7L462.1 25.9M457.1 23.7L462.1 23.7M459.6 21.5L459.6 23.7M465.9 31.1L465.9 33.1M468.5 31.1L468.5 33.1M465.9 31.1L468.5 31.1M467.2 21.5L467.2 31.1M459.6 21.5L467.2 21.5M444.8 19.0L444.8 22.0M463.4 19.0L463.4 21.5M444.8 19.0L463.4 19.0M471.0 38.6L471.0 40.6M473.5 38.6L473.5 40.6M471.0 38.6L473.5 38.6M472.3 32.8L472.3 38.6M476.0 41.9L476.0 43.9M478.6 41.9L478.6 43.9M476.0 41.9L478.6 41.9M477.3 32.8L477.3 41.9M472.3 32.8L477.3 32.8M474.8 28.4L474.8 32.8M481.1 37.5L481.1 39.5M483.6 37.5L483.6 39.5M481.1 37.5L483.6 37.5M482.4 28.4L482.4 37.5M474.8 28.4L482.4 28.4M478.6 23.0L478.6 28.4M486.2 40.4L486.2 42.4M488.7 40.4L488.7 42.4M486.2 40.4L488.7 40.4M487.4 23.0L487.4 40.4M478.6 23.0L487.4 23.0M491.2 24.5L491.2 26.5M493.7 29.0L493.7 31.0M496.3 29.0L496.3 31.0M493.7 29.0L496.3 29.0M495.0 24.5L495.0 29.0M491.2 24.5L495.0 24.5M493.1 21.5L493.1 24.5M498.8 32.7L498.8 34.7M501.3 32.7L501.3 34.7M498.8 32.7L501.3 32.7M500.1 21.5L500.1 32.7M493.1 21.5L500.1 21.5M483.0 19.0L483.0 23.0M496.6 19.0L496.6 21.5M483.0 19.0L496.6 19.0M454.1 15.8L454.1 19.0M489.8 15.8L489.8 19.0M454.1 15.8L489.8 15.8M426.7 8.1L426.7 14.0M471.9 8.1L471.9 15.8M426.7 8.1L471.9 8.1M188.4 5.0L188.4 9.0M449.3 5.0L449.3 8.1M188.4 5.0L449.3 5.0" stroke="#a09898" stroke-width="0.85" fill="none" stroke-linecap="square"/>
<text x="32.3" y="69.0" font-size="8.9" text-anchor="end" fill="#000" stroke="#000" stroke-width="0.25" >TAT</text>
<text x="32.3" y="91.4" font-size="8.9" text-anchor="end" fill="#000" stroke="#000" stroke-width="0.25" >HPD</text>
<text x="32.3" y="114.0" font-size="8.9" text-anchor="end" fill="#000" stroke="#000" stroke-width="0.25" >HGD</text>
<text x="32.3" y="136.5" font-size="8.9" text-anchor="end" fill="#000" stroke="#000" stroke-width="0.25" >GSTZ1</text>
<text x="32.3" y="158.89999999999998" font-size="8.9" text-anchor="end" fill="#000" stroke="#000" stroke-width="0.25" >FAH</text>
<defs><linearGradient id="cb" x1="0" y1="0" x2="0" y2="1"><stop offset="0" stop-color="#ff0606"/><stop offset="0.18" stop-color="#ff0606"/><stop offset="0.5" stop-color="#0a0000"/><stop offset="0.6" stop-color="#000800"/><stop offset="0.86" stop-color="#12b016"/><stop offset="1" stop-color="#12b016"/></linearGradient></defs>
<rect x="508" y="55" width="12.6" height="97.6" fill="url(#cb)"/><path d="M520.6 55V152.6" stroke="#333" stroke-width="0.7"/>
<path d="M520.6 55.4H522.4" stroke="#222" stroke-width="0.7"/>
<text x="523.2" y="58.2" font-size="7.95" text-anchor="start" fill="#000" stroke="#000" stroke-width="0.25" >21.00</text>
<path d="M520.6 69.3H522.4" stroke="#222" stroke-width="0.7"/>
<text x="523.2" y="72.2" font-size="7.95" text-anchor="start" fill="#000" stroke="#000" stroke-width="0.25" >18.00</text>
<path d="M520.6 83.3H522.4" stroke="#222" stroke-width="0.7"/>
<text x="523.2" y="86.1" font-size="7.95" text-anchor="start" fill="#000" stroke="#000" stroke-width="0.25" >15.00</text>
<path d="M520.6 97.2H522.4" stroke="#222" stroke-width="0.7"/>
<text x="523.2" y="100.0" font-size="7.95" text-anchor="start" fill="#000" stroke="#000" stroke-width="0.25" >12.00</text>
<path d="M520.6 111.1H522.4" stroke="#222" stroke-width="0.7"/>
<text x="523.2" y="114.0" font-size="7.95" text-anchor="start" fill="#000" stroke="#000" stroke-width="0.25" >9.00</text>
<path d="M520.6 125.1H522.4" stroke="#222" stroke-width="0.7"/>
<text x="523.2" y="127.9" font-size="7.95" text-anchor="start" fill="#000" stroke="#000" stroke-width="0.25" >6.00</text>
<path d="M520.6 139.0H522.4" stroke="#222" stroke-width="0.7"/>
<text x="523.2" y="141.8" font-size="7.95" text-anchor="start" fill="#000" stroke="#000" stroke-width="0.25" >3.00</text>
<path d="M520.6 152.9H522.4" stroke="#222" stroke-width="0.7"/>
<text x="523.2" y="155.8" font-size="7.95" text-anchor="start" fill="#000" stroke="#000" stroke-width="0.25" >0.00</text>
<text x="10.6" y="17.4" font-size="14.3" text-anchor="start" fill="#000" stroke="#000" stroke-width="0.25" >A</text>
<text x="11.4" y="183.4" font-size="14.2" text-anchor="start" fill="#000" stroke="#000" stroke-width="0.25" >B</text>
<text x="279.8" y="182.4" font-size="14.3" text-anchor="start" fill="#000" stroke="#000" stroke-width="0.25" >C</text>
<text x="10.5" y="289.5" font-size="14.3" text-anchor="start" fill="#000" stroke="#000" stroke-width="0.25" >D</text>
<rect x="32.8" y="189.5" width="109.2" height="48.6" fill="#fff" stroke="#d4d4d4" stroke-width="0.7"/>
<path d="M54.6 189.5V238.1M76.5 189.5V238.1M98.3 189.5V238.1M120.2 189.5V238.1M32.8 191.6H142M32.8 207H142M32.8 222H142M32.8 236H142" stroke="#ececec" stroke-width="0.6" fill="none"/>
<text x="88.5" y="188.3" font-size="7.6" text-anchor="middle" fill="#000" stroke="#000" stroke-width="0.25" >Cell cycle chenkpoint</text>
<text x="32.0" y="194.4" font-size="7.7" text-anchor="end" fill="#000" stroke="#000" stroke-width="0.25" >0.6</text>
<text x="32.0" y="209.8" font-size="7.7" text-anchor="end" fill="#000" stroke="#000" stroke-width="0.25" >0.4</text>
<text x="32.0" y="224.8" font-size="7.7" text-anchor="end" fill="#000" stroke="#000" stroke-width="0.25" >0.2</text>
<text x="32.0" y="238.8" font-size="7.7" text-anchor="end" fill="#000" stroke="#000" stroke-width="0.25" >0</text>
<text transform="translate(18.3,226) rotate(-90)" font-size="7.55" text-anchor="middle" fill="#000" stroke="#000" stroke-width="0.25">Enrichment Score (ES)</text>
<path d="M32.8 236.4L33.2 230.9L33.9 225.5L34.5 220.0L35.2 215.6L36.3 211.9L37.2 209.7L38.5 205.8L40.0 203.2L41.5 201.5L43.3 199.7L45.5 197.1L47.6 195.8L49.8 194.5L52.0 193.2L53.7 192.5L55.3 192.9L57.5 193.4L59.1 193.8L60.7 194.5L62.9 195.5L65.1 196.4L67.3 197.5L69.5 198.8L71.7 200.2L73.8 201.5L76.0 202.6L78.2 203.6L80.3 204.7L82.5 206.3L84.2 207.1L85.8 208.7L87.4 209.4L89.1 210.6L90.7 211.6L92.3 213.2L94.0 214.0L95.6 215.2L97.2 216.4L98.9 217.2L100.5 218.4L102.2 219.3L103.8 220.1L105.5 221.4L107.1 222.5L108.7 223.3L110.3 224.4L112.0 225.6L113.7 226.6L115.3 227.6L116.9 228.3L118.5 229.8L120.2 230.7L121.8 231.6L123.6 232.3L125.5 233.1L127.3 234.2L129.4 235.3L131.6 235.9L133.2 236.3L134.9 236.8L136.4 235.9L137.8 237.2L139.3 236.4L140.6 236.8L141.9 235.1" stroke="#33cf22" stroke-width="1.35" fill="none" stroke-linejoin="round"/>
<text x="40.4" y="224.4" font-size="6.4" text-anchor="start" fill="#000" stroke="#000" stroke-width="0.25" >NES = 2.447</text>
<text x="40.4" y="232.5" font-size="6.4" fill="#000" stroke="#000" stroke-width="0.15"><tspan font-style="italic">p</tspan> value = 0.0</text>
<defs><linearGradient id="bg11" x1="0" y1="0" x2="1" y2="0"><stop offset="0" stop-color="#1c1a1a"/><stop offset="0.1" stop-color="#6a6664"/><stop offset="0.26" stop-color="#c4c0bc"/><stop offset="0.38" stop-color="#f3f0ee"/><stop offset="1" stop-color="#f3f0ee"/></linearGradient></defs>
<rect x="33.199999999999996" y="240.6" width="108.8" height="16.2" fill="url(#bg11)"/>
<rect x="33.2" y="240.6" width="2.6" height="16.2" fill="#0a0808"/><rect x="39.2" y="240.6" width="2.2" height="16.2" fill="#4e4844"/><rect x="43.7" y="240.6" width="3.0" height="16.2" fill="#0e0804"/><rect x="47.6" y="240.6" width="1.6" height="16.2" fill="#4e4844"/><rect x="53.1" y="240.6" width="3.0" height="16.2" fill="#4e4844"/><rect x="56.1" y="240.6" width="3.0" height="16.2" fill="#0e0804"/><rect x="59.3" y="240.6" width="1.2" height="16.2" fill="#a6a09c"/><rect x="61.4" y="240.6" width="1.6" height="16.2" fill="#a6a09c"/><rect x="63.2" y="240.6" width="3.0" height="16.2" fill="#1e1814"/><rect x="67.1" y="240.6" width="0.8" height="16.2" fill="#2e2824"/><rect x="69.8" y="240.6" width="1.0" height="16.2" fill="#66605c"/><rect x="71.3" y="240.6" width="0.6" height="16.2" fill="#36302c"/><rect x="74.9" y="240.6" width="0.8" height="16.2" fill="#36302c"/><rect x="78.9" y="240.6" width="1.4" height="16.2" fill="#66605c"/><rect x="80.8" y="240.6" width="1.0" height="16.2" fill="#96908c"/><rect x="83.2" y="240.6" width="1.0" height="16.2" fill="#1e1814"/><rect x="84.2" y="240.6" width="0.7" height="16.2" fill="#66605c"/><rect x="85.1" y="240.6" width="1.0" height="16.2" fill="#2e2824"/><rect x="86.3" y="240.6" width="2.0" height="16.2" fill="#1e1814"/><rect x="93.1" y="240.6" width="0.7" height="16.2" fill="#66605c"/><rect x="94.7" y="240.6" width="2.0" height="16.2" fill="#96908c"/><rect x="97.2" y="240.6" width="1.4" height="16.2" fill="#1e1814"/><rect x="98.6" y="240.6" width="1.0" height="16.2" fill="#2e2824"/><rect x="99.6" y="240.6" width="1.4" height="16.2" fill="#66605c"/><rect x="103.4" y="240.6" width="2.0" height="16.2" fill="#2e2824"/><rect x="107.1" y="240.6" width="1.0" height="16.2" fill="#b6b0ac"/><rect x="110.3" y="240.6" width="2.0" height="16.2" fill="#1e1814"/><rect x="112.3" y="240.6" width="1.4" height="16.2" fill="#8e8884"/><rect x="116.9" y="240.6" width="1.4" height="16.2" fill="#46403c"/><rect x="118.5" y="240.6" width="1.0" height="16.2" fill="#a6a09c"/><rect x="119.5" y="240.6" width="1.4" height="16.2" fill="#5e5854"/><rect x="120.9" y="240.6" width="0.7" height="16.2" fill="#8e8884"/><rect x="121.8" y="240.6" width="0.7" height="16.2" fill="#76706c"/><rect x="123.0" y="240.6" width="1.0" height="16.2" fill="#5e5854"/><rect x="129.5" y="240.6" width="0.7" height="16.2" fill="#46403c"/><rect x="133.3" y="240.6" width="1.8" height="16.2" fill="#46403c"/><rect x="135.3" y="240.6" width="1.4" height="16.2" fill="#8e8884"/><rect x="138.5" y="240.6" width="1.8" height="16.2" fill="#a6a09c"/><rect x="141.2" y="240.6" width="0.8" height="16.2" fill="#a6a09c"/>
<defs><linearGradient id="gs11" x1="0" y1="0" x2="1" y2="0"><stop offset="0" stop-color="#f00c1c"/><stop offset="0.27" stop-color="#f01024"/><stop offset="0.29" stop-color="#f0304c"/><stop offset="0.40" stop-color="#f03c58"/><stop offset="0.42" stop-color="#f25468"/><stop offset="0.54" stop-color="#f25c70"/><stop offset="0.56" stop-color="#f2a0cc"/><stop offset="0.68" stop-color="#eeb0d8"/><stop offset="0.70" stop-color="#ccb4e2"/><stop offset="0.82" stop-color="#b8a4de"/><stop offset="0.84" stop-color="#6a58c4"/><stop offset="0.92" stop-color="#5444bc"/><stop offset="0.94" stop-color="#3020b0"/><stop offset="1" stop-color="#2a1aa8"/></linearGradient></defs>
<rect x="33.199999999999996" y="256.8" width="108.8" height="4.0" fill="url(#gs11)"/>
<text x="33.3" y="268.2" font-size="7.7" text-anchor="start" fill="#000" stroke="#000" stroke-width="0.25" >Low</text>
<text x="142" y="268.2" font-size="7.7" text-anchor="end" fill="#000" stroke="#000" stroke-width="0.25" >High</text>
<rect x="170.5" y="189.5" width="109.3" height="49.0" fill="#fff" stroke="#d4d4d4" stroke-width="0.7"/>
<path d="M192.4 189.5V238.5M214.2 189.5V238.5M236.1 189.5V238.5M257.9 189.5V238.5M170.5 193H279.8M170.5 207.6H279.8M170.5 222.7H279.8M170.5 237H279.8" stroke="#ececec" stroke-width="0.6" fill="none"/>
<text x="226" y="188.3" font-size="7.6" text-anchor="middle" fill="#000" stroke="#000" stroke-width="0.25" >Chromosome segregation</text>
<text x="168.20000000000002" y="195.8" font-size="7.7" text-anchor="end" fill="#000" stroke="#000" stroke-width="0.25" >0.6</text>
<text x="168.20000000000002" y="210.4" font-size="7.7" text-anchor="end" fill="#000" stroke="#000" stroke-width="0.25" >0.4</text>
<text x="168.20000000000002" y="225.5" font-size="7.7" text-anchor="end" fill="#000" stroke="#000" stroke-width="0.25" >0.2</text>
<text x="168.20000000000002" y="239.8" font-size="7.7" text-anchor="end" fill="#000" stroke="#000" stroke-width="0.25" >0</text>
<text transform="translate(154.2,224.8) rotate(-90)" font-size="7.55" text-anchor="middle" fill="#000" stroke="#000" stroke-width="0.25">Enrichment Score (ES)</text>
<path d="M170.5 238.1L170.9 232.0L171.5 225.5L172.2 218.9L173.1 212.4L174.2 207.6L175.3 204.7L176.3 203.6L177.7 203.2L179.2 201.5L181.4 198.8L183.5 197.1L185.7 195.8L187.9 194.7L190.1 193.8L192.3 193.2L193.8 192.7L195.5 193.2L197.7 193.6L199.3 194.3L201.0 194.9L202.7 195.8L204.3 196.4L206.4 197.5L208.6 198.4L210.8 199.6L213.0 200.4L215.2 201.7L217.4 202.8L219.6 204.3L221.7 205.4L223.9 206.5L226.1 208.0L228.3 209.3L230.5 210.6L232.1 211.9L233.8 212.9L235.4 214.1L237.0 215.0L238.6 216.0L240.2 217.3L241.9 218.3L243.5 219.6L245.2 220.7L246.8 221.8L248.4 222.6L250.1 223.9L251.7 224.8L253.4 225.9L255.0 227.3L256.6 228.1L258.2 229.1L259.9 229.7L261.6 230.9L263.2 231.6L264.8 232.2L266.4 233.2L268.1 233.7L269.7 234.6L271.9 235.1L274.1 236.1L275.8 237.0L277.4 237.5L279.6 238.5" stroke="#33cf22" stroke-width="1.35" fill="none" stroke-linejoin="round"/>
<text x="183" y="224.4" font-size="6.4" text-anchor="start" fill="#000" stroke="#000" stroke-width="0.25" >NES = 2.529</text>
<text x="183" y="232.5" font-size="6.4" fill="#000" stroke="#000" stroke-width="0.15"><tspan font-style="italic">p</tspan> value = 0.0</text>
<defs><linearGradient id="bg12" x1="0" y1="0" x2="1" y2="0"><stop offset="0" stop-color="#1c1a1a"/><stop offset="0.1" stop-color="#6a6664"/><stop offset="0.26" stop-color="#c4c0bc"/><stop offset="0.38" stop-color="#f3f0ee"/><stop offset="1" stop-color="#f3f0ee"/></linearGradient></defs>
<rect x="170.9" y="240.6" width="108.9" height="16.2" fill="url(#bg12)"/>
<rect x="170.9" y="240.6" width="2.6" height="16.2" fill="#0a0808"/><rect x="173.8" y="240.6" width="2.2" height="16.2" fill="#4e4844"/><rect x="176.5" y="240.6" width="1.2" height="16.2" fill="#1e1814"/><rect x="178.6" y="240.6" width="1.6" height="16.2" fill="#2e2824"/><rect x="180.4" y="240.6" width="3.0" height="16.2" fill="#4e4844"/><rect x="183.6" y="240.6" width="2.2" height="16.2" fill="#1e1814"/><rect x="186.0" y="240.6" width="0.8" height="16.2" fill="#16100c"/><rect x="186.8" y="240.6" width="3.0" height="16.2" fill="#1e1814"/><rect x="190.7" y="240.6" width="0.8" height="16.2" fill="#0e0804"/><rect x="193.4" y="240.6" width="2.2" height="16.2" fill="#2e2824"/><rect x="195.8" y="240.6" width="3.0" height="16.2" fill="#4e4844"/><rect x="199.0" y="240.6" width="0.8" height="16.2" fill="#4e4844"/><rect x="199.8" y="240.6" width="2.2" height="16.2" fill="#7e7874"/><rect x="202.9" y="240.6" width="2.2" height="16.2" fill="#4e4844"/><rect x="208.3" y="240.6" width="1.0" height="16.2" fill="#66605c"/><rect x="209.8" y="240.6" width="1.0" height="16.2" fill="#c6c0bc"/><rect x="211.0" y="240.6" width="0.6" height="16.2" fill="#b6b0ac"/><rect x="211.6" y="240.6" width="0.6" height="16.2" fill="#b6b0ac"/><rect x="212.2" y="240.6" width="1.4" height="16.2" fill="#c6c0bc"/><rect x="213.6" y="240.6" width="0.8" height="16.2" fill="#96908c"/><rect x="214.4" y="240.6" width="1.4" height="16.2" fill="#96908c"/><rect x="215.8" y="240.6" width="1.4" height="16.2" fill="#96908c"/><rect x="223.7" y="240.6" width="1.0" height="16.2" fill="#b6b0ac"/><rect x="226.1" y="240.6" width="1.0" height="16.2" fill="#1e1814"/><rect x="227.1" y="240.6" width="1.0" height="16.2" fill="#46403c"/><rect x="229.5" y="240.6" width="0.7" height="16.2" fill="#96908c"/><rect x="231.1" y="240.6" width="2.0" height="16.2" fill="#46403c"/><rect x="234.0" y="240.6" width="1.0" height="16.2" fill="#96908c"/><rect x="235.0" y="240.6" width="1.4" height="16.2" fill="#96908c"/><rect x="238.8" y="240.6" width="0.7" height="16.2" fill="#b6b0ac"/><rect x="239.5" y="240.6" width="1.0" height="16.2" fill="#46403c"/><rect x="241.4" y="240.6" width="1.0" height="16.2" fill="#66605c"/><rect x="243.3" y="240.6" width="0.7" height="16.2" fill="#96908c"/><rect x="244.5" y="240.6" width="0.7" height="16.2" fill="#96908c"/><rect x="247.7" y="240.6" width="1.4" height="16.2" fill="#66605c"/><rect x="250.9" y="240.6" width="1.8" height="16.2" fill="#8e8884"/><rect x="252.7" y="240.6" width="1.4" height="16.2" fill="#76706c"/><rect x="255.0" y="240.6" width="0.7" height="16.2" fill="#a6a09c"/><rect x="256.6" y="240.6" width="1.0" height="16.2" fill="#76706c"/><rect x="262.1" y="240.6" width="1.4" height="16.2" fill="#5e5854"/><rect x="264.4" y="240.6" width="1.8" height="16.2" fill="#46403c"/><rect x="266.7" y="240.6" width="1.8" height="16.2" fill="#76706c"/><rect x="268.5" y="240.6" width="1.0" height="16.2" fill="#76706c"/><rect x="272.3" y="240.6" width="1.4" height="16.2" fill="#5e5854"/><rect x="274.2" y="240.6" width="1.0" height="16.2" fill="#8e8884"/><rect x="275.4" y="240.6" width="1.8" height="16.2" fill="#46403c"/><rect x="277.4" y="240.6" width="1.8" height="16.2" fill="#8e8884"/>
<defs><linearGradient id="gs12" x1="0" y1="0" x2="1" y2="0"><stop offset="0" stop-color="#f00c1c"/><stop offset="0.27" stop-color="#f01024"/><stop offset="0.29" stop-color="#f0304c"/><stop offset="0.40" stop-color="#f03c58"/><stop offset="0.42" stop-color="#f25468"/><stop offset="0.54" stop-color="#f25c70"/><stop offset="0.56" stop-color="#f2a0cc"/><stop offset="0.68" stop-color="#eeb0d8"/><stop offset="0.70" stop-color="#ccb4e2"/><stop offset="0.82" stop-color="#b8a4de"/><stop offset="0.84" stop-color="#6a58c4"/><stop offset="0.92" stop-color="#5444bc"/><stop offset="0.94" stop-color="#3020b0"/><stop offset="1" stop-color="#2a1aa8"/></linearGradient></defs>
<rect x="170.9" y="256.8" width="108.9" height="4.0" fill="url(#gs12)"/>
<text x="171.0" y="268.2" font-size="7.7" text-anchor="start" fill="#000" stroke="#000" stroke-width="0.25" >Low</text>
<text x="279.8" y="268.2" font-size="7.7" text-anchor="end" fill="#000" stroke="#000" stroke-width="0.25" >High</text>
<rect x="421.8" y="183.1" width="47.4" height="6.6" fill="#fe0f0f"/>
<text x="419.8" y="188.4" font-size="7.62" text-anchor="end" fill="#000" stroke="#000" stroke-width="0.25" >DNA PACKAGING</text>
<rect x="421.8" y="193.0" width="54.6" height="6.6" fill="#fe0f0f"/>
<text x="419.8" y="198.3" font-size="7.62" text-anchor="end" fill="#000" stroke="#000" stroke-width="0.25" >MITOTIC SPINDLE ORGANIZATION</text>
<rect x="421.8" y="202.9" width="54.6" height="6.6" fill="#fe0f0f"/>
<text x="419.8" y="208.2" font-size="7.62" text-anchor="end" fill="#000" stroke="#000" stroke-width="0.25" >KINETOCHORE</text>
<rect x="421.8" y="212.8" width="59.2" height="6.6" fill="#fe0f0f"/>
<text x="419.8" y="218.1" font-size="7.62" text-anchor="end" fill="#000" stroke="#000" stroke-width="0.25" >CELL CYCLE CHECKPOINT</text>
<rect x="421.8" y="222.7" width="63.9" height="6.6" fill="#fe0f0f"/>
<text x="419.8" y="228.0" font-size="7.62" text-anchor="end" fill="#000" stroke="#000" stroke-width="0.25" >MITOTIC NUCLEAR DIVISION</text>
<rect x="421.8" y="232.6" width="66.1" height="6.6" fill="#fe0f0f"/>
<text x="419.8" y="237.9" font-size="7.62" text-anchor="end" fill="#000" stroke="#000" stroke-width="0.25" >DNA DEPENDENT DNA REPLICATION</text>
<rect x="421.8" y="242.5" width="77.9" height="6.6" fill="#fe0f0f"/>
<text x="419.8" y="247.8" font-size="7.62" text-anchor="end" fill="#000" stroke="#000" stroke-width="0.25" >CHROMOSOME SEGREGATION</text>
<rect x="421.8" y="252.4" width="96.9" height="6.6" fill="#fe0f0f"/>
<text x="419.8" y="257.7" font-size="7.62" text-anchor="end" fill="#000" stroke="#000" stroke-width="0.25" >SISTER CHROMATID SEGREGATION</text>
<path d="M421.4 181.5V260.6" stroke="#333" stroke-width="0.8" fill="none"/>
<path d="M421 260.6H540.8M421.4 260.6v2.2M469.2 260.6v2.2M516.8 260.6v2.2M540.6 260.6v2.2" stroke="#777" stroke-width="1.2" fill="none"/>
<text x="423.4" y="268.9" font-size="7.8" text-anchor="middle" fill="#000" stroke="#000" stroke-width="0.25" >2.2</text>
<text x="469.5" y="268.9" font-size="7.8" text-anchor="middle" fill="#000" stroke="#000" stroke-width="0.25" >2.4</text>
<text x="516.8" y="268.9" font-size="7.8" text-anchor="middle" fill="#000" stroke="#000" stroke-width="0.25" >2.6</text>
<text x="469.5" y="277" font-size="7.8" text-anchor="middle" fill="#000" stroke="#000" stroke-width="0.25" >NES</text>
<text x="84" y="295.8" font-size="10.3" text-anchor="middle" fill="#000" stroke="#000" stroke-width="0.25" >CDK1</text>
<text x="32.2" y="301.1" font-size="8.2" text-anchor="end" fill="#000" stroke="#000" stroke-width="0.25" >2</text>
<text x="32.2" y="328.6" font-size="8.2" text-anchor="end" fill="#000" stroke="#000" stroke-width="0.25" >1</text>
<text x="32.2" y="356.1" font-size="8.2" text-anchor="end" fill="#000" stroke="#000" stroke-width="0.25" >0</text>
<text x="32.2" y="383.6" font-size="8.2" text-anchor="end" fill="#000" stroke="#000" stroke-width="0.25" >-1</text>
<text x="32.2" y="411.1" font-size="8.2" text-anchor="end" fill="#000" stroke="#000" stroke-width="0.25" >-2</text>
<path d="M37.5 298.1V408.1M33.2 298.1H37.5M33.2 325.6H37.5M33.2 353.1H37.5M33.2 380.6H37.5M33.2 408.1H37.5M37.5 353.2H142.6" stroke="#222" stroke-width="0.9" fill="none"/>
<text transform="translate(22.2,358.3) rotate(-90)" font-size="8.55" text-anchor="middle" fill="#000" stroke="#000" stroke-width="0.25">Relative mRNA level</text>
<path d="M62.8 367.3V380.8M54.0 380.8H71.6M116.7 346.2V316M107.7 316H125.7" stroke="#444" stroke-width="0.75" fill="none"/>
<rect x="44.9" y="353.2" width="35.9" height="14.1" fill="#fe0a0a" stroke="#222" stroke-width="0.7"/>
<rect x="98.7" y="346.2" width="35.9" height="7.0" fill="#2a2290" stroke="#222" stroke-width="0.7"/>
<path d="M63.5 311.9H116" stroke="#555" stroke-width="0.9"/>
<text x="89" y="311.0" font-size="8.6" text-anchor="middle" fill="#000" stroke="#000" stroke-width="0.25" font-weight="bold">***</text>
<text x="214" y="295.8" font-size="10.3" text-anchor="middle" fill="#000" stroke="#000" stroke-width="0.25" >CDK4</text>
<text x="162.2" y="301.1" font-size="8.2" text-anchor="end" fill="#000" stroke="#000" stroke-width="0.25" >2</text>
<text x="162.2" y="328.6" font-size="8.2" text-anchor="end" fill="#000" stroke="#000" stroke-width="0.25" >1</text>
<text x="162.2" y="356.1" font-size="8.2" text-anchor="end" fill="#000" stroke="#000" stroke-width="0.25" >0</text>
<text x="162.2" y="383.6" font-size="8.2" text-anchor="end" fill="#000" stroke="#000" stroke-width="0.25" >-1</text>
<text x="162.2" y="411.1" font-size="8.2" text-anchor="end" fill="#000" stroke="#000" stroke-width="0.25" >-2</text>
<path d="M167.5 298.1V408.1M163.2 298.1H167.5M163.2 325.6H167.5M163.2 353.1H167.5M163.2 380.6H167.5M163.2 408.1H167.5M167.5 353.2H272.6" stroke="#222" stroke-width="0.9" fill="none"/>
<text transform="translate(152.2,358.3) rotate(-90)" font-size="8.55" text-anchor="middle" fill="#000" stroke="#000" stroke-width="0.25">Relative mRNA level</text>
<path d="M192.9 365.7V380.8M184.1 380.8H201.7M246.7 346.8V316.7M237.7 316.7H255.7" stroke="#444" stroke-width="0.75" fill="none"/>
<rect x="174.9" y="353.2" width="35.9" height="12.5" fill="#fe0a0a" stroke="#222" stroke-width="0.7"/>
<rect x="228.7" y="346.8" width="35.9" height="6.4" fill="#2a2290" stroke="#222" stroke-width="0.7"/>
<path d="M193.5 311.9H246" stroke="#555" stroke-width="0.9"/>
<text x="219" y="311.0" font-size="8.6" text-anchor="middle" fill="#000" stroke="#000" stroke-width="0.25" font-weight="bold">***</text>
<text x="344" y="295.8" font-size="10.3" text-anchor="middle" fill="#000" stroke="#000" stroke-width="0.25" >CDC6</text>
<text x="292.2" y="301.1" font-size="8.2" text-anchor="end" fill="#000" stroke="#000" stroke-width="0.25" >2</text>
<text x="292.2" y="328.6" font-size="8.2" text-anchor="end" fill="#000" stroke="#000" stroke-width="0.25" >1</text>
<text x="292.2" y="356.1" font-size="8.2" text-anchor="end" fill="#000" stroke="#000" stroke-width="0.25" >0</text>
<text x="292.2" y="383.6" font-size="8.2" text-anchor="end" fill="#000" stroke="#000" stroke-width="0.25" >-1</text>
<text x="292.2" y="411.1" font-size="8.2" text-anchor="end" fill="#000" stroke="#000" stroke-width="0.25" >-2</text>
<path d="M297.5 298.1V408.1M293.2 298.1H297.5M293.2 325.6H297.5M293.2 353.1H297.5M293.2 380.6H297.5M293.2 408.1H297.5M297.5 353.2H402.6" stroke="#222" stroke-width="0.9" fill="none"/>
<text transform="translate(282.2,358.3) rotate(-90)" font-size="8.55" text-anchor="middle" fill="#000" stroke="#000" stroke-width="0.25">Relative mRNA level</text>
<path d="M322.9 368V380.1M314.1 380.1H331.7M376.6 346.2V315.7M367.6 315.7H385.6" stroke="#444" stroke-width="0.75" fill="none"/>
<rect x="304.9" y="353.2" width="35.9" height="14.8" fill="#fe0a0a" stroke="#222" stroke-width="0.7"/>
<rect x="358.7" y="346.2" width="35.9" height="7.0" fill="#2a2290" stroke="#222" stroke-width="0.7"/>
<path d="M323.5 311.9H376" stroke="#555" stroke-width="0.9"/>
<text x="349" y="311.0" font-size="8.6" text-anchor="middle" fill="#000" stroke="#000" stroke-width="0.25" font-weight="bold">***</text>
<text x="476" y="295.4" font-size="10.3" text-anchor="middle" fill="#000" stroke="#000" stroke-width="0.25" >CDC7</text>
<text x="424.2" y="301.8" font-size="8.2" text-anchor="end" fill="#000" stroke="#000" stroke-width="0.25" >2</text>
<text x="424.2" y="329.3" font-size="8.2" text-anchor="end" fill="#000" stroke="#000" stroke-width="0.25" >1</text>
<text x="424.2" y="356.8" font-size="8.2" text-anchor="end" fill="#000" stroke="#000" stroke-width="0.25" >0</text>
<text x="424.2" y="384.3" font-size="8.2" text-anchor="end" fill="#000" stroke="#000" stroke-width="0.25" >-1</text>
<text x="424.2" y="411.8" font-size="8.2" text-anchor="end" fill="#000" stroke="#000" stroke-width="0.25" >-2</text>
<path d="M429.5 298.8V408.8M425.2 298.8H429.5M425.2 326.3H429.5M425.2 353.8H429.5M425.2 381.3H429.5M425.2 408.8H429.5M429.5 353.9H534.6" stroke="#222" stroke-width="0.9" fill="none"/>
<text transform="translate(414.2,359.0) rotate(-90)" font-size="8.55" text-anchor="middle" fill="#000" stroke="#000" stroke-width="0.25">Relative mRNA level</text>
<path d="M454.9 367.2V380.2M446.1 380.2H463.7M508.6 347.2V316.9M499.6 316.9H517.6" stroke="#444" stroke-width="0.75" fill="none"/>
<rect x="436.9" y="353.9" width="35.9" height="13.3" fill="#fe0a0a" stroke="#222" stroke-width="0.7"/>
<rect x="490.7" y="347.2" width="35.9" height="6.7" fill="#2a2290" stroke="#222" stroke-width="0.7"/>
<path d="M455.5 312.59999999999997H508" stroke="#555" stroke-width="0.9"/>
<text x="481" y="311.7" font-size="8.6" text-anchor="middle" fill="#000" stroke="#000" stroke-width="0.25" font-weight="bold">***</text>
<rect x="132.4" y="421.8" width="16" height="8.4" fill="#fe0a0a" stroke="#222" stroke-width="0.7"/>
<text x="157.2" y="430" font-size="9.6" text-anchor="start" fill="#000" stroke="#000" stroke-width="0.25" >High tyrosine metabolism</text>
<rect x="282.8" y="421.8" width="16" height="8.4" fill="#2a2290" stroke="#222" stroke-width="0.7"/>
<text x="308.2" y="430" font-size="9.6" text-anchor="start" fill="#000" stroke="#000" stroke-width="0.25" >Low tyrosine metabolism</text></svg></body></html>
